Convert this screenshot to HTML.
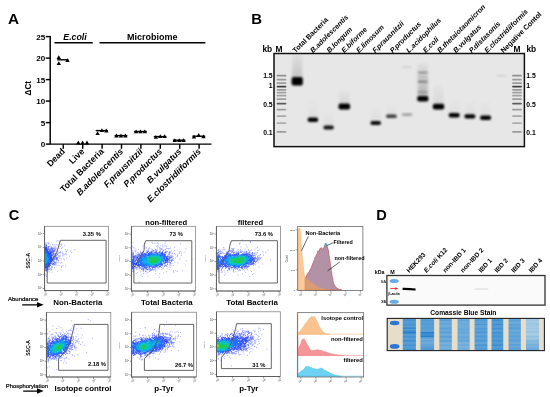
<!DOCTYPE html>
<html><head><meta charset="utf-8"><style>
html,body{margin:0;padding:0;background:#fff;overflow:hidden;width:550px;height:397px;}
svg{display:block;}
text{font-family:"Liberation Sans", Arial, sans-serif;}
</style></head><body>
<svg width="550" height="397" viewBox="0 0 550 397">
<rect width="550" height="397" fill="#fff"/>
<text x="8.00" y="23.60" font-size="15.3" font-weight="bold" text-anchor="start" fill="#000">A</text>
<g stroke="#000" stroke-width="1.45" fill="none">
<path d="M50.2 36.0V144.1H211.5"/>
<path d="M45.8 36.60H50.2"/>
<path d="M45.8 58.10H50.2"/>
<path d="M45.8 79.60H50.2"/>
<path d="M45.8 101.10H50.2"/>
<path d="M45.8 122.60H50.2"/>
<path d="M45.8 144.10H50.2"/>
<path d="M63.30 144.1V148.8"/>
<path d="M82.70 144.1V148.8"/>
<path d="M102.10 144.1V148.8"/>
<path d="M121.50 144.1V148.8"/>
<path d="M140.90 144.1V148.8"/>
<path d="M160.30 144.1V148.8"/>
<path d="M179.70 144.1V148.8"/>
<path d="M199.10 144.1V148.8"/>
<path d="M54.5 42.8H92.7M99.5 42.8H205.4"/>
</g>
<text x="45.30" y="39.50" font-size="8.1" font-weight="bold" text-anchor="end" fill="#000">25</text>
<text x="45.30" y="61.00" font-size="8.1" font-weight="bold" text-anchor="end" fill="#000">20</text>
<text x="45.30" y="82.50" font-size="8.1" font-weight="bold" text-anchor="end" fill="#000">15</text>
<text x="45.30" y="104.00" font-size="8.1" font-weight="bold" text-anchor="end" fill="#000">10</text>
<text x="45.30" y="125.50" font-size="8.1" font-weight="bold" text-anchor="end" fill="#000">5</text>
<text x="45.30" y="147.00" font-size="8.1" font-weight="bold" text-anchor="end" fill="#000">0</text>
<text x="30.70" y="88.20" font-size="8.2" font-weight="bold" text-anchor="middle" transform="rotate(-90 30.70 88.20)" fill="#000">&#916;Ct</text>
<text x="75.00" y="39.50" font-size="8.8" font-weight="bold" text-anchor="middle" font-style="italic" fill="#000">E.coli</text>
<text x="152.30" y="39.60" font-size="9.0" font-weight="bold" text-anchor="middle" fill="#000">Microbiome</text>
<text x="65.60" y="152.00" font-size="8.8" font-weight="bold" text-anchor="end" transform="rotate(-45 65.60 152.00)" fill="#000">Dead</text>
<text x="85.00" y="152.00" font-size="8.8" font-weight="bold" text-anchor="end" transform="rotate(-45 85.00 152.00)" fill="#000">Live</text>
<text x="104.40" y="152.00" font-size="8.8" font-weight="bold" text-anchor="end" transform="rotate(-45 104.40 152.00)" fill="#000">Total Bacteria</text>
<text x="123.80" y="152.00" font-size="8.8" font-weight="bold" text-anchor="end" font-style="italic" transform="rotate(-45 123.80 152.00)" fill="#000">B.adolescentis</text>
<text x="143.20" y="152.00" font-size="8.8" font-weight="bold" text-anchor="end" font-style="italic" transform="rotate(-45 143.20 152.00)" fill="#000">F.prausnitzii</text>
<text x="162.60" y="152.00" font-size="8.8" font-weight="bold" text-anchor="end" font-style="italic" transform="rotate(-45 162.60 152.00)" fill="#000">P.productus</text>
<text x="182.00" y="152.00" font-size="8.8" font-weight="bold" text-anchor="end" font-style="italic" transform="rotate(-45 182.00 152.00)" fill="#000">B.vulgatus</text>
<text x="201.40" y="152.00" font-size="8.8" font-weight="bold" text-anchor="end" font-style="italic" transform="rotate(-45 201.40 152.00)" fill="#000">E.clostridiiformis</text>
<path d="M56.60 59.10L58.80 55.30L61.00 59.10ZM56.60 65.00L58.80 61.20L61.00 65.00ZM65.30 62.00L67.50 58.20L69.70 62.00ZM76.10 144.40L78.30 140.60L80.50 144.40ZM80.40 144.40L82.60 140.60L84.80 144.40ZM84.80 144.40L87.00 140.60L89.20 144.40ZM95.40 135.10L97.60 131.30L99.80 135.10ZM99.70 132.00L101.90 128.20L104.10 132.00ZM104.10 132.40L106.30 128.60L108.50 132.40ZM114.20 137.40L116.40 133.60L118.60 137.40ZM118.80 137.40L121.00 133.60L123.20 137.40ZM123.20 137.40L125.40 133.60L127.60 137.40ZM133.90 133.30L136.10 129.50L138.30 133.30ZM138.30 133.30L140.50 129.50L142.70 133.30ZM142.60 133.30L144.80 129.50L147.00 133.30ZM153.70 138.80L155.90 135.00L158.10 138.80ZM158.10 138.10L160.30 134.30L162.50 138.10ZM162.40 138.10L164.60 134.30L166.80 138.10ZM172.60 142.00L174.80 138.20L177.00 142.00ZM177.00 142.00L179.20 138.20L181.40 142.00ZM181.30 142.00L183.50 138.20L185.70 142.00ZM191.80 138.60L194.00 134.80L196.20 138.60ZM196.50 136.90L198.70 133.10L200.90 136.90ZM201.30 138.30L203.50 134.50L205.70 138.30Z" fill="#000"/>
<g stroke="#000" stroke-width="1.4">
<path d="M57.2 59.8H68.4"/>
<path d="M95.7 130.6H108.0"/>
<path d="M114.6 135.6H127.4"/>
<path d="M134.2 131.5H146.8"/>
<path d="M153.8 136.6H166.4"/>
<path d="M173.0 140.2H185.4"/>
<path d="M192.4 136.2H205.2"/>
</g>
<text x="251.30" y="23.60" font-size="14.9" font-weight="bold" text-anchor="start" fill="#000">B</text>
<defs><filter id="bl" x="-50%" y="-50%" width="200%" height="200%"><feGaussianBlur stdDeviation="0.9"/></filter><filter id="bl2" x="-50%" y="-50%" width="200%" height="200%"><feGaussianBlur stdDeviation="1.4"/></filter><linearGradient id="smear" x1="0" y1="0" x2="0" y2="1"><stop offset="0" stop-color="#000" stop-opacity="0.04"/><stop offset="1" stop-color="#000" stop-opacity="0.22"/></linearGradient></defs>
<rect x="274.0" y="53.5" width="250.39999999999998" height="93.1" fill="#e7e7e7"/>
<defs><filter id="bl4" x="-50%" y="-80%" width="200%" height="260%"><feGaussianBlur stdDeviation="0.75"/></filter></defs>
<g><rect x="276.6" y="74.8" width="9.8" height="1.8" rx="0.9" fill="#000" fill-opacity="0.38" filter="url(#bl4)"/><rect x="276.6" y="78.8" width="9.8" height="1.8" rx="0.9" fill="#000" fill-opacity="0.33" filter="url(#bl4)"/><rect x="276.6" y="82.3" width="9.8" height="1.8" rx="0.9" fill="#000" fill-opacity="0.33" filter="url(#bl4)"/><rect x="276.6" y="85.7" width="9.8" height="1.8" rx="0.9" fill="#000" fill-opacity="0.72" filter="url(#bl4)"/><rect x="276.6" y="88.9" width="9.8" height="1.8" rx="0.9" fill="#000" fill-opacity="0.33" filter="url(#bl4)"/><rect x="276.6" y="91.7" width="9.8" height="1.8" rx="0.9" fill="#000" fill-opacity="0.3" filter="url(#bl4)"/><rect x="276.6" y="94.8" width="9.8" height="1.8" rx="0.9" fill="#000" fill-opacity="0.3" filter="url(#bl4)"/><rect x="276.6" y="98.2" width="9.8" height="1.8" rx="0.9" fill="#000" fill-opacity="0.32" filter="url(#bl4)"/><rect x="276.6" y="102.7" width="9.8" height="1.8" rx="0.9" fill="#000" fill-opacity="0.6" filter="url(#bl4)"/><rect x="276.6" y="108.7" width="9.8" height="1.8" rx="0.9" fill="#000" fill-opacity="0.32" filter="url(#bl4)"/><rect x="276.6" y="115.2" width="9.8" height="1.8" rx="0.9" fill="#000" fill-opacity="0.27" filter="url(#bl4)"/><rect x="276.6" y="122.3" width="9.8" height="1.8" rx="0.9" fill="#000" fill-opacity="0.25" filter="url(#bl4)"/><rect x="276.6" y="131.0" width="9.8" height="1.8" rx="0.9" fill="#000" fill-opacity="0.33" filter="url(#bl4)"/><rect x="512.1" y="74.8" width="9.8" height="1.8" rx="0.9" fill="#000" fill-opacity="0.38" filter="url(#bl4)"/><rect x="512.1" y="78.8" width="9.8" height="1.8" rx="0.9" fill="#000" fill-opacity="0.33" filter="url(#bl4)"/><rect x="512.1" y="82.3" width="9.8" height="1.8" rx="0.9" fill="#000" fill-opacity="0.33" filter="url(#bl4)"/><rect x="512.1" y="85.7" width="9.8" height="1.8" rx="0.9" fill="#000" fill-opacity="0.72" filter="url(#bl4)"/><rect x="512.1" y="88.9" width="9.8" height="1.8" rx="0.9" fill="#000" fill-opacity="0.33" filter="url(#bl4)"/><rect x="512.1" y="91.7" width="9.8" height="1.8" rx="0.9" fill="#000" fill-opacity="0.3" filter="url(#bl4)"/><rect x="512.1" y="94.8" width="9.8" height="1.8" rx="0.9" fill="#000" fill-opacity="0.3" filter="url(#bl4)"/><rect x="512.1" y="98.2" width="9.8" height="1.8" rx="0.9" fill="#000" fill-opacity="0.32" filter="url(#bl4)"/><rect x="512.1" y="102.7" width="9.8" height="1.8" rx="0.9" fill="#000" fill-opacity="0.6" filter="url(#bl4)"/><rect x="512.1" y="108.7" width="9.8" height="1.8" rx="0.9" fill="#000" fill-opacity="0.32" filter="url(#bl4)"/><rect x="512.1" y="115.2" width="9.8" height="1.8" rx="0.9" fill="#000" fill-opacity="0.27" filter="url(#bl4)"/><rect x="512.1" y="122.3" width="9.8" height="1.8" rx="0.9" fill="#000" fill-opacity="0.25" filter="url(#bl4)"/><rect x="512.1" y="131.0" width="9.8" height="1.8" rx="0.9" fill="#000" fill-opacity="0.33" filter="url(#bl4)"/><rect x="292.2" y="54.5" width="10" height="23.5" fill="url(#smear)" opacity="0.7" filter="url(#bl2)"/><rect x="339.3" y="90" width="10" height="14" fill="url(#smear)" opacity="0.35" filter="url(#bl2)"/><rect x="417.8" y="64" width="10" height="33" fill="url(#smear)" opacity="1.0" filter="url(#bl2)"/><rect x="433.5" y="84" width="10" height="21" fill="url(#smear)" opacity="0.3" filter="url(#bl2)"/><rect x="307.9" y="100" width="10" height="18" fill="url(#smear)" opacity="0.15" filter="url(#bl2)"/><rect x="449.2" y="100" width="10" height="14" fill="url(#smear)" opacity="0.15" filter="url(#bl2)"/><rect x="464.9" y="100" width="10" height="15" fill="url(#smear)" opacity="0.15" filter="url(#bl2)"/><rect x="480.6" y="100" width="10" height="16" fill="url(#smear)" opacity="0.15" filter="url(#bl2)"/><rect x="370.7" y="108" width="10" height="13" fill="url(#smear)" opacity="0.15" filter="url(#bl2)"/><rect x="386.4" y="105" width="10" height="10" fill="url(#smear)" opacity="0.15" filter="url(#bl2)"/><rect x="323.6" y="110" width="10" height="16" fill="url(#smear)" opacity="0.15" filter="url(#bl2)"/><rect x="291.6" y="77.0" width="11.2" height="8.4" rx="2" fill="#000" fill-opacity="1.0" filter="url(#bl)"/><rect x="307.6" y="117.5" width="10.6" height="4.6" rx="2" fill="#000" fill-opacity="1.0" filter="url(#bl)"/><rect x="323.4" y="125.5" width="10.4" height="4.0" rx="2.0" fill="#000" fill-opacity="0.92" filter="url(#bl)"/><rect x="338.5" y="103.6" width="11.6" height="6.0" rx="2" fill="#000" fill-opacity="1.0" filter="url(#bl)"/><rect x="370.4" y="120.9" width="10.6" height="4.0" rx="2.0" fill="#000" fill-opacity="0.97" filter="url(#bl)"/><rect x="386.0" y="114.6" width="10.8" height="3.4" rx="1.7" fill="#000" fill-opacity="0.75" filter="url(#bl)"/><rect x="401.9" y="113.3" width="10.4" height="2.6" rx="1.3" fill="#000" fill-opacity="0.3" filter="url(#bl)"/><rect x="402.1" y="66.2" width="10.0" height="1.6" rx="0.8" fill="#000" fill-opacity="0.12" filter="url(#bl)"/><rect x="417.2" y="96.0" width="11.2" height="5.6" rx="2" fill="#000" fill-opacity="1.0" filter="url(#bl)"/><rect x="417.6" y="71.5" width="10.4" height="2.2" rx="1.1" fill="#000" fill-opacity="0.3" filter="url(#bl)"/><rect x="417.6" y="80.5" width="10.4" height="2.2" rx="1.1" fill="#000" fill-opacity="0.35" filter="url(#bl)"/><rect x="417.6" y="76.2" width="10.4" height="1.6" rx="0.8" fill="#000" fill-opacity="0.15" filter="url(#bl)"/><rect x="417.6" y="91.1" width="10.4" height="1.8" rx="0.9" fill="#000" fill-opacity="0.2" filter="url(#bl)"/><rect x="432.8" y="103.7" width="11.4" height="5.8" rx="2" fill="#000" fill-opacity="1.0" filter="url(#bl)"/><rect x="448.7" y="113.1" width="11.0" height="4.4" rx="2" fill="#000" fill-opacity="1.0" filter="url(#bl)"/><rect x="464.4" y="114.2" width="11.0" height="4.4" rx="2" fill="#000" fill-opacity="1.0" filter="url(#bl)"/><rect x="480.1" y="115.6" width="11.0" height="4.4" rx="2" fill="#000" fill-opacity="1.0" filter="url(#bl)"/><rect x="496.5" y="74.9" width="9.6" height="1.6" rx="0.8" fill="#000" fill-opacity="0.12" filter="url(#bl)"/></g>
<rect x="274.0" y="144.7" width="250.39999999999998" height="1.2" fill="#f0f0f0"/>
<rect x="274.0" y="53.5" width="250.39999999999998" height="93.1" fill="none" stroke="#111" stroke-width="1.5"/>
<text x="272.60" y="77.50" font-size="6.8" font-weight="bold" text-anchor="end" fill="#000">1.5</text>
<text x="526.30" y="77.50" font-size="6.8" font-weight="bold" text-anchor="start" fill="#000">1.5</text>
<text x="272.60" y="88.10" font-size="6.8" font-weight="bold" text-anchor="end" fill="#000">1</text>
<text x="526.30" y="88.10" font-size="6.8" font-weight="bold" text-anchor="start" fill="#000">1</text>
<text x="272.60" y="106.70" font-size="6.8" font-weight="bold" text-anchor="end" fill="#000">0.5</text>
<text x="526.30" y="106.70" font-size="6.8" font-weight="bold" text-anchor="start" fill="#000">0.5</text>
<text x="272.60" y="134.60" font-size="6.8" font-weight="bold" text-anchor="end" fill="#000">0.1</text>
<text x="526.30" y="134.60" font-size="6.8" font-weight="bold" text-anchor="start" fill="#000">0.1</text>
<text x="262.40" y="52.00" font-size="8.4" font-weight="bold" text-anchor="start" fill="#000">kb</text>
<text x="275.40" y="52.00" font-size="8.4" font-weight="bold" text-anchor="start" fill="#000">M</text>
<text x="513.40" y="52.40" font-size="8.4" font-weight="bold" text-anchor="start" fill="#000">M</text>
<text x="526.40" y="52.40" font-size="8.4" font-weight="bold" text-anchor="start" fill="#000">kb</text>
<text x="295.60" y="53.30" font-size="7.15" font-weight="bold" text-anchor="start" transform="rotate(-45 295.60 53.30)" fill="#000">Total Bacteria</text>
<text x="313.10" y="53.30" font-size="7.15" font-weight="bold" text-anchor="start" font-style="italic" transform="rotate(-45 313.10 53.30)" fill="#000">B.adolescentis</text>
<text x="329.40" y="53.30" font-size="7.15" font-weight="bold" text-anchor="start" font-style="italic" transform="rotate(-45 329.40 53.30)" fill="#000">B.longum</text>
<text x="344.30" y="53.30" font-size="7.15" font-weight="bold" text-anchor="start" font-style="italic" transform="rotate(-45 344.30 53.30)" fill="#000">E.biforme</text>
<text x="358.90" y="53.30" font-size="7.15" font-weight="bold" text-anchor="start" font-style="italic" transform="rotate(-45 358.90 53.30)" fill="#000">E.limosum</text>
<text x="375.20" y="53.30" font-size="7.15" font-weight="bold" text-anchor="start" font-style="italic" transform="rotate(-45 375.20 53.30)" fill="#000">F.prausnitzii</text>
<text x="392.80" y="53.30" font-size="7.15" font-weight="bold" text-anchor="start" font-style="italic" transform="rotate(-45 392.80 53.30)" fill="#000">P.productus</text>
<text x="409.10" y="53.30" font-size="7.15" font-weight="bold" text-anchor="start" font-style="italic" transform="rotate(-45 409.10 53.30)" fill="#000">L.acidophilus</text>
<text x="425.80" y="53.30" font-size="7.15" font-weight="bold" text-anchor="start" font-style="italic" transform="rotate(-45 425.80 53.30)" fill="#000">E.coli</text>
<text x="439.90" y="53.30" font-size="7.15" font-weight="bold" text-anchor="start" font-style="italic" transform="rotate(-45 439.90 53.30)" fill="#000">B.thetaiotaomicron</text>
<text x="456.00" y="53.30" font-size="7.15" font-weight="bold" text-anchor="start" font-style="italic" transform="rotate(-45 456.00 53.30)" fill="#000">B.vulgatus</text>
<text x="471.80" y="53.30" font-size="7.15" font-weight="bold" text-anchor="start" font-style="italic" transform="rotate(-45 471.80 53.30)" fill="#000">P.distasonis</text>
<text x="487.20" y="53.30" font-size="7.15" font-weight="bold" text-anchor="start" font-style="italic" transform="rotate(-45 487.20 53.30)" fill="#000">E.clostridiiformis</text>
<text x="503.60" y="53.30" font-size="7.15" font-weight="bold" text-anchor="start" transform="rotate(-45 503.60 53.30)" fill="#000">Negative Contol</text>
<text x="8.80" y="219.70" font-size="14.6" font-weight="bold" text-anchor="start" fill="#000">C</text>
<rect x="44.6" y="226.3" width="63.99999999999999" height="64.30000000000001" fill="none" stroke="#777" stroke-width="0.7"/>
<path d="M44.6 226.3V290.6H108.6" fill="none" stroke="#444" stroke-width="0.7"/>
<path d="M42.6 288.5h2.0M42.6 274.8h2.0M42.6 261.1h2.0M42.6 247.4h2.0M42.6 233.7h2.0M45.2 290.6v2.0M60.7 290.6v2.0M76.2 290.6v2.0M91.7 290.6v2.0M107.2 290.6v2.0" stroke="#444" stroke-width="0.5"/>
<text x="42.00" y="289.40" font-size="2.6" font-weight="normal" text-anchor="end" fill="#333">10<tspan font-size="1.8" dy="-1">1</tspan></text>
<text x="42.00" y="275.70" font-size="2.6" font-weight="normal" text-anchor="end" fill="#333">10<tspan font-size="1.8" dy="-1">2</tspan></text>
<text x="42.00" y="262.00" font-size="2.6" font-weight="normal" text-anchor="end" fill="#333">10<tspan font-size="1.8" dy="-1">3</tspan></text>
<text x="42.00" y="248.30" font-size="2.6" font-weight="normal" text-anchor="end" fill="#333">10<tspan font-size="1.8" dy="-1">4</tspan></text>
<text x="42.00" y="234.60" font-size="2.6" font-weight="normal" text-anchor="end" fill="#333">10<tspan font-size="1.8" dy="-1">5</tspan></text>
<text x="46.20" y="295.20" font-size="2.6" font-weight="normal" text-anchor="middle" transform="rotate(-30 46.20 295.20)" fill="#333">10<tspan font-size="1.8" dy="-1">1</tspan></text>
<text x="61.70" y="295.20" font-size="2.6" font-weight="normal" text-anchor="middle" transform="rotate(-30 61.70 295.20)" fill="#333">10<tspan font-size="1.8" dy="-1">2</tspan></text>
<text x="77.20" y="295.20" font-size="2.6" font-weight="normal" text-anchor="middle" transform="rotate(-30 77.20 295.20)" fill="#333">10<tspan font-size="1.8" dy="-1">3</tspan></text>
<text x="92.70" y="295.20" font-size="2.6" font-weight="normal" text-anchor="middle" transform="rotate(-30 92.70 295.20)" fill="#333">10<tspan font-size="1.8" dy="-1">4</tspan></text>
<text x="108.20" y="295.20" font-size="2.6" font-weight="normal" text-anchor="middle" transform="rotate(-30 108.20 295.20)" fill="#333">10<tspan font-size="1.8" dy="-1">5</tspan></text>
<rect x="131.4" y="226.3" width="64.19999999999999" height="64.69999999999999" fill="none" stroke="#777" stroke-width="0.7"/>
<path d="M131.4 226.3V291.0H195.6" fill="none" stroke="#444" stroke-width="0.7"/>
<path d="M129.4 288.9h2.0M129.4 275.2h2.0M129.4 261.5h2.0M129.4 247.8h2.0M129.4 234.1h2.0M132.0 291.0v2.0M147.5 291.0v2.0M163.0 291.0v2.0M178.5 291.0v2.0M194.0 291.0v2.0" stroke="#444" stroke-width="0.5"/>
<text x="128.80" y="289.80" font-size="2.6" font-weight="normal" text-anchor="end" fill="#333">10<tspan font-size="1.8" dy="-1">1</tspan></text>
<text x="128.80" y="276.10" font-size="2.6" font-weight="normal" text-anchor="end" fill="#333">10<tspan font-size="1.8" dy="-1">2</tspan></text>
<text x="128.80" y="262.40" font-size="2.6" font-weight="normal" text-anchor="end" fill="#333">10<tspan font-size="1.8" dy="-1">3</tspan></text>
<text x="128.80" y="248.70" font-size="2.6" font-weight="normal" text-anchor="end" fill="#333">10<tspan font-size="1.8" dy="-1">4</tspan></text>
<text x="128.80" y="235.00" font-size="2.6" font-weight="normal" text-anchor="end" fill="#333">10<tspan font-size="1.8" dy="-1">5</tspan></text>
<text x="133.00" y="295.60" font-size="2.6" font-weight="normal" text-anchor="middle" transform="rotate(-30 133.00 295.60)" fill="#333">10<tspan font-size="1.8" dy="-1">1</tspan></text>
<text x="148.50" y="295.60" font-size="2.6" font-weight="normal" text-anchor="middle" transform="rotate(-30 148.50 295.60)" fill="#333">10<tspan font-size="1.8" dy="-1">2</tspan></text>
<text x="164.00" y="295.60" font-size="2.6" font-weight="normal" text-anchor="middle" transform="rotate(-30 164.00 295.60)" fill="#333">10<tspan font-size="1.8" dy="-1">3</tspan></text>
<text x="179.50" y="295.60" font-size="2.6" font-weight="normal" text-anchor="middle" transform="rotate(-30 179.50 295.60)" fill="#333">10<tspan font-size="1.8" dy="-1">4</tspan></text>
<text x="195.00" y="295.60" font-size="2.6" font-weight="normal" text-anchor="middle" transform="rotate(-30 195.00 295.60)" fill="#333">10<tspan font-size="1.8" dy="-1">5</tspan></text>
<rect x="216.4" y="226.3" width="64.20000000000002" height="64.69999999999999" fill="none" stroke="#777" stroke-width="0.7"/>
<path d="M216.4 226.3V291.0H280.6" fill="none" stroke="#444" stroke-width="0.7"/>
<path d="M214.4 288.9h2.0M214.4 275.2h2.0M214.4 261.5h2.0M214.4 247.8h2.0M214.4 234.1h2.0M217.0 291.0v2.0M232.5 291.0v2.0M248.0 291.0v2.0M263.5 291.0v2.0M279.0 291.0v2.0" stroke="#444" stroke-width="0.5"/>
<text x="213.80" y="289.80" font-size="2.6" font-weight="normal" text-anchor="end" fill="#333">10<tspan font-size="1.8" dy="-1">1</tspan></text>
<text x="213.80" y="276.10" font-size="2.6" font-weight="normal" text-anchor="end" fill="#333">10<tspan font-size="1.8" dy="-1">2</tspan></text>
<text x="213.80" y="262.40" font-size="2.6" font-weight="normal" text-anchor="end" fill="#333">10<tspan font-size="1.8" dy="-1">3</tspan></text>
<text x="213.80" y="248.70" font-size="2.6" font-weight="normal" text-anchor="end" fill="#333">10<tspan font-size="1.8" dy="-1">4</tspan></text>
<text x="213.80" y="235.00" font-size="2.6" font-weight="normal" text-anchor="end" fill="#333">10<tspan font-size="1.8" dy="-1">5</tspan></text>
<text x="218.00" y="295.60" font-size="2.6" font-weight="normal" text-anchor="middle" transform="rotate(-30 218.00 295.60)" fill="#333">10<tspan font-size="1.8" dy="-1">1</tspan></text>
<text x="233.50" y="295.60" font-size="2.6" font-weight="normal" text-anchor="middle" transform="rotate(-30 233.50 295.60)" fill="#333">10<tspan font-size="1.8" dy="-1">2</tspan></text>
<text x="249.00" y="295.60" font-size="2.6" font-weight="normal" text-anchor="middle" transform="rotate(-30 249.00 295.60)" fill="#333">10<tspan font-size="1.8" dy="-1">3</tspan></text>
<text x="264.50" y="295.60" font-size="2.6" font-weight="normal" text-anchor="middle" transform="rotate(-30 264.50 295.60)" fill="#333">10<tspan font-size="1.8" dy="-1">4</tspan></text>
<text x="280.00" y="295.60" font-size="2.6" font-weight="normal" text-anchor="middle" transform="rotate(-30 280.00 295.60)" fill="#333">10<tspan font-size="1.8" dy="-1">5</tspan></text>
<rect x="46.4" y="312.4" width="64.4" height="64.60000000000002" fill="none" stroke="#777" stroke-width="0.7"/>
<path d="M46.4 312.4V377.0H110.8" fill="none" stroke="#444" stroke-width="0.7"/>
<path d="M44.4 374.9h2.0M44.4 361.2h2.0M44.4 347.5h2.0M44.4 333.8h2.0M44.4 320.1h2.0M47.0 377.0v2.0M62.5 377.0v2.0M78.0 377.0v2.0M93.5 377.0v2.0M109.0 377.0v2.0" stroke="#444" stroke-width="0.5"/>
<text x="43.80" y="375.80" font-size="2.6" font-weight="normal" text-anchor="end" fill="#333">10<tspan font-size="1.8" dy="-1">1</tspan></text>
<text x="43.80" y="362.10" font-size="2.6" font-weight="normal" text-anchor="end" fill="#333">10<tspan font-size="1.8" dy="-1">2</tspan></text>
<text x="43.80" y="348.40" font-size="2.6" font-weight="normal" text-anchor="end" fill="#333">10<tspan font-size="1.8" dy="-1">3</tspan></text>
<text x="43.80" y="334.70" font-size="2.6" font-weight="normal" text-anchor="end" fill="#333">10<tspan font-size="1.8" dy="-1">4</tspan></text>
<text x="43.80" y="321.00" font-size="2.6" font-weight="normal" text-anchor="end" fill="#333">10<tspan font-size="1.8" dy="-1">5</tspan></text>
<text x="48.00" y="381.60" font-size="2.6" font-weight="normal" text-anchor="middle" transform="rotate(-30 48.00 381.60)" fill="#333">10<tspan font-size="1.8" dy="-1">1</tspan></text>
<text x="63.50" y="381.60" font-size="2.6" font-weight="normal" text-anchor="middle" transform="rotate(-30 63.50 381.60)" fill="#333">10<tspan font-size="1.8" dy="-1">2</tspan></text>
<text x="79.00" y="381.60" font-size="2.6" font-weight="normal" text-anchor="middle" transform="rotate(-30 79.00 381.60)" fill="#333">10<tspan font-size="1.8" dy="-1">3</tspan></text>
<text x="94.50" y="381.60" font-size="2.6" font-weight="normal" text-anchor="middle" transform="rotate(-30 94.50 381.60)" fill="#333">10<tspan font-size="1.8" dy="-1">4</tspan></text>
<text x="110.00" y="381.60" font-size="2.6" font-weight="normal" text-anchor="middle" transform="rotate(-30 110.00 381.60)" fill="#333">10<tspan font-size="1.8" dy="-1">5</tspan></text>
<rect x="131.6" y="312.2" width="64.80000000000001" height="64.80000000000001" fill="none" stroke="#777" stroke-width="0.7"/>
<path d="M131.6 312.2V377.0H196.4" fill="none" stroke="#444" stroke-width="0.7"/>
<path d="M129.6 374.9h2.0M129.6 361.2h2.0M129.6 347.5h2.0M129.6 333.8h2.0M129.6 320.1h2.0M132.2 377.0v2.0M147.7 377.0v2.0M163.2 377.0v2.0M178.7 377.0v2.0M194.2 377.0v2.0" stroke="#444" stroke-width="0.5"/>
<text x="129.00" y="375.80" font-size="2.6" font-weight="normal" text-anchor="end" fill="#333">10<tspan font-size="1.8" dy="-1">1</tspan></text>
<text x="129.00" y="362.10" font-size="2.6" font-weight="normal" text-anchor="end" fill="#333">10<tspan font-size="1.8" dy="-1">2</tspan></text>
<text x="129.00" y="348.40" font-size="2.6" font-weight="normal" text-anchor="end" fill="#333">10<tspan font-size="1.8" dy="-1">3</tspan></text>
<text x="129.00" y="334.70" font-size="2.6" font-weight="normal" text-anchor="end" fill="#333">10<tspan font-size="1.8" dy="-1">4</tspan></text>
<text x="129.00" y="321.00" font-size="2.6" font-weight="normal" text-anchor="end" fill="#333">10<tspan font-size="1.8" dy="-1">5</tspan></text>
<text x="133.20" y="381.60" font-size="2.6" font-weight="normal" text-anchor="middle" transform="rotate(-30 133.20 381.60)" fill="#333">10<tspan font-size="1.8" dy="-1">1</tspan></text>
<text x="148.70" y="381.60" font-size="2.6" font-weight="normal" text-anchor="middle" transform="rotate(-30 148.70 381.60)" fill="#333">10<tspan font-size="1.8" dy="-1">2</tspan></text>
<text x="164.20" y="381.60" font-size="2.6" font-weight="normal" text-anchor="middle" transform="rotate(-30 164.20 381.60)" fill="#333">10<tspan font-size="1.8" dy="-1">3</tspan></text>
<text x="179.70" y="381.60" font-size="2.6" font-weight="normal" text-anchor="middle" transform="rotate(-30 179.70 381.60)" fill="#333">10<tspan font-size="1.8" dy="-1">4</tspan></text>
<text x="195.20" y="381.60" font-size="2.6" font-weight="normal" text-anchor="middle" transform="rotate(-30 195.20 381.60)" fill="#333">10<tspan font-size="1.8" dy="-1">5</tspan></text>
<rect x="216.5" y="311.8" width="63.80000000000001" height="64.69999999999999" fill="none" stroke="#777" stroke-width="0.7"/>
<path d="M216.5 311.8V376.5H280.3" fill="none" stroke="#444" stroke-width="0.7"/>
<path d="M214.5 374.4h2.0M214.5 360.7h2.0M214.5 347.0h2.0M214.5 333.3h2.0M214.5 319.6h2.0M217.1 376.5v2.0M232.6 376.5v2.0M248.1 376.5v2.0M263.6 376.5v2.0M279.1 376.5v2.0" stroke="#444" stroke-width="0.5"/>
<text x="213.90" y="375.30" font-size="2.6" font-weight="normal" text-anchor="end" fill="#333">10<tspan font-size="1.8" dy="-1">1</tspan></text>
<text x="213.90" y="361.60" font-size="2.6" font-weight="normal" text-anchor="end" fill="#333">10<tspan font-size="1.8" dy="-1">2</tspan></text>
<text x="213.90" y="347.90" font-size="2.6" font-weight="normal" text-anchor="end" fill="#333">10<tspan font-size="1.8" dy="-1">3</tspan></text>
<text x="213.90" y="334.20" font-size="2.6" font-weight="normal" text-anchor="end" fill="#333">10<tspan font-size="1.8" dy="-1">4</tspan></text>
<text x="213.90" y="320.50" font-size="2.6" font-weight="normal" text-anchor="end" fill="#333">10<tspan font-size="1.8" dy="-1">5</tspan></text>
<text x="218.10" y="381.10" font-size="2.6" font-weight="normal" text-anchor="middle" transform="rotate(-30 218.10 381.10)" fill="#333">10<tspan font-size="1.8" dy="-1">1</tspan></text>
<text x="233.60" y="381.10" font-size="2.6" font-weight="normal" text-anchor="middle" transform="rotate(-30 233.60 381.10)" fill="#333">10<tspan font-size="1.8" dy="-1">2</tspan></text>
<text x="249.10" y="381.10" font-size="2.6" font-weight="normal" text-anchor="middle" transform="rotate(-30 249.10 381.10)" fill="#333">10<tspan font-size="1.8" dy="-1">3</tspan></text>
<text x="264.60" y="381.10" font-size="2.6" font-weight="normal" text-anchor="middle" transform="rotate(-30 264.60 381.10)" fill="#333">10<tspan font-size="1.8" dy="-1">4</tspan></text>
<text x="280.10" y="381.10" font-size="2.6" font-weight="normal" text-anchor="middle" transform="rotate(-30 280.10 381.10)" fill="#333">10<tspan font-size="1.8" dy="-1">5</tspan></text>
<path d="M74.3 249.6h0.85M57.3 271.6h0.85M65.2 266.0h0.85M69.2 256.2h0.85M71.3 252.5h0.85M60.8 270.0h0.85M66.4 258.0h0.85M69.8 251.2h0.85M64.3 245.3h0.85M56.4 241.3h0.85M64.0 259.9h0.85M63.2 259.0h0.85M58.8 241.3h0.85M57.4 240.5h0.85M62.5 265.4h0.85M61.4 266.2h0.85M61.8 247.1h0.85M58.9 241.8h0.85M67.1 250.0h0.85M61.3 262.6h0.85M61.0 266.8h0.85M60.9 267.1h0.85M60.6 243.9h0.85M61.3 244.5h0.85M54.2 267.7h0.85M46.1 276.4h0.85M65.1 249.4h0.85M61.1 248.4h0.85M61.1 245.3h0.85M58.6 265.5h0.85M52.4 244.3h0.85M52.3 244.6h0.85M66.3 251.5h0.85M51.6 272.0h0.85M59.6 246.6h0.85M57.7 245.0h0.85M65.8 254.8h0.85M65.4 254.1h0.85M59.6 263.1h0.85M58.6 248.3h0.85M48.4 243.0h0.85M60.9 259.0h0.85M65.7 251.0h0.85M65.8 252.1h0.85M62.5 255.9h0.85M65.4 253.8h0.85M56.4 244.7h0.85M61.9 252.2h0.85M63.8 254.7h0.85M45.7 275.1h0.85M45.4 274.3h0.85M63.4 253.8h0.85M62.6 255.2h0.85M60.3 252.3h0.85M60.1 251.6h0.85M47.4 242.8h0.85M62.1 253.7h0.85M54.3 244.8h0.85M50.9 270.3h0.85M50.9 269.5h0.85M55.5 265.7h0.85M45.5 242.7h0.85M60.4 255.1h0.85M55.4 246.6h0.85M48.2 243.6h0.85M48.5 243.8h0.85M46.9 272.4h0.85M50.3 244.9h0.85M57.7 262.7h0.85M57.5 251.1h0.85M51.3 268.8h0.85M59.6 253.0h0.85M59.3 252.6h0.85M58.4 252.8h0.85M59.7 252.5h0.85M55.6 248.3h0.85M55.6 248.3h0.85M59.3 258.4h0.85M59.5 257.1h0.85M54.8 247.6h0.85M49.6 269.5h0.85M48.3 270.9h0.85M49.0 272.0h0.85M46.4 244.6h0.85M56.1 263.9h0.85M58.9 255.9h0.85M59.6 256.4h0.85M58.5 256.0h0.85M57.9 261.1h0.85M57.7 260.5h0.85M58.1 260.2h0.85M55.7 249.7h0.85M57.2 252.3h0.85M57.6 253.6h0.85M53.7 246.7h0.85M48.2 246.2h0.85M45.6 243.7h0.85M45.6 244.6h0.85M50.8 247.7h0.85M56.5 251.4h0.85M55.7 261.6h0.85M55.8 262.5h0.85M56.8 259.5h0.85M57.1 254.4h0.85M57.4 255.0h0.85M56.9 254.6h0.85M51.2 266.8h0.85M51.0 267.6h0.85M51.7 266.2h0.85M52.1 267.3h0.85M53.7 265.4h0.85M52.4 264.8h0.85M53.8 247.9h0.85M54.5 249.2h0.85M53.8 249.0h0.85M54.5 248.7h0.85M46.3 271.2h0.85M46.2 271.5h0.85M50.2 268.7h0.85M54.8 263.3h0.85M54.6 264.4h0.85M54.0 264.1h0.85M55.2 264.3h0.85M54.3 264.2h0.85M50.6 246.4h0.85M56.6 253.1h0.85M57.7 256.2h0.85M57.4 258.2h0.85M57.7 257.3h0.85M56.8 257.6h0.85M56.6 260.1h0.85M56.5 260.7h0.85M46.1 271.3h0.85M56.4 253.9h0.85M55.5 254.6h0.85M56.5 254.8h0.85M56.7 254.1h0.85" stroke="#8c96ff" stroke-width="0.85" fill="none"/><path d="M46.3 245.7h0.85M54.4 250.7h0.85M54.2 250.3h0.85M53.8 250.8h0.85M55.0 249.8h0.85M52.8 248.8h0.85M52.6 248.2h0.85M53.2 248.4h0.85M54.9 262.9h0.85M54.4 262.2h0.85M54.0 262.3h0.85M54.7 263.0h0.85M56.0 258.5h0.85M56.0 259.5h0.85M56.8 259.1h0.85M56.3 258.8h0.85M56.6 258.5h0.85M56.1 259.1h0.85M54.3 251.8h0.85M55.5 256.7h0.85M55.7 255.5h0.85M55.5 255.5h0.85M53.6 263.4h0.85M53.3 263.8h0.85M52.5 263.9h0.85M53.6 264.5h0.85M52.3 264.5h0.85M52.8 263.9h0.85M53.0 263.3h0.85M56.3 257.9h0.85M56.7 257.9h0.85M55.6 257.9h0.85M56.2 258.0h0.85M55.5 257.1h0.85M51.9 249.1h0.85M52.2 248.1h0.85M50.8 248.0h0.85M51.4 247.7h0.85M51.2 248.6h0.85M51.0 248.2h0.85M48.8 246.4h0.85M48.6 246.8h0.85M48.1 247.2h0.85M55.3 253.2h0.85M54.7 253.7h0.85M45.9 245.4h0.85M45.2 245.1h0.85M45.7 245.3h0.85M54.7 254.7h0.85M54.8 254.8h0.85M54.8 255.1h0.85M53.4 250.6h0.85M52.5 250.6h0.85M52.8 250.0h0.85M50.0 248.7h0.85M46.9 269.5h0.85M47.4 269.5h0.85M46.7 270.3h0.85M46.2 270.1h0.85M46.3 269.3h0.85M46.2 270.6h0.85M46.7 269.4h0.85M47.6 269.5h0.85M55.0 256.8h0.85M54.6 256.1h0.85M53.8 256.4h0.85M55.2 256.4h0.85M53.9 256.4h0.85M48.8 269.1h0.85M48.5 268.7h0.85M54.1 259.6h0.85M54.3 258.8h0.85M55.2 259.2h0.85M53.9 258.7h0.85M53.4 262.0h0.85M53.9 257.6h0.85M55.2 257.3h0.85M53.8 258.1h0.85M53.1 252.0h0.85M52.9 251.0h0.85M52.4 251.2h0.85M53.1 251.9h0.85M53.1 251.3h0.85M53.1 252.0h0.85M52.3 251.9h0.85M53.4 251.4h0.85M53.4 251.5h0.85M51.4 249.5h0.85M52.1 249.7h0.85M51.7 249.6h0.85M50.8 250.3h0.85M51.5 250.7h0.85M51.2 249.4h0.85M51.6 264.0h0.85M52.9 253.4h0.85M52.7 253.5h0.85M53.4 253.6h0.85M52.6 253.8h0.85M53.4 253.1h0.85M47.4 247.0h0.85M47.6 247.4h0.85M46.0 269.2h0.85M45.3 270.4h0.85M45.6 270.3h0.85M45.9 269.5h0.85M45.9 269.4h0.85M45.5 270.7h0.85M53.2 254.7h0.85M52.2 255.0h0.85M53.0 254.0h0.85M52.6 261.4h0.85M53.7 261.3h0.85M52.3 260.1h0.85M53.3 260.3h0.85M52.9 260.2h0.85M52.5 260.2h0.85M47.8 248.8h0.85M48.9 248.9h0.85M48.3 249.2h0.85M47.9 248.1h0.85M53.4 256.7h0.85M52.7 256.5h0.85M52.7 255.4h0.85M50.1 265.0h0.85M49.4 264.6h0.85M49.2 265.2h0.85M49.4 265.2h0.85M49.5 265.4h0.85M49.5 265.6h0.85M50.1 250.5h0.85M50.1 249.7h0.85M50.0 249.5h0.85M49.6 250.6h0.85M51.9 251.4h0.85M51.7 251.3h0.85M51.9 251.0h0.85M51.0 251.6h0.85M51.4 251.2h0.85M52.2 251.6h0.85M52.1 252.1h0.85M53.6 259.2h0.85M52.9 258.5h0.85M52.2 259.8h0.85M52.9 258.8h0.85M53.5 259.8h0.85M53.2 258.8h0.85M53.3 257.8h0.85M53.1 257.7h0.85M52.9 258.4h0.85M52.9 257.5h0.85M52.6 257.8h0.85M52.0 262.9h0.85M51.6 262.9h0.85M48.9 266.7h0.85M48.5 266.3h0.85M48.7 267.0h0.85M48.1 267.4h0.85M46.4 268.3h0.85M46.3 268.5h0.85M47.2 268.0h0.85M47.3 268.7h0.85M45.2 247.1h0.85M45.5 247.0h0.85M45.6 247.7h0.85M45.9 246.9h0.85M45.8 246.6h0.85M45.9 247.4h0.85M45.8 246.8h0.85M51.4 252.5h0.85M51.7 252.8h0.85M50.8 253.8h0.85M51.7 252.6h0.85M50.7 254.0h0.85M50.8 255.2h0.85M51.2 255.1h0.85M52.2 254.7h0.85M51.2 255.1h0.85M50.8 255.1h0.85M51.2 255.1h0.85M49.7 251.4h0.85M50.5 251.8h0.85M49.6 251.7h0.85M49.7 251.5h0.85M50.6 252.1h0.85M51.0 261.1h0.85M52.0 260.0h0.85M51.2 260.9h0.85M51.1 261.2h0.85M51.3 260.5h0.85M51.3 260.2h0.85M50.8 260.6h0.85M51.7 260.1h0.85M51.1 260.3h0.85M51.7 261.1h0.85M49.3 263.7h0.85M49.2 263.4h0.85M50.4 263.3h0.85M50.7 263.4h0.85M50.4 263.1h0.85M50.6 263.4h0.85M49.3 263.2h0.85M48.7 250.8h0.85M48.8 250.2h0.85M47.9 249.3h0.85M48.8 250.3h0.85M49.0 250.5h0.85M48.9 249.6h0.85M51.8 255.6h0.85M51.2 256.5h0.85M50.8 255.6h0.85M50.9 255.6h0.85M52.1 255.7h0.85M47.4 249.2h0.85M46.2 248.4h0.85M47.1 248.8h0.85M46.3 248.5h0.85M45.5 267.9h0.85M45.9 268.3h0.85M45.2 268.8h0.85M46.0 269.0h0.85M45.5 268.4h0.85M45.7 268.1h0.85M45.3 269.0h0.85" stroke="#5a6cff" stroke-width="0.85" fill="none"/><path d="M50.8 257.3h0.85M51.4 257.6h0.85M51.0 258.0h0.85M50.8 257.9h0.85M50.7 258.4h0.85M51.0 257.8h0.85M51.3 257.5h0.85M50.7 257.9h0.85M51.1 258.2h0.85M51.9 259.7h0.85M51.4 259.9h0.85M51.0 258.8h0.85M52.2 260.0h0.85M50.7 259.1h0.85M51.8 258.7h0.85M50.9 259.7h0.85M50.7 259.4h0.85M50.9 259.6h0.85M50.7 253.0h0.85M49.5 252.3h0.85M50.4 253.5h0.85M50.5 252.4h0.85M50.2 253.8h0.85M50.1 253.3h0.85M50.0 252.5h0.85M50.5 252.5h0.85M49.4 253.8h0.85M50.4 253.0h0.85M49.9 252.6h0.85M50.1 253.3h0.85M48.6 266.1h0.85M48.3 265.2h0.85M47.7 265.4h0.85M47.7 264.6h0.85M48.3 266.0h0.85M47.6 266.4h0.85M47.1 267.2h0.85M46.9 266.1h0.85M46.1 267.5h0.85M47.5 266.3h0.85M46.3 266.5h0.85M46.2 267.1h0.85M46.1 267.0h0.85M46.5 267.0h0.85M46.3 267.5h0.85M46.9 266.8h0.85M45.3 248.5h0.85M45.4 248.1h0.85M46.0 248.5h0.85M45.8 248.2h0.85M45.5 249.1h0.85M45.6 248.3h0.85M46.1 248.9h0.85M45.9 247.9h0.85M45.3 249.0h0.85M45.4 247.9h0.85M46.0 249.2h0.85M45.4 248.9h0.85M45.5 248.2h0.85M46.1 249.0h0.85M45.9 248.0h0.85M45.6 249.0h0.85M45.5 247.8h0.85M50.3 263.0h0.85M50.0 261.7h0.85M50.3 262.5h0.85M50.1 262.9h0.85M50.1 262.9h0.85M48.9 251.8h0.85M47.7 252.1h0.85M47.9 252.3h0.85M47.8 252.2h0.85M48.6 251.7h0.85M49.2 254.7h0.85M50.1 254.4h0.85M50.0 254.0h0.85M49.4 254.2h0.85M50.6 254.7h0.85M50.0 253.9h0.85M47.3 250.0h0.85M46.4 249.3h0.85M46.3 249.7h0.85M47.4 250.7h0.85M46.5 250.4h0.85M46.2 250.2h0.85M46.8 250.1h0.85M46.2 249.9h0.85M46.8 250.6h0.85M46.2 249.9h0.85M46.4 250.0h0.85M46.2 250.2h0.85M46.3 249.8h0.85M49.7 256.9h0.85M50.6 255.4h0.85M49.5 256.0h0.85M49.8 256.4h0.85M50.5 255.7h0.85M49.4 256.6h0.85M49.9 255.7h0.85M50.5 256.7h0.85M50.2 256.8h0.85M50.6 256.5h0.85M49.4 256.6h0.85M49.9 256.3h0.85M49.6 255.6h0.85M49.9 256.2h0.85M49.8 261.1h0.85M49.9 260.7h0.85M50.7 260.0h0.85M50.6 260.3h0.85M50.2 260.0h0.85M50.6 260.3h0.85M50.2 260.5h0.85M50.2 260.7h0.85M50.1 261.1h0.85M50.4 261.0h0.85M49.2 261.1h0.85M45.7 267.3h0.85M45.7 267.2h0.85M45.3 266.8h0.85M45.7 267.2h0.85M46.0 266.8h0.85M46.1 266.3h0.85M45.7 266.2h0.85M45.9 267.3h0.85M45.9 267.5h0.85M45.8 267.1h0.85M45.9 266.7h0.85M45.4 266.5h0.85M45.7 266.6h0.85M45.7 267.6h0.85M45.9 266.6h0.85M45.4 266.2h0.85M50.4 258.0h0.85M49.6 257.9h0.85M50.0 256.9h0.85M49.2 257.8h0.85M50.5 257.7h0.85M49.9 257.2h0.85M49.4 258.2h0.85M50.0 258.3h0.85M49.2 257.3h0.85M49.7 257.5h0.85M48.3 263.3h0.85M47.8 264.2h0.85M47.7 263.4h0.85M48.4 264.2h0.85M48.2 264.3h0.85M48.9 264.4h0.85M48.2 263.3h0.85M48.0 263.9h0.85M48.1 263.2h0.85M48.5 264.2h0.85M47.7 263.3h0.85M49.2 264.6h0.85M48.8 263.8h0.85M47.7 263.9h0.85M48.7 264.2h0.85M49.8 259.0h0.85M50.7 259.8h0.85M50.0 259.2h0.85M49.3 259.5h0.85M49.6 258.6h0.85M50.0 259.2h0.85M49.4 259.4h0.85M49.2 259.6h0.85M49.4 258.9h0.85M49.0 253.6h0.85M48.3 253.0h0.85M48.1 253.1h0.85M48.3 252.6h0.85M47.9 253.0h0.85M49.1 253.4h0.85M47.8 253.0h0.85M48.2 252.4h0.85M45.8 250.5h0.85M45.6 249.9h0.85M45.3 249.5h0.85M45.2 250.6h0.85M45.9 249.9h0.85M45.7 250.7h0.85M45.2 250.7h0.85M45.8 249.6h0.85M45.6 249.7h0.85M45.9 250.6h0.85M45.4 250.1h0.85M45.3 250.5h0.85M45.5 250.1h0.85M45.9 250.5h0.85M46.1 250.0h0.85M45.8 250.6h0.85M46.1 250.0h0.85M47.2 266.0h0.85M46.2 264.6h0.85M46.2 265.8h0.85M46.3 264.9h0.85M47.3 265.9h0.85M46.3 266.0h0.85M47.2 264.7h0.85M46.1 266.0h0.85M46.2 264.6h0.85M47.1 264.8h0.85M46.3 250.8h0.85M46.7 252.2h0.85M46.6 252.0h0.85M46.3 252.0h0.85M47.6 251.6h0.85M46.2 251.1h0.85M47.4 252.2h0.85M47.6 251.9h0.85M46.3 251.8h0.85M46.2 251.6h0.85M46.3 251.9h0.85M46.2 252.1h0.85M47.1 251.5h0.85M46.8 251.5h0.85M46.2 252.3h0.85M48.5 253.9h0.85M49.0 255.2h0.85M48.3 253.9h0.85M48.8 255.0h0.85M48.4 254.1h0.85M48.3 254.1h0.85M48.0 254.5h0.85M47.9 255.0h0.85M47.7 254.2h0.85M48.9 254.7h0.85M49.1 254.0h0.85M48.2 255.0h0.85M47.9 255.0h0.85M48.5 262.2h0.85M47.8 262.7h0.85M48.4 262.2h0.85M48.3 262.8h0.85M47.8 261.9h0.85M48.6 262.7h0.85M48.5 262.2h0.85M48.2 262.1h0.85M48.0 261.8h0.85M48.5 261.7h0.85" stroke="#2c48ff" stroke-width="0.85" fill="none"/><path d="M45.5 265.4h0.85M45.3 264.8h0.85M45.6 266.1h0.85M46.0 265.9h0.85M45.9 266.1h0.85M45.6 265.3h0.85M45.9 265.2h0.85M45.6 265.2h0.85M46.0 265.2h0.85M45.9 264.8h0.85M45.7 265.6h0.85M45.8 264.8h0.85M46.0 264.6h0.85M45.9 265.7h0.85M45.9 265.7h0.85M45.5 264.7h0.85M46.0 264.6h0.85M45.3 264.9h0.85M45.4 265.9h0.85M46.1 251.5h0.85M46.1 252.3h0.85M45.4 252.2h0.85M45.8 251.3h0.85M45.9 252.3h0.85M45.3 251.9h0.85M45.5 251.0h0.85M46.0 251.3h0.85M45.6 251.5h0.85M45.3 251.4h0.85M45.4 251.1h0.85M45.4 251.0h0.85M46.0 251.5h0.85M45.9 252.0h0.85M45.9 251.4h0.85M45.7 252.3h0.85M45.9 251.9h0.85M45.8 251.1h0.85M45.3 250.8h0.85M45.8 251.0h0.85M47.9 256.3h0.85M48.0 256.1h0.85M47.9 255.8h0.85M48.5 255.9h0.85M48.2 256.5h0.85M48.8 256.7h0.85M47.8 256.2h0.85M48.6 256.1h0.85M48.6 255.6h0.85M47.9 256.9h0.85M48.1 255.7h0.85M48.1 256.3h0.85M47.7 256.4h0.85M47.7 255.6h0.85M47.7 255.8h0.85M47.7 256.4h0.85M46.6 252.8h0.85M47.1 252.9h0.85M46.3 253.7h0.85M47.4 253.7h0.85M46.3 253.2h0.85M46.2 253.3h0.85M46.2 253.8h0.85M46.2 253.5h0.85M46.3 253.6h0.85M46.7 253.4h0.85M46.5 253.7h0.85M47.3 253.4h0.85M46.2 252.7h0.85M46.2 253.4h0.85M46.6 252.5h0.85M47.3 253.0h0.85M46.7 253.1h0.85M47.3 253.2h0.85M47.2 252.9h0.85M48.9 260.6h0.85M47.8 261.5h0.85M48.2 260.8h0.85M47.9 260.4h0.85M47.8 261.5h0.85M48.0 260.4h0.85M48.3 261.5h0.85M48.1 260.4h0.85M49.0 261.1h0.85M48.9 260.5h0.85M47.7 261.4h0.85M48.0 260.1h0.85M48.6 261.2h0.85M48.0 260.6h0.85M49.2 260.8h0.85M48.2 261.0h0.85M48.5 260.0h0.85M48.4 261.1h0.85M48.0 260.1h0.85M48.3 260.5h0.85M48.2 261.3h0.85M48.3 260.9h0.85M48.3 260.4h0.85M47.8 257.8h0.85M48.5 257.7h0.85M48.7 257.5h0.85M48.3 257.7h0.85M47.8 257.8h0.85M48.4 257.4h0.85M48.2 257.1h0.85M48.2 257.2h0.85M47.7 257.1h0.85M48.5 257.4h0.85M48.9 257.0h0.85M47.8 257.3h0.85M47.9 258.4h0.85M48.7 257.7h0.85M48.3 257.4h0.85M46.5 264.0h0.85M47.1 264.5h0.85M46.2 263.4h0.85M47.5 264.0h0.85M46.2 263.8h0.85M46.2 263.4h0.85M46.7 264.3h0.85M46.4 263.7h0.85M46.3 263.1h0.85M46.3 263.7h0.85M47.6 264.2h0.85M47.1 263.1h0.85M46.5 263.3h0.85M47.1 263.2h0.85M47.2 263.9h0.85M46.3 263.2h0.85M46.2 264.0h0.85M46.3 263.8h0.85M46.2 264.0h0.85M49.1 259.7h0.85M47.7 259.8h0.85M47.7 259.7h0.85M49.1 259.0h0.85M49.1 258.6h0.85M48.2 258.7h0.85M49.0 259.6h0.85M48.2 258.8h0.85M49.0 259.1h0.85M47.7 259.2h0.85M48.7 259.9h0.85M47.9 259.5h0.85M48.4 258.9h0.85M48.7 259.0h0.85M48.9 259.9h0.85M48.3 259.7h0.85M48.0 258.8h0.85M46.2 254.2h0.85M46.6 254.3h0.85M46.7 254.7h0.85M46.2 254.0h0.85M47.2 255.4h0.85M46.4 255.2h0.85M47.5 255.1h0.85M46.2 254.0h0.85M46.4 254.4h0.85M47.4 254.2h0.85M47.4 254.8h0.85M46.3 254.1h0.85M46.5 254.8h0.85M46.3 255.3h0.85M46.3 255.0h0.85M46.3 254.5h0.85M46.6 255.2h0.85M47.5 255.3h0.85M47.0 254.0h0.85M46.2 254.3h0.85M46.7 254.4h0.85M46.6 254.8h0.85M46.3 254.8h0.85M46.2 254.3h0.85M46.5 254.3h0.85M47.4 253.9h0.85M45.5 252.4h0.85M45.4 253.0h0.85M46.0 253.2h0.85M45.3 253.5h0.85M45.4 252.4h0.85M45.3 252.7h0.85M45.7 252.4h0.85M45.4 253.3h0.85M45.6 253.2h0.85M45.9 253.3h0.85M46.1 253.1h0.85M45.8 252.9h0.85M45.4 253.0h0.85M45.5 252.8h0.85M45.4 252.6h0.85M45.8 252.7h0.85M45.3 253.3h0.85M45.6 253.7h0.85M45.3 252.8h0.85M46.0 253.0h0.85M45.7 252.5h0.85M45.7 253.5h0.85M45.8 253.2h0.85M45.6 253.6h0.85M45.8 252.8h0.85M45.3 252.6h0.85M45.5 252.8h0.85M45.9 253.3h0.85M46.9 262.6h0.85M46.2 262.9h0.85M46.4 262.4h0.85M46.2 261.8h0.85M47.2 261.6h0.85M46.3 262.7h0.85M46.6 262.0h0.85M46.3 261.8h0.85M46.3 261.7h0.85M46.2 262.6h0.85M46.2 262.4h0.85M46.5 262.5h0.85M46.2 263.0h0.85M46.1 261.7h0.85M47.0 261.6h0.85M47.6 262.7h0.85M46.4 262.7h0.85M47.3 262.1h0.85M46.5 262.6h0.85M46.9 262.3h0.85M46.4 261.7h0.85M45.4 263.1h0.85M45.3 263.8h0.85M45.7 263.8h0.85M45.7 263.4h0.85M45.9 264.3h0.85M45.9 264.5h0.85M46.1 263.2h0.85M45.7 263.2h0.85M46.1 264.0h0.85M45.7 263.9h0.85M45.3 263.3h0.85M45.5 263.1h0.85M45.7 263.8h0.85M45.4 263.5h0.85M45.5 263.2h0.85M46.1 264.2h0.85M46.0 263.3h0.85M45.6 264.0h0.85M45.3 264.1h0.85M45.4 263.3h0.85M45.6 263.6h0.85M45.8 263.2h0.85M46.0 264.0h0.85M46.0 263.2h0.85M46.0 263.2h0.85M45.3 263.8h0.85M45.6 263.6h0.85M45.2 263.9h0.85M45.4 263.6h0.85M45.4 263.3h0.85M46.0 264.1h0.85M46.0 263.4h0.85M45.4 264.1h0.85M45.6 264.0h0.85M45.4 264.3h0.85M45.8 264.5h0.85M46.2 256.5h0.85M46.7 256.3h0.85M46.3 256.2h0.85M47.4 255.4h0.85M47.3 255.9h0.85M46.3 256.2h0.85M47.3 256.4h0.85M46.3 256.3h0.85M46.3 255.7h0.85M47.4 256.3h0.85M46.7 255.7h0.85M46.3 256.6h0.85M47.2 256.1h0.85M47.4 255.5h0.85M47.2 256.6h0.85M46.4 256.4h0.85M46.3 255.8h0.85M46.8 255.7h0.85M47.6 256.3h0.85M47.4 255.8h0.85M46.8 256.2h0.85M46.3 255.6h0.85M46.3 256.3h0.85M47.3 256.0h0.85M46.6 255.8h0.85M46.3 256.9h0.85M46.1 256.8h0.85" stroke="#1f6cff" stroke-width="0.85" fill="none"/><path d="M46.3 260.6h0.85M46.2 261.5h0.85M46.8 260.7h0.85M47.5 260.7h0.85M46.6 261.4h0.85M46.4 260.3h0.85M46.2 260.0h0.85M46.3 260.6h0.85M47.4 260.5h0.85M46.8 260.2h0.85M46.4 260.2h0.85M47.6 260.8h0.85M46.2 260.8h0.85M46.2 260.6h0.85M46.4 260.1h0.85M47.6 260.5h0.85M47.0 260.5h0.85M46.6 260.6h0.85M47.2 261.2h0.85M46.2 261.3h0.85M46.2 261.4h0.85M46.3 260.3h0.85M46.3 260.8h0.85M46.3 260.9h0.85M46.6 260.8h0.85M46.8 261.3h0.85M46.4 260.4h0.85M46.2 260.5h0.85M46.3 260.1h0.85M46.3 261.3h0.85M47.6 261.3h0.85M46.3 260.4h0.85M46.8 260.6h0.85M47.0 260.7h0.85M46.2 261.1h0.85M47.5 261.1h0.85M47.5 260.2h0.85M47.2 258.4h0.85M46.2 257.4h0.85M46.1 258.1h0.85M46.4 258.1h0.85M46.2 257.3h0.85M46.5 257.3h0.85M47.3 258.1h0.85M46.3 257.8h0.85M46.4 257.8h0.85M46.2 258.4h0.85M47.0 257.1h0.85M47.0 257.1h0.85M47.4 257.6h0.85M46.2 257.7h0.85M47.0 257.7h0.85M47.0 258.4h0.85M46.3 258.3h0.85M46.3 258.1h0.85M46.4 258.2h0.85M46.3 257.8h0.85M46.2 257.1h0.85M46.4 258.0h0.85M46.3 257.4h0.85M46.7 257.0h0.85M46.8 257.7h0.85M46.4 259.2h0.85M46.1 259.0h0.85M47.1 259.4h0.85M46.3 259.6h0.85M46.3 259.9h0.85M47.0 259.7h0.85M46.4 259.6h0.85M46.2 258.6h0.85M47.0 258.7h0.85M46.2 259.3h0.85M47.2 259.9h0.85M46.3 258.5h0.85M47.5 259.3h0.85M46.3 259.5h0.85M46.3 258.6h0.85M46.4 259.6h0.85M47.2 259.9h0.85M47.6 258.8h0.85M46.5 259.2h0.85M47.1 259.5h0.85M46.2 259.5h0.85M46.6 258.8h0.85M46.2 259.1h0.85M47.6 258.6h0.85M46.4 259.2h0.85M46.4 259.9h0.85M47.4 259.3h0.85M45.2 255.4h0.85M46.0 254.6h0.85M45.4 254.7h0.85M45.9 254.3h0.85M46.1 254.9h0.85M45.6 254.8h0.85M45.5 255.1h0.85M45.8 254.2h0.85M45.4 254.6h0.85M45.2 254.6h0.85M45.3 254.1h0.85M45.3 254.3h0.85M45.4 254.3h0.85M46.1 255.2h0.85M45.7 254.2h0.85M45.4 254.4h0.85M45.9 254.5h0.85M45.9 254.6h0.85M45.8 254.2h0.85M45.9 254.5h0.85M45.3 255.2h0.85M46.1 255.2h0.85M45.8 254.1h0.85M45.9 254.0h0.85M45.6 255.2h0.85M45.9 254.3h0.85M45.3 254.4h0.85M45.5 254.9h0.85M45.3 254.3h0.85M45.9 262.1h0.85M45.3 262.0h0.85M45.7 262.4h0.85M45.4 262.7h0.85M45.3 262.5h0.85M46.1 261.6h0.85M45.7 262.5h0.85M45.5 262.3h0.85M45.5 262.6h0.85M46.1 262.0h0.85M45.7 262.2h0.85M45.8 262.0h0.85M45.8 262.9h0.85M45.2 262.4h0.85M45.4 262.2h0.85M45.2 262.4h0.85M45.5 262.8h0.85M45.9 262.2h0.85M45.3 262.7h0.85M45.5 262.4h0.85M45.9 262.0h0.85M45.7 262.3h0.85M45.3 262.6h0.85M46.0 262.9h0.85M45.7 261.9h0.85M45.9 262.6h0.85M45.4 262.7h0.85M45.9 262.5h0.85M45.4 262.7h0.85M46.0 261.9h0.85M45.4 262.3h0.85M45.4 261.5h0.85M45.7 262.3h0.85M45.3 262.7h0.85M45.7 262.3h0.85M45.7 262.3h0.85M45.7 261.7h0.85M45.3 261.9h0.85M45.5 262.2h0.85M45.3 262.0h0.85M45.8 262.5h0.85M45.5 262.5h0.85M45.6 256.3h0.85M46.0 256.7h0.85M45.5 255.9h0.85M45.3 255.5h0.85M45.6 255.4h0.85M45.5 256.2h0.85M45.9 256.3h0.85M45.3 256.9h0.85M45.3 256.6h0.85M46.0 255.6h0.85M45.2 256.5h0.85M45.5 256.3h0.85M46.0 256.9h0.85M45.3 256.9h0.85M45.5 256.2h0.85M45.3 256.5h0.85M46.0 256.1h0.85M45.8 256.4h0.85M45.2 255.9h0.85M45.3 255.8h0.85M45.3 256.6h0.85M46.0 256.2h0.85M45.5 256.5h0.85M45.9 256.8h0.85M45.5 255.6h0.85M46.0 256.2h0.85M45.5 256.7h0.85M46.1 256.4h0.85M45.2 256.7h0.85M46.0 256.1h0.85M45.7 255.8h0.85M46.1 255.8h0.85M45.8 255.8h0.85M46.0 256.7h0.85M45.9 256.3h0.85M45.5 256.1h0.85M45.9 256.8h0.85M46.1 256.5h0.85M45.4 256.0h0.85M45.9 255.9h0.85M45.9 256.2h0.85M45.3 255.5h0.85M45.2 255.8h0.85M45.8 260.7h0.85M46.0 261.5h0.85M45.4 260.7h0.85M45.3 260.9h0.85M45.4 260.4h0.85M45.8 260.5h0.85M45.6 260.6h0.85M45.8 261.0h0.85M45.6 260.3h0.85M45.3 261.0h0.85M45.8 260.7h0.85M45.5 260.9h0.85M46.1 260.5h0.85M45.6 261.5h0.85M45.3 260.9h0.85M46.0 261.1h0.85M45.8 261.5h0.85M45.8 260.7h0.85M46.1 260.5h0.85M46.0 260.5h0.85M45.7 260.3h0.85M45.4 260.5h0.85M45.6 261.1h0.85M46.0 260.1h0.85M45.6 260.6h0.85M46.0 260.2h0.85M45.2 260.3h0.85M45.7 261.4h0.85M45.4 258.9h0.85M45.5 259.5h0.85M45.7 258.7h0.85M45.9 259.3h0.85M45.4 259.2h0.85M45.4 259.8h0.85M45.2 259.0h0.85M45.2 259.8h0.85M45.6 259.7h0.85M45.9 259.3h0.85M45.4 259.3h0.85M45.9 259.1h0.85M45.9 258.9h0.85M45.3 259.3h0.85M45.4 258.7h0.85M45.8 259.5h0.85M45.8 259.4h0.85M45.4 259.7h0.85M45.9 259.4h0.85M45.7 260.0h0.85M45.9 258.8h0.85M45.4 259.9h0.85M45.6 258.9h0.85M45.3 258.7h0.85M46.1 259.4h0.85M45.5 259.9h0.85M45.3 258.8h0.85M45.6 259.4h0.85M45.9 259.2h0.85M45.6 259.9h0.85M45.8 258.5h0.85M46.1 259.5h0.85M45.6 259.6h0.85M45.9 258.7h0.85M45.6 258.8h0.85M46.1 259.5h0.85M46.0 259.4h0.85M45.2 258.6h0.85M45.5 258.8h0.85M45.7 257.3h0.85M45.4 257.0h0.85M45.6 257.2h0.85M46.0 257.3h0.85M45.7 257.7h0.85M45.9 257.4h0.85M45.9 257.6h0.85M45.5 257.6h0.85M45.8 257.2h0.85M45.7 257.1h0.85M45.5 257.6h0.85M46.1 257.2h0.85M45.9 258.0h0.85M45.7 257.8h0.85M45.3 257.0h0.85M45.9 257.1h0.85M45.6 258.4h0.85M45.8 258.0h0.85M45.9 257.7h0.85M46.0 258.1h0.85M45.9 257.9h0.85M46.0 257.5h0.85M45.7 257.9h0.85M46.1 257.0h0.85M45.8 257.5h0.85M45.8 257.6h0.85M45.9 257.5h0.85M45.4 257.9h0.85M45.3 257.2h0.85M45.6 258.3h0.85M45.8 258.2h0.85M45.2 258.3h0.85M45.5 257.3h0.85M46.1 258.2h0.85M46.1 258.0h0.85M45.8 257.1h0.85M45.2 257.6h0.85M45.8 257.4h0.85M45.4 258.0h0.85M45.9 257.6h0.85M45.7 257.4h0.85M46.0 257.2h0.85M45.9 257.1h0.85M45.8 258.4h0.85" stroke="#0aa6f0" stroke-width="0.85" fill="none"/>
<path d="M179.9 243.8h0.85M191.5 259.2h0.85M182.2 270.8h0.85M138.8 281.8h0.85M185.5 248.8h0.85M184.9 265.0h0.85M185.8 260.6h0.85M158.7 277.3h0.85M177.6 262.9h0.85M147.5 276.1h0.85M166.1 271.9h0.85M184.6 252.0h0.85M163.1 273.0h0.85M174.3 247.4h0.85M159.4 273.4h0.85M179.5 259.2h0.85M132.6 242.8h0.85M144.8 243.6h0.85M165.5 241.9h0.85M151.5 242.7h0.85M176.8 271.5h0.85M141.8 276.4h0.85M152.3 243.3h0.85M155.3 273.6h0.85M172.8 265.8h0.85M142.4 245.9h0.85M181.1 255.4h0.85M140.6 275.2h0.85M173.2 272.2h0.85M174.0 250.3h0.85M175.4 270.5h0.85M179.8 251.5h0.85M173.0 271.0h0.85M135.8 273.5h0.85M181.2 253.2h0.85M168.8 269.4h0.85M154.5 243.3h0.85M164.6 243.2h0.85M134.5 248.3h0.85M144.5 247.3h0.85M137.4 272.6h0.85M179.1 252.4h0.85M170.3 248.1h0.85M158.2 243.8h0.85M176.7 256.6h0.85M138.2 249.7h0.85M174.3 262.2h0.85M157.1 243.1h0.85M132.1 246.6h0.85M140.0 271.9h0.85M177.4 254.7h0.85M178.7 253.5h0.85M177.0 255.6h0.85M169.7 267.5h0.85M143.3 273.7h0.85M143.4 273.2h0.85M175.3 254.6h0.85M146.5 273.0h0.85M164.7 245.7h0.85M162.4 245.2h0.85M144.7 248.5h0.85M168.2 248.8h0.85M168.7 248.7h0.85M157.3 245.7h0.85M166.1 246.3h0.85M159.8 245.8h0.85M163.6 246.8h0.85M175.1 258.0h0.85M132.8 247.6h0.85M146.0 248.0h0.85M133.1 272.1h0.85M161.3 269.5h0.85M156.5 270.0h0.85M174.0 253.6h0.85M167.4 248.5h0.85M170.5 265.8h0.85M149.5 248.3h0.85M148.9 247.7h0.85M166.8 268.4h0.85M156.3 246.2h0.85M134.4 250.1h0.85M172.3 252.9h0.85M166.0 248.4h0.85M170.8 251.0h0.85M161.8 246.2h0.85M132.4 250.2h0.85M157.7 246.8h0.85M134.8 251.7h0.85M135.7 250.4h0.85M134.9 251.6h0.85M147.6 272.4h0.85M171.4 263.7h0.85M145.5 271.5h0.85M155.2 270.9h0.85M169.3 265.9h0.85M157.3 247.9h0.85M140.2 251.2h0.85M165.1 249.4h0.85M171.9 253.5h0.85M146.1 250.3h0.85M161.6 248.3h0.85M172.8 260.4h0.85M163.6 249.6h0.85M159.2 247.7h0.85M159.5 248.7h0.85M159.7 248.8h0.85M160.0 248.3h0.85M162.9 267.8h0.85M162.7 268.1h0.85M172.8 258.4h0.85M166.7 266.5h0.85M153.6 270.0h0.85" stroke="#8c96ff" stroke-width="0.85" fill="none"/><path d="M133.0 270.1h0.85M147.5 250.2h0.85M167.1 251.6h0.85M143.3 251.6h0.85M142.9 251.6h0.85M151.3 270.1h0.85M151.6 249.2h0.85M166.0 265.6h0.85M165.8 266.0h0.85M136.6 269.3h0.85M152.8 250.3h0.85M150.3 270.2h0.85M148.3 249.0h0.85M171.2 256.3h0.85M171.6 255.3h0.85M138.6 269.0h0.85M161.3 249.1h0.85M161.6 249.8h0.85M169.5 264.6h0.85M169.1 252.0h0.85M169.6 252.1h0.85M168.7 253.0h0.85M169.5 252.5h0.85M168.6 253.0h0.85M169.9 262.6h0.85M170.0 263.3h0.85M154.8 250.3h0.85M155.0 249.3h0.85M156.5 249.8h0.85M156.7 250.4h0.85M149.7 270.9h0.85M149.2 271.4h0.85M159.8 250.4h0.85M160.9 267.4h0.85M137.6 252.3h0.85M165.6 251.2h0.85M165.2 251.9h0.85M142.9 271.2h0.85M143.2 270.0h0.85M132.9 271.3h0.85M132.3 271.3h0.85M164.9 265.7h0.85M163.9 266.5h0.85M145.2 271.2h0.85M145.6 271.2h0.85M172.4 260.0h0.85M171.2 260.9h0.85M172.3 259.8h0.85M171.4 260.5h0.85M172.4 256.6h0.85M166.9 264.5h0.85M167.0 264.3h0.85M132.6 252.7h0.85M132.3 253.3h0.85M132.3 252.0h0.85M154.9 268.9h0.85M168.4 254.6h0.85M168.9 254.7h0.85M169.3 253.7h0.85M140.2 252.2h0.85M140.4 253.2h0.85M171.8 257.9h0.85M171.3 259.4h0.85M169.7 255.5h0.85M171.0 261.4h0.85M170.7 261.4h0.85M169.3 262.4h0.85M169.6 263.0h0.85M153.7 269.2h0.85M152.8 269.8h0.85M135.7 254.1h0.85M162.4 265.8h0.85M163.2 250.6h0.85M162.4 251.3h0.85M136.9 254.7h0.85M133.3 268.8h0.85M147.9 251.4h0.85M147.1 251.5h0.85M147.8 251.0h0.85M147.3 251.8h0.85M141.6 252.5h0.85M141.0 253.3h0.85M152.1 268.4h0.85M151.4 269.6h0.85M151.9 268.7h0.85M151.6 269.6h0.85M141.1 269.4h0.85M165.7 252.8h0.85M166.1 252.1h0.85M165.1 252.0h0.85M133.1 253.6h0.85M133.0 254.8h0.85M150.1 269.2h0.85M150.1 268.7h0.85M159.5 251.2h0.85M156.2 251.7h0.85M158.4 268.3h0.85M158.7 267.0h0.85M149.1 269.2h0.85M148.6 269.5h0.85M138.7 254.8h0.85M137.9 254.2h0.85M137.9 253.9h0.85M138.9 253.9h0.85M155.8 251.0h0.85M155.0 251.7h0.85M171.1 260.1h0.85M169.9 260.2h0.85M153.5 251.8h0.85M153.6 251.0h0.85M164.6 265.3h0.85M164.8 265.0h0.85M137.0 267.9h0.85M170.4 257.7h0.85M169.6 257.4h0.85M171.0 257.6h0.85M170.1 257.1h0.85M171.1 257.2h0.85M169.7 257.6h0.85M167.3 263.1h0.85M167.7 262.4h0.85M167.0 262.8h0.85M143.2 252.6h0.85M132.0 254.4h0.85M132.3 254.3h0.85M132.8 254.3h0.85M146.8 269.5h0.85M147.3 269.8h0.85M147.6 269.6h0.85M152.3 251.1h0.85M152.5 250.5h0.85M135.5 268.3h0.85M135.8 267.8h0.85M135.9 267.5h0.85M132.2 268.5h0.85M132.3 269.2h0.85M132.7 269.8h0.85M150.6 251.4h0.85M151.2 251.2h0.85M168.9 261.9h0.85M168.4 261.0h0.85M169.9 258.1h0.85M144.5 253.2h0.85M137.6 267.0h0.85M146.3 268.5h0.85M146.0 268.7h0.85M146.6 269.6h0.85M146.5 268.8h0.85M143.3 269.8h0.85M142.5 269.7h0.85M143.3 268.5h0.85M142.6 269.9h0.85M143.4 269.8h0.85M143.0 269.2h0.85M156.5 267.8h0.85M157.4 267.8h0.85M145.1 269.0h0.85M139.8 254.2h0.85M135.6 255.8h0.85M135.0 255.9h0.85M135.0 255.7h0.85M164.9 252.4h0.85M164.9 252.5h0.85M163.8 252.5h0.85M136.4 255.8h0.85M137.4 255.6h0.85M165.6 262.5h0.85M166.3 262.4h0.85M146.7 252.7h0.85M146.2 252.1h0.85M145.6 252.1h0.85M133.0 268.0h0.85M133.0 267.2h0.85M134.4 267.3h0.85M134.3 255.9h0.85M133.6 255.9h0.85M133.3 256.1h0.85M167.4 255.1h0.85M167.0 256.4h0.85M167.5 256.2h0.85M139.3 267.4h0.85M139.3 268.2h0.85M139.7 267.3h0.85M154.8 267.2h0.85M154.6 267.5h0.85M169.3 256.5h0.85M169.1 257.3h0.85M168.5 256.5h0.85M132.3 255.5h0.85M132.8 256.3h0.85M132.0 256.3h0.85M162.0 264.5h0.85" stroke="#5a6cff" stroke-width="0.85" fill="none"/><path d="M168.5 259.9h0.85M169.2 260.8h0.85M153.1 267.5h0.85M153.9 267.4h0.85M137.9 256.1h0.85M138.5 255.1h0.85M138.3 256.0h0.85M167.1 261.5h0.85M142.0 254.2h0.85M141.2 253.9h0.85M141.9 254.3h0.85M152.0 267.4h0.85M151.9 267.2h0.85M146.9 252.6h0.85M162.0 252.6h0.85M132.4 267.8h0.85M132.8 267.3h0.85M132.4 268.4h0.85M132.7 267.5h0.85M132.6 267.8h0.85M159.3 266.3h0.85M160.1 265.8h0.85M159.6 266.2h0.85M159.4 266.8h0.85M160.2 266.2h0.85M168.1 259.2h0.85M168.8 258.8h0.85M169.1 258.7h0.85M168.5 259.4h0.85M164.1 263.6h0.85M164.8 263.3h0.85M164.2 263.0h0.85M135.5 257.9h0.85M135.8 257.7h0.85M135.4 256.6h0.85M134.5 257.1h0.85M135.9 257.0h0.85M134.5 257.2h0.85M135.3 266.4h0.85M134.9 266.7h0.85M137.0 257.6h0.85M136.9 256.9h0.85M137.1 257.5h0.85M137.5 257.6h0.85M141.5 267.8h0.85M140.6 268.4h0.85M133.4 257.2h0.85M133.9 256.8h0.85M133.7 257.5h0.85M137.0 265.6h0.85M136.7 265.5h0.85M161.9 253.1h0.85M161.9 252.6h0.85M161.9 252.1h0.85M161.2 252.4h0.85M149.4 267.1h0.85M148.6 268.4h0.85M148.9 267.4h0.85M159.9 252.1h0.85M159.0 252.2h0.85M159.1 252.4h0.85M159.6 253.1h0.85M132.7 256.8h0.85M132.9 257.2h0.85M132.9 257.9h0.85M132.7 257.2h0.85M158.4 252.8h0.85M158.7 252.4h0.85M156.7 253.2h0.85M156.3 252.7h0.85M156.1 252.2h0.85M157.3 253.0h0.85M147.5 267.1h0.85M142.5 253.6h0.85M142.8 254.8h0.85M142.4 254.2h0.85M143.5 254.0h0.85M142.2 254.3h0.85M154.7 252.5h0.85M154.6 253.2h0.85M154.8 252.5h0.85M133.2 265.5h0.85M133.1 265.6h0.85M139.1 255.1h0.85M139.5 256.0h0.85M139.2 255.0h0.85M140.2 255.6h0.85M149.4 252.2h0.85M149.5 253.0h0.85M148.4 252.9h0.85M149.2 252.8h0.85M166.6 257.7h0.85M167.9 257.0h0.85M167.3 256.8h0.85M134.8 258.8h0.85M146.5 267.5h0.85M146.0 267.4h0.85M146.6 267.1h0.85M153.5 252.7h0.85M165.3 256.3h0.85M165.5 262.3h0.85M165.7 262.1h0.85M165.4 262.3h0.85M165.4 261.9h0.85M166.2 261.4h0.85M164.3 254.0h0.85M164.4 254.7h0.85M164.7 254.5h0.85M164.5 254.3h0.85M164.4 253.8h0.85M137.5 256.8h0.85M142.4 268.3h0.85M142.7 268.2h0.85M136.1 258.7h0.85M136.6 258.9h0.85M137.3 258.7h0.85M151.9 252.2h0.85M152.6 253.3h0.85M167.5 260.9h0.85M167.1 260.2h0.85M167.0 260.8h0.85M167.0 260.3h0.85M161.1 265.0h0.85M161.5 264.8h0.85M161.6 264.7h0.85M160.8 264.9h0.85M161.2 264.6h0.85M161.9 264.7h0.85M138.6 265.7h0.85M137.6 265.5h0.85M138.7 265.6h0.85M138.4 265.8h0.85M137.6 266.0h0.85M137.7 265.7h0.85M138.7 266.5h0.85M157.6 266.2h0.85M157.6 265.6h0.85M144.2 268.1h0.85M144.6 267.2h0.85M144.9 267.9h0.85M145.0 268.3h0.85M144.4 267.3h0.85M151.2 253.0h0.85M151.0 253.2h0.85M149.9 252.8h0.85M150.1 253.3h0.85M150.8 253.4h0.85M151.1 252.4h0.85M150.9 252.0h0.85M144.3 253.6h0.85M144.2 253.9h0.85M143.9 254.5h0.85M144.9 254.3h0.85M145.0 254.3h0.85M144.8 254.6h0.85M133.1 259.0h0.85M133.4 259.2h0.85M133.6 259.0h0.85M133.0 258.6h0.85M133.7 258.4h0.85M132.4 266.9h0.85M132.1 266.7h0.85M132.9 266.4h0.85M132.2 266.2h0.85M132.1 266.5h0.85M135.7 264.6h0.85M135.7 264.0h0.85M135.5 264.9h0.85M135.8 264.2h0.85M135.8 264.1h0.85M135.0 260.2h0.85M135.2 260.4h0.85M135.5 260.2h0.85M163.3 262.5h0.85M162.4 263.4h0.85M162.7 263.6h0.85M166.7 259.2h0.85M167.4 258.6h0.85M166.9 259.1h0.85M166.8 258.3h0.85M168.0 259.3h0.85M167.4 259.0h0.85M167.0 258.1h0.85M166.7 258.8h0.85M145.9 254.7h0.85M145.7 253.5h0.85M136.2 259.7h0.85M137.0 260.6h0.85M136.1 260.0h0.85M137.4 260.5h0.85M137.1 260.2h0.85M136.0 264.5h0.85M136.1 264.5h0.85M136.8 265.2h0.85M137.3 264.8h0.85M141.1 256.1h0.85M141.8 256.3h0.85M140.7 255.4h0.85M141.3 255.4h0.85M132.3 257.9h0.85M132.4 259.3h0.85M139.2 266.8h0.85M135.0 262.0h0.85M135.1 261.1h0.85M133.1 263.9h0.85M133.4 264.0h0.85M133.0 264.2h0.85M133.4 264.1h0.85M134.0 263.9h0.85M134.6 263.8h0.85M135.7 263.6h0.85M135.5 263.8h0.85M135.4 263.6h0.85M164.7 262.3h0.85M163.5 261.0h0.85M164.8 261.3h0.85M157.2 265.8h0.85M155.9 266.2h0.85M155.9 266.1h0.85M157.2 265.8h0.85M156.2 265.7h0.85M138.3 259.2h0.85M139.0 259.0h0.85M137.8 258.0h0.85M138.9 258.9h0.85M137.6 259.1h0.85M139.0 258.0h0.85M138.6 259.0h0.85M138.2 258.7h0.85M162.0 254.6h0.85M162.0 254.3h0.85M162.7 254.0h0.85M163.0 254.1h0.85M162.2 254.0h0.85M162.4 253.4h0.85M162.2 253.6h0.85M162.5 254.8h0.85M137.5 262.3h0.85M136.3 262.3h0.85M147.5 254.2h0.85M148.1 254.0h0.85M166.1 256.9h0.85M166.1 257.6h0.85M166.3 256.9h0.85M165.1 257.1h0.85M133.1 260.4h0.85M133.1 260.3h0.85M132.9 259.5h0.85M133.1 260.1h0.85M134.0 260.2h0.85M139.5 256.4h0.85M140.2 257.8h0.85M140.0 257.3h0.85M139.9 257.4h0.85M140.2 256.8h0.85M137.4 263.6h0.85M136.0 263.3h0.85M136.1 263.1h0.85M137.1 262.5h0.85M136.9 263.7h0.85M165.1 259.9h0.85M166.0 259.7h0.85M165.2 260.6h0.85M166.0 260.3h0.85M165.8 260.6h0.85M165.2 259.5h0.85M165.6 260.8h0.85M165.6 260.5h0.85M155.4 265.6h0.85M154.5 266.9h0.85M154.6 265.5h0.85M155.4 266.7h0.85M154.6 266.6h0.85M155.8 265.9h0.85M164.2 256.2h0.85M164.6 256.1h0.85M164.3 256.2h0.85M163.6 255.6h0.85M164.6 256.3h0.85M164.6 256.1h0.85M163.8 255.8h0.85M164.3 255.5h0.85M164.6 255.0h0.85M164.4 255.2h0.85M164.4 256.0h0.85M153.4 265.6h0.85M153.6 266.6h0.85M152.8 266.3h0.85M132.8 264.1h0.85M132.7 264.4h0.85M132.4 264.3h0.85M132.2 265.2h0.85M132.5 264.2h0.85M141.1 265.6h0.85M141.2 266.4h0.85M141.5 265.4h0.85M141.6 265.6h0.85M159.0 264.7h0.85M159.8 264.0h0.85M159.0 264.1h0.85M160.1 264.3h0.85M142.8 255.6h0.85M143.3 255.6h0.85M142.3 255.4h0.85M142.5 254.9h0.85M138.1 264.0h0.85M137.9 265.0h0.85M138.7 264.9h0.85M138.6 264.7h0.85M138.0 265.0h0.85M138.0 264.4h0.85M138.9 265.0h0.85M138.6 264.7h0.85M138.0 264.6h0.85M152.6 266.7h0.85M152.6 265.5h0.85M133.8 262.7h0.85M134.0 263.9h0.85M133.3 263.5h0.85M134.2 263.8h0.85M133.0 263.0h0.85M133.8 263.6h0.85M133.0 262.7h0.85M160.9 254.7h0.85M161.8 254.3h0.85M161.5 254.6h0.85M160.8 253.6h0.85M161.1 254.6h0.85M160.9 253.4h0.85M133.1 262.2h0.85M134.0 261.2h0.85M134.0 262.1h0.85M133.8 261.6h0.85M137.7 260.0h0.85M137.6 260.7h0.85M138.5 260.1h0.85M166.4 258.7h0.85M166.4 258.3h0.85M166.3 258.7h0.85M166.0 259.0h0.85M166.1 258.0h0.85M166.1 258.5h0.85M166.2 258.4h0.85M149.1 253.6h0.85M149.1 254.6h0.85M149.2 254.4h0.85M148.4 254.1h0.85M149.6 254.7h0.85M148.4 254.5h0.85M148.4 253.6h0.85M148.5 253.5h0.85M149.9 266.3h0.85M149.8 266.7h0.85M150.8 265.8h0.85M150.8 266.7h0.85M151.1 266.7h0.85" stroke="#2c48ff" stroke-width="0.85" fill="none"/><path d="M159.2 254.2h0.85M160.1 254.1h0.85M160.1 253.8h0.85M159.6 253.9h0.85M132.7 260.6h0.85M132.8 259.8h0.85M132.7 260.3h0.85M132.3 260.8h0.85M132.4 260.0h0.85M132.7 260.2h0.85M132.5 259.9h0.85M132.5 259.9h0.85M132.7 260.6h0.85M132.6 260.2h0.85M160.6 263.2h0.85M161.3 262.7h0.85M160.7 262.8h0.85M161.0 263.4h0.85M160.5 262.6h0.85M160.8 263.8h0.85M160.7 263.4h0.85M161.1 263.5h0.85M142.5 266.2h0.85M143.3 266.9h0.85M142.2 266.2h0.85M143.3 265.6h0.85M142.6 266.8h0.85M142.8 265.7h0.85M142.4 266.7h0.85M143.3 266.1h0.85M142.2 266.3h0.85M143.2 266.2h0.85M143.5 266.5h0.85M146.2 265.8h0.85M145.7 266.1h0.85M157.6 254.3h0.85M157.6 253.8h0.85M157.5 254.3h0.85M157.7 254.9h0.85M157.5 254.8h0.85M157.5 254.2h0.85M158.6 254.4h0.85M147.4 266.9h0.85M147.1 265.7h0.85M147.7 265.8h0.85M138.5 262.2h0.85M138.4 261.8h0.85M138.8 260.9h0.85M137.9 261.3h0.85M137.8 262.3h0.85M137.8 261.8h0.85M138.8 262.2h0.85M138.3 262.0h0.85M137.8 261.7h0.85M138.3 262.0h0.85M138.0 261.9h0.85M145.0 255.5h0.85M144.7 255.7h0.85M144.9 255.0h0.85M144.5 256.4h0.85M143.7 255.0h0.85M144.6 255.5h0.85M143.9 256.3h0.85M144.2 256.2h0.85M155.9 254.2h0.85M156.9 254.7h0.85M156.1 254.1h0.85M157.1 253.6h0.85M156.3 253.6h0.85M148.3 265.8h0.85M148.3 265.6h0.85M148.6 266.5h0.85M149.2 266.7h0.85M149.1 266.6h0.85M149.7 265.5h0.85M138.1 262.7h0.85M138.0 263.4h0.85M137.9 262.9h0.85M137.6 263.4h0.85M138.4 262.4h0.85M138.5 262.6h0.85M163.3 261.1h0.85M163.3 261.2h0.85M163.3 261.7h0.85M162.9 261.1h0.85M143.7 266.5h0.85M144.9 266.9h0.85M144.2 266.7h0.85M144.7 266.9h0.85M155.6 253.4h0.85M155.4 254.3h0.85M154.8 254.2h0.85M155.4 254.5h0.85M165.0 259.5h0.85M164.3 259.6h0.85M164.8 260.4h0.85M165.0 259.6h0.85M164.9 260.3h0.85M164.6 260.2h0.85M140.2 258.5h0.85M139.8 258.8h0.85M139.9 258.3h0.85M140.9 257.5h0.85M141.5 256.9h0.85M141.4 257.8h0.85M140.8 257.3h0.85M141.6 257.8h0.85M141.4 256.6h0.85M141.0 256.9h0.85M141.6 256.9h0.85M164.4 257.3h0.85M163.6 256.8h0.85M163.7 257.1h0.85M164.4 257.1h0.85M164.0 257.7h0.85M140.6 264.1h0.85M140.4 264.6h0.85M140.2 264.9h0.85M140.1 264.7h0.85M139.2 264.0h0.85M140.0 265.3h0.85M140.2 264.6h0.85M139.2 264.8h0.85M140.5 265.3h0.85M140.0 265.2h0.85M139.5 264.7h0.85M139.8 265.2h0.85M132.3 262.5h0.85M132.5 263.1h0.85M132.7 262.8h0.85M132.1 263.8h0.85M132.4 262.6h0.85M132.2 263.0h0.85M132.1 262.8h0.85M132.4 263.9h0.85M132.2 262.7h0.85M153.7 253.9h0.85M153.5 254.7h0.85M154.3 254.4h0.85M152.9 254.5h0.85M152.8 254.4h0.85M153.8 254.7h0.85M154.2 254.3h0.85M151.0 254.6h0.85M150.5 254.3h0.85M149.8 254.8h0.85M149.9 254.3h0.85M150.9 253.9h0.85M162.4 255.4h0.85M163.0 256.2h0.85M163.0 256.1h0.85M162.7 255.6h0.85M162.3 256.1h0.85M162.1 255.4h0.85M145.5 255.0h0.85M145.8 256.0h0.85M146.5 255.8h0.85M146.0 254.9h0.85M146.5 256.2h0.85M145.5 255.3h0.85M146.1 254.9h0.85M151.4 254.2h0.85M151.8 254.9h0.85M152.4 254.0h0.85M152.5 254.4h0.85M152.3 253.8h0.85M152.4 254.8h0.85M132.6 262.1h0.85M132.6 261.4h0.85M132.4 261.8h0.85M132.2 261.6h0.85M132.2 262.1h0.85M132.1 261.7h0.85M132.4 261.9h0.85M132.3 262.1h0.85M132.5 262.1h0.85M132.8 261.1h0.85M132.2 261.4h0.85M132.9 262.3h0.85M164.8 259.0h0.85M163.8 258.7h0.85M164.2 258.0h0.85M164.3 259.0h0.85M164.1 258.0h0.85M163.5 258.6h0.85M163.9 259.0h0.85M164.0 258.4h0.85M163.6 258.4h0.85M164.4 258.1h0.85M163.8 258.5h0.85M164.7 259.2h0.85M164.3 258.4h0.85M164.0 258.7h0.85M164.0 259.3h0.85M158.5 264.1h0.85M158.4 264.5h0.85M157.8 264.3h0.85M158.0 264.2h0.85M158.7 265.1h0.85M157.9 264.9h0.85M140.3 260.8h0.85M139.9 260.8h0.85M139.4 259.7h0.85M139.3 260.0h0.85M140.3 260.7h0.85M139.2 260.2h0.85M139.8 260.3h0.85M139.3 260.0h0.85M141.1 265.1h0.85M141.5 264.3h0.85M141.1 264.3h0.85M142.0 265.0h0.85M140.7 264.3h0.85M141.9 264.1h0.85M140.9 264.3h0.85M139.7 262.7h0.85M139.8 263.6h0.85M140.4 262.5h0.85M140.0 263.8h0.85M139.9 263.8h0.85M148.0 254.9h0.85M147.1 255.5h0.85M147.8 255.1h0.85M148.1 255.0h0.85M148.1 256.0h0.85M147.9 255.4h0.85M147.2 256.0h0.85M147.2 254.9h0.85M143.5 257.3h0.85M143.2 256.6h0.85M142.5 256.4h0.85M142.6 257.3h0.85M142.9 256.5h0.85M139.5 261.2h0.85M140.5 262.4h0.85M139.2 261.9h0.85M139.2 261.2h0.85M139.3 261.2h0.85M139.9 261.8h0.85M140.0 262.4h0.85M139.7 261.7h0.85M140.4 261.2h0.85M160.9 256.4h0.85M161.5 256.3h0.85M160.6 255.9h0.85M161.8 255.9h0.85M161.7 255.1h0.85M160.5 254.9h0.85M160.5 255.4h0.85M160.8 255.7h0.85M160.5 255.6h0.85M162.8 256.8h0.85M163.1 256.9h0.85M162.9 257.9h0.85M162.6 256.6h0.85M163.1 256.9h0.85M163.0 260.6h0.85M163.0 259.7h0.85M163.3 260.6h0.85M162.0 260.9h0.85M162.7 260.4h0.85M162.8 260.3h0.85M162.3 260.5h0.85M140.9 258.9h0.85M141.6 259.0h0.85M140.6 259.1h0.85M142.0 259.0h0.85M141.4 258.8h0.85M141.0 258.5h0.85M141.4 259.2h0.85M141.9 258.8h0.85M141.9 258.6h0.85M142.1 258.1h0.85M142.0 258.8h0.85M140.6 259.1h0.85M140.8 259.1h0.85M142.8 264.1h0.85M143.4 264.6h0.85M142.9 264.2h0.85M142.9 265.3h0.85M142.7 264.3h0.85M142.7 265.2h0.85M142.7 264.1h0.85M142.7 264.0h0.85M143.2 264.6h0.85M143.2 265.0h0.85M143.0 265.3h0.85M160.3 263.6h0.85M159.5 263.7h0.85M159.7 263.2h0.85M159.9 262.7h0.85M159.2 263.2h0.85M156.2 265.0h0.85M157.0 265.0h0.85M156.2 264.9h0.85M156.4 264.9h0.85M156.3 265.2h0.85M155.9 264.3h0.85M144.6 257.0h0.85M143.7 256.4h0.85M144.3 257.2h0.85M143.7 257.6h0.85M145.0 257.7h0.85M143.7 257.1h0.85M143.7 257.1h0.85M144.0 256.8h0.85M145.1 257.0h0.85M144.6 257.8h0.85M140.7 263.4h0.85M141.7 263.4h0.85M141.6 263.2h0.85M141.9 262.5h0.85M141.4 263.8h0.85M141.6 263.6h0.85M140.6 263.8h0.85M141.4 263.7h0.85M141.5 263.1h0.85M141.0 263.3h0.85M160.7 261.8h0.85M161.5 261.6h0.85M161.0 261.0h0.85M160.6 262.3h0.85M161.6 261.7h0.85M162.8 258.1h0.85M163.5 258.1h0.85M162.1 258.0h0.85M162.2 258.3h0.85M162.2 258.0h0.85M149.1 255.7h0.85M148.4 255.5h0.85M149.5 255.8h0.85M149.6 256.3h0.85M149.3 256.3h0.85M149.3 255.2h0.85M148.8 255.4h0.85M148.6 255.4h0.85M149.6 255.2h0.85M149.3 255.4h0.85M149.5 255.9h0.85M144.3 265.2h0.85M143.7 264.9h0.85M145.0 264.5h0.85M144.5 264.9h0.85M143.8 265.4h0.85M144.8 265.2h0.85M145.1 265.3h0.85M144.9 264.4h0.85M143.9 264.8h0.85M144.6 264.3h0.85M143.8 265.4h0.85M144.5 265.3h0.85M145.0 264.3h0.85M144.8 264.3h0.85M159.7 256.4h0.85M159.8 256.0h0.85M160.0 255.4h0.85M159.3 255.8h0.85M159.1 255.6h0.85M160.2 255.7h0.85M160.3 256.0h0.85M159.3 255.0h0.85M159.4 255.8h0.85M160.1 256.0h0.85M160.0 256.3h0.85M141.6 260.7h0.85M142.0 260.2h0.85M141.1 260.3h0.85M140.7 260.8h0.85M141.6 259.5h0.85M141.6 260.7h0.85M142.1 260.0h0.85M140.7 260.1h0.85M141.0 260.7h0.85M141.1 259.7h0.85M140.7 261.4h0.85M141.1 261.3h0.85M140.8 261.5h0.85M140.8 262.3h0.85M140.6 262.1h0.85M142.0 262.2h0.85M155.5 264.4h0.85M155.4 263.9h0.85M155.7 264.8h0.85M154.6 264.7h0.85M154.4 264.1h0.85M155.5 265.0h0.85M155.6 264.4h0.85M146.0 265.2h0.85M146.4 265.3h0.85M145.7 264.4h0.85M145.7 264.6h0.85M146.7 265.2h0.85M146.1 265.0h0.85M145.5 264.1h0.85M145.8 264.6h0.85M146.0 257.7h0.85M145.2 256.8h0.85M145.7 257.0h0.85M145.4 257.7h0.85M146.6 257.4h0.85M145.7 257.7h0.85M145.8 257.4h0.85" stroke="#1f6cff" stroke-width="0.85" fill="none"/><path d="M152.9 264.7h0.85M153.7 265.1h0.85M153.2 264.6h0.85M153.9 265.2h0.85M154.1 265.2h0.85M152.9 264.4h0.85M153.9 264.6h0.85M154.1 265.0h0.85M152.9 264.1h0.85M142.4 259.0h0.85M142.4 258.5h0.85M142.9 258.5h0.85M143.5 259.3h0.85M142.9 258.3h0.85M143.0 259.3h0.85M142.9 258.7h0.85M143.3 258.5h0.85M142.5 258.4h0.85M142.2 258.1h0.85M157.6 255.3h0.85M158.2 255.2h0.85M158.2 256.3h0.85M157.6 256.4h0.85M158.5 256.3h0.85M157.8 256.1h0.85M158.0 255.8h0.85M157.9 256.2h0.85M143.5 263.4h0.85M143.0 263.8h0.85M143.1 262.6h0.85M142.7 262.6h0.85M142.4 262.8h0.85M143.4 262.6h0.85M143.2 263.5h0.85M146.7 264.2h0.85M148.0 265.3h0.85M147.3 264.1h0.85M148.2 264.6h0.85M146.8 264.6h0.85M148.2 264.0h0.85M147.8 264.3h0.85M147.9 265.2h0.85M147.0 264.8h0.85M147.7 264.5h0.85M148.2 264.2h0.85M147.1 264.1h0.85M147.0 264.0h0.85M152.3 264.4h0.85M151.4 265.4h0.85M151.5 264.4h0.85M152.4 264.0h0.85M152.6 264.2h0.85M152.0 265.1h0.85M152.7 264.8h0.85M156.0 256.2h0.85M157.0 256.4h0.85M156.0 256.1h0.85M156.0 255.6h0.85M156.9 255.6h0.85M157.2 255.3h0.85M156.7 256.0h0.85M157.3 256.0h0.85M157.0 256.3h0.85M157.0 255.7h0.85M150.8 256.2h0.85M151.0 256.0h0.85M150.2 256.4h0.85M150.2 255.5h0.85M151.1 256.4h0.85M150.6 255.2h0.85M150.0 256.1h0.85M151.0 255.6h0.85M160.8 257.5h0.85M161.4 256.5h0.85M160.5 256.8h0.85M161.1 257.7h0.85M160.6 257.0h0.85M161.2 257.7h0.85M161.9 256.6h0.85M150.0 264.8h0.85M150.1 264.7h0.85M151.0 265.0h0.85M150.9 265.3h0.85M149.9 264.4h0.85M149.8 264.6h0.85M151.0 264.8h0.85M150.7 264.2h0.85M150.7 264.0h0.85M148.5 265.3h0.85M148.6 265.2h0.85M149.6 264.7h0.85M148.6 265.0h0.85M149.5 264.4h0.85M148.7 264.9h0.85M148.7 264.2h0.85M148.5 264.9h0.85M148.7 264.0h0.85M148.3 264.0h0.85M149.5 265.0h0.85M149.0 264.8h0.85M148.2 264.9h0.85M149.0 265.0h0.85M149.1 265.3h0.85M155.1 256.0h0.85M155.2 255.2h0.85M155.7 255.8h0.85M155.8 255.0h0.85M155.0 255.7h0.85M154.6 255.1h0.85M154.8 255.0h0.85M154.5 256.4h0.85M155.8 255.7h0.85M143.3 261.1h0.85M143.2 261.3h0.85M143.0 261.6h0.85M142.9 262.1h0.85M143.0 261.4h0.85M143.4 262.3h0.85M142.9 261.8h0.85M142.3 261.1h0.85M142.4 262.2h0.85M143.3 261.2h0.85M142.6 261.1h0.85M147.9 257.5h0.85M147.1 256.9h0.85M148.2 257.2h0.85M146.8 257.3h0.85M147.6 257.6h0.85M148.1 257.1h0.85M143.2 260.8h0.85M142.6 259.6h0.85M142.4 259.9h0.85M142.2 259.7h0.85M143.4 260.8h0.85M143.0 259.9h0.85M142.7 260.2h0.85M143.2 260.8h0.85M143.6 260.3h0.85M142.9 260.6h0.85M143.1 260.3h0.85M143.5 260.5h0.85M142.4 260.2h0.85M142.8 259.8h0.85M142.7 260.1h0.85M143.8 258.4h0.85M144.0 258.4h0.85M144.2 258.7h0.85M145.0 258.0h0.85M144.5 258.8h0.85M145.0 257.9h0.85M144.0 258.3h0.85M144.0 259.3h0.85M144.2 258.0h0.85M144.5 259.2h0.85M144.2 259.0h0.85M144.6 259.2h0.85M153.6 255.6h0.85M153.8 255.0h0.85M153.8 255.4h0.85M153.9 255.3h0.85M153.2 256.1h0.85M153.0 255.3h0.85M153.9 256.0h0.85M154.0 256.1h0.85M153.7 256.3h0.85M143.9 263.9h0.85M144.3 263.1h0.85M143.9 263.0h0.85M144.8 262.9h0.85M143.7 263.8h0.85M145.1 263.0h0.85M143.9 263.2h0.85M144.6 263.2h0.85M143.9 263.7h0.85M151.6 255.7h0.85M151.3 255.4h0.85M151.7 255.6h0.85M152.4 254.9h0.85M152.0 255.7h0.85M152.3 255.6h0.85M151.4 256.0h0.85M151.7 256.4h0.85M151.6 256.0h0.85M152.4 256.0h0.85M152.1 255.8h0.85M151.4 256.4h0.85M151.6 255.8h0.85M161.4 259.9h0.85M160.8 259.9h0.85M161.5 259.9h0.85M160.5 260.5h0.85M161.0 260.0h0.85M161.3 259.5h0.85M161.8 259.5h0.85M161.3 259.7h0.85M161.8 260.3h0.85M161.3 259.5h0.85M161.1 260.5h0.85M161.0 259.5h0.85M161.4 259.6h0.85M161.8 259.9h0.85M161.3 260.0h0.85M157.9 263.5h0.85M157.7 262.5h0.85M157.5 263.0h0.85M158.4 262.5h0.85M158.3 263.6h0.85M158.2 262.5h0.85M157.5 263.0h0.85M158.0 263.6h0.85M157.6 263.6h0.85M158.0 262.6h0.85M157.9 263.8h0.85M160.4 258.8h0.85M161.5 258.2h0.85M161.1 258.4h0.85M161.0 258.0h0.85M161.3 258.5h0.85M160.6 258.7h0.85M160.9 258.3h0.85M160.6 258.8h0.85M161.6 258.5h0.85M160.7 259.4h0.85M160.5 258.4h0.85M161.6 258.7h0.85M144.0 261.6h0.85M145.0 262.3h0.85M144.2 262.4h0.85M144.6 261.9h0.85M144.0 261.7h0.85M144.6 262.1h0.85M145.1 262.3h0.85M144.3 261.2h0.85M143.6 262.0h0.85M145.0 262.2h0.85M144.6 260.3h0.85M145.1 260.5h0.85M145.0 260.2h0.85M144.7 260.0h0.85M144.7 259.5h0.85M143.9 260.3h0.85M144.2 259.9h0.85M144.4 260.0h0.85M145.2 257.9h0.85M145.7 259.3h0.85M145.8 259.1h0.85M145.7 257.9h0.85M145.5 259.2h0.85M146.7 258.7h0.85M145.6 259.0h0.85M145.2 258.4h0.85M146.0 258.6h0.85M145.2 259.0h0.85M146.5 258.3h0.85M146.3 258.4h0.85M145.9 258.4h0.85M146.3 258.9h0.85M145.5 263.4h0.85M145.4 263.7h0.85M145.3 263.9h0.85M146.2 263.3h0.85M146.2 262.4h0.85M146.6 263.3h0.85M145.6 263.7h0.85M145.3 262.5h0.85M146.5 263.4h0.85M146.5 262.5h0.85M146.1 263.3h0.85M145.6 263.6h0.85M146.5 263.2h0.85M145.9 262.6h0.85M160.4 261.9h0.85M160.4 261.8h0.85M159.7 261.8h0.85M160.1 262.4h0.85M160.2 261.6h0.85M159.6 261.2h0.85M160.4 261.0h0.85M159.1 261.3h0.85M159.1 261.0h0.85M160.1 261.1h0.85M160.0 260.9h0.85M159.0 261.5h0.85M148.8 256.6h0.85M149.5 256.6h0.85M148.7 257.8h0.85M149.3 257.9h0.85M148.7 256.7h0.85M149.2 257.8h0.85M149.0 257.5h0.85M148.9 257.1h0.85M148.4 257.8h0.85M148.8 257.3h0.85M160.4 257.7h0.85M160.1 257.0h0.85M159.6 257.6h0.85M159.2 256.4h0.85M160.2 256.7h0.85M160.2 257.0h0.85M160.3 257.1h0.85M159.1 257.6h0.85M159.3 257.0h0.85M159.4 257.8h0.85M159.2 257.3h0.85M159.9 257.2h0.85M159.9 257.7h0.85M146.0 259.7h0.85M146.4 259.8h0.85M146.2 260.4h0.85M145.3 260.7h0.85M145.2 260.1h0.85M146.6 260.4h0.85M145.2 260.0h0.85M145.7 260.3h0.85M146.0 260.8h0.85M146.5 261.7h0.85M146.6 261.3h0.85M146.4 261.2h0.85M145.6 262.4h0.85M146.1 262.0h0.85M146.4 261.5h0.85M146.5 260.9h0.85M145.4 260.9h0.85M146.5 261.6h0.85M145.6 262.1h0.85M146.3 261.2h0.85M146.5 261.0h0.85M147.9 263.6h0.85M147.1 263.9h0.85M147.6 263.9h0.85M147.0 263.6h0.85M146.7 263.7h0.85M147.4 263.0h0.85M147.4 262.7h0.85M147.1 263.5h0.85M148.2 262.6h0.85M146.7 263.0h0.85M147.7 263.5h0.85M147.4 263.7h0.85M146.8 262.9h0.85M147.9 262.7h0.85" stroke="#0aa6f0" stroke-width="0.85" fill="none"/><path d="M156.9 262.8h0.85M156.8 262.5h0.85M156.9 262.6h0.85M156.2 262.6h0.85M156.5 263.6h0.85M156.9 262.7h0.85M155.9 262.4h0.85M156.6 262.7h0.85M156.8 262.9h0.85M156.8 263.4h0.85M156.3 262.9h0.85M155.9 262.6h0.85M157.3 262.5h0.85M157.1 262.7h0.85M156.5 263.6h0.85M156.9 262.5h0.85M156.2 262.4h0.85M156.7 263.7h0.85M156.1 262.6h0.85M157.4 263.1h0.85M156.1 263.2h0.85M156.7 263.8h0.85M147.9 258.1h0.85M147.9 259.0h0.85M146.8 258.8h0.85M147.5 258.4h0.85M146.8 258.4h0.85M146.9 258.1h0.85M147.9 259.3h0.85M147.3 258.2h0.85M147.6 258.9h0.85M147.7 259.1h0.85M147.8 258.2h0.85M148.2 259.3h0.85M147.1 259.3h0.85M157.9 256.8h0.85M157.5 257.6h0.85M158.5 257.6h0.85M158.3 256.7h0.85M158.4 257.8h0.85M158.8 257.4h0.85M158.2 256.6h0.85M158.3 256.7h0.85M158.5 257.6h0.85M157.6 256.7h0.85M157.5 256.9h0.85M158.3 256.4h0.85M157.9 257.3h0.85M150.5 257.8h0.85M149.9 256.7h0.85M151.2 257.1h0.85M150.7 257.6h0.85M150.2 257.3h0.85M151.1 256.9h0.85M150.4 257.4h0.85M149.9 257.8h0.85M151.1 256.6h0.85M149.4 263.9h0.85M149.6 263.4h0.85M149.5 263.4h0.85M148.9 263.1h0.85M148.8 263.5h0.85M149.7 263.3h0.85M149.1 262.8h0.85M148.5 263.1h0.85M159.2 259.5h0.85M159.4 260.6h0.85M160.0 260.8h0.85M159.6 260.2h0.85M159.3 260.4h0.85M159.1 260.5h0.85M159.1 260.6h0.85M159.4 260.6h0.85M159.5 260.3h0.85M159.2 259.4h0.85M159.7 259.9h0.85M160.4 259.8h0.85M160.3 259.8h0.85M159.8 259.9h0.85M159.0 260.7h0.85M159.9 260.9h0.85M159.0 260.2h0.85M160.1 260.0h0.85M156.7 256.7h0.85M156.4 256.6h0.85M155.9 257.3h0.85M156.8 257.9h0.85M157.2 256.7h0.85M156.8 256.8h0.85M156.0 257.7h0.85M156.3 256.8h0.85M156.5 257.6h0.85M157.0 257.8h0.85M156.5 256.7h0.85M156.3 257.6h0.85M154.4 262.4h0.85M155.8 263.7h0.85M155.2 262.7h0.85M154.6 263.2h0.85M155.1 262.9h0.85M154.8 263.2h0.85M155.2 263.2h0.85M155.0 262.4h0.85M154.6 262.6h0.85M154.4 263.8h0.85M154.4 262.7h0.85M160.0 258.5h0.85M159.8 259.0h0.85M160.1 258.0h0.85M160.4 258.3h0.85M159.0 259.4h0.85M159.3 258.1h0.85M160.2 258.6h0.85M159.9 258.1h0.85M159.1 257.9h0.85M159.5 258.8h0.85M160.4 259.4h0.85M159.3 258.8h0.85M159.0 259.4h0.85M159.0 258.2h0.85M159.1 259.0h0.85M159.9 258.9h0.85M159.8 258.0h0.85M160.1 259.2h0.85M160.1 258.9h0.85M159.7 258.7h0.85M146.7 261.9h0.85M147.2 261.0h0.85M148.1 262.0h0.85M147.6 261.6h0.85M147.5 261.0h0.85M147.3 261.2h0.85M147.0 261.6h0.85M147.5 261.0h0.85M146.7 261.0h0.85M147.2 261.5h0.85M147.7 262.1h0.85M147.5 260.8h0.85M147.0 260.6h0.85M147.8 259.8h0.85M146.7 259.7h0.85M146.9 259.8h0.85M147.2 260.3h0.85M147.0 260.3h0.85M147.7 259.5h0.85M147.6 260.3h0.85M147.1 260.9h0.85M147.7 259.9h0.85M147.1 260.3h0.85M147.4 259.9h0.85M158.0 261.3h0.85M158.2 261.0h0.85M158.2 262.3h0.85M157.8 261.0h0.85M158.9 261.5h0.85M158.5 261.6h0.85M158.2 261.4h0.85M157.4 262.3h0.85M157.9 262.1h0.85M157.7 261.8h0.85M157.6 262.3h0.85M158.9 262.2h0.85M158.7 262.2h0.85M157.9 262.0h0.85M157.6 261.0h0.85M158.6 261.5h0.85M158.0 262.0h0.85M155.3 257.6h0.85M155.8 257.1h0.85M154.5 257.8h0.85M155.1 256.6h0.85M154.7 257.3h0.85M154.6 257.0h0.85M154.5 257.1h0.85M154.9 257.5h0.85M155.5 257.4h0.85M154.7 257.7h0.85M155.2 257.4h0.85M155.7 257.4h0.85M155.5 257.0h0.85M154.9 257.6h0.85M155.7 257.2h0.85M155.4 257.8h0.85M149.8 263.8h0.85M150.8 262.8h0.85M150.3 263.6h0.85M150.8 263.2h0.85M150.1 263.6h0.85M150.7 263.0h0.85M151.0 263.6h0.85M150.4 262.6h0.85M149.8 263.7h0.85M151.0 263.4h0.85M150.0 263.9h0.85M150.4 262.6h0.85M149.9 262.6h0.85M149.8 263.3h0.85M150.7 263.4h0.85M150.7 263.2h0.85M150.6 263.0h0.85M151.2 263.7h0.85M150.1 262.5h0.85M151.3 263.8h0.85M152.9 262.9h0.85M153.0 263.1h0.85M154.1 263.0h0.85M154.0 263.7h0.85M154.3 263.2h0.85M153.3 263.7h0.85M153.6 262.7h0.85M152.9 262.8h0.85M154.2 262.9h0.85M154.0 263.8h0.85M153.5 263.5h0.85M153.1 262.7h0.85M154.0 263.4h0.85M153.8 263.4h0.85M153.4 263.9h0.85M154.1 262.5h0.85M153.6 263.4h0.85M152.4 262.5h0.85M151.3 262.6h0.85M152.0 263.8h0.85M151.5 263.9h0.85M152.0 262.4h0.85M151.5 262.7h0.85M152.1 262.5h0.85M152.2 263.8h0.85M151.5 262.6h0.85M151.9 262.6h0.85M151.4 263.0h0.85M151.7 263.0h0.85M152.7 263.6h0.85M151.8 257.0h0.85M151.7 257.7h0.85M151.4 256.4h0.85M152.5 256.7h0.85M151.4 257.0h0.85M152.4 257.3h0.85M152.5 256.7h0.85M152.0 257.1h0.85M152.7 256.7h0.85M151.9 256.7h0.85M151.9 257.5h0.85M151.4 257.0h0.85M151.8 257.9h0.85M152.2 257.6h0.85M152.7 256.5h0.85M151.7 257.3h0.85M152.2 257.8h0.85M151.9 257.2h0.85M152.6 257.8h0.85M153.7 257.5h0.85M153.7 257.2h0.85M153.9 257.8h0.85M153.5 257.8h0.85M152.9 257.8h0.85M154.2 256.5h0.85M153.4 257.4h0.85M152.9 257.0h0.85M153.3 257.9h0.85M153.6 257.8h0.85M153.6 257.6h0.85M152.9 256.4h0.85M149.5 259.3h0.85M149.5 258.8h0.85M149.4 259.0h0.85M148.3 259.1h0.85M148.8 259.0h0.85M149.6 258.4h0.85M148.9 259.2h0.85M149.6 258.5h0.85M149.3 259.0h0.85M149.7 258.1h0.85M148.7 258.3h0.85M149.4 259.3h0.85M149.2 259.2h0.85M149.0 258.3h0.85M148.5 259.3h0.85M149.4 258.0h0.85M149.6 258.0h0.85M148.8 259.3h0.85M158.3 258.4h0.85M158.3 259.4h0.85M158.3 259.2h0.85M157.8 258.2h0.85M157.4 258.2h0.85M158.7 258.5h0.85M158.0 259.3h0.85M157.6 258.1h0.85M158.7 258.8h0.85M158.2 258.8h0.85M158.1 258.1h0.85M157.8 259.4h0.85M158.3 259.3h0.85M158.5 258.5h0.85M158.9 258.0h0.85M157.5 259.3h0.85M157.9 258.9h0.85M149.5 261.2h0.85M149.5 261.9h0.85M149.7 262.3h0.85M149.1 262.3h0.85M148.5 261.3h0.85M149.1 261.5h0.85M148.4 261.6h0.85M148.4 261.0h0.85M148.7 261.7h0.85M148.7 261.6h0.85M149.6 260.9h0.85M148.7 261.3h0.85M149.1 261.9h0.85M149.2 261.2h0.85M148.3 261.8h0.85M148.6 261.8h0.85M157.6 260.9h0.85M157.4 260.0h0.85M157.9 260.5h0.85M158.8 260.2h0.85M158.2 260.9h0.85M158.7 260.4h0.85M158.7 260.9h0.85M148.9 259.6h0.85M148.4 260.9h0.85M148.8 259.4h0.85M149.3 259.8h0.85M148.5 260.2h0.85M148.3 259.5h0.85M149.1 260.6h0.85M149.7 260.0h0.85M149.3 260.1h0.85M149.3 260.4h0.85M148.4 260.7h0.85M149.4 260.0h0.85M149.4 260.6h0.85M148.6 259.7h0.85M149.0 260.5h0.85M149.6 259.5h0.85" stroke="#10c8b8" stroke-width="0.85" fill="none"/><path d="M156.0 261.2h0.85M155.9 261.8h0.85M156.4 261.0h0.85M156.1 261.6h0.85M156.6 261.7h0.85M156.1 261.3h0.85M157.1 261.2h0.85M156.8 262.4h0.85M156.1 262.1h0.85M157.3 262.2h0.85M156.4 261.5h0.85M157.1 261.0h0.85M156.6 261.5h0.85M150.1 258.3h0.85M150.7 258.8h0.85M149.8 259.2h0.85M150.7 259.2h0.85M150.1 257.9h0.85M151.1 259.1h0.85M151.2 259.1h0.85M150.9 258.5h0.85M150.0 259.2h0.85M150.1 259.0h0.85M150.9 259.1h0.85M150.1 258.2h0.85M151.2 258.5h0.85M150.2 258.1h0.85M151.0 258.7h0.85M156.9 259.4h0.85M156.1 258.6h0.85M157.0 259.0h0.85M156.9 258.4h0.85M156.1 258.5h0.85M156.1 259.4h0.85M156.0 259.3h0.85M157.3 258.2h0.85M157.3 259.1h0.85M157.1 258.3h0.85M157.1 258.6h0.85M157.2 258.2h0.85M156.4 258.4h0.85M156.4 259.1h0.85M149.9 261.5h0.85M149.9 261.6h0.85M151.0 261.9h0.85M150.8 261.0h0.85M150.6 261.2h0.85M150.1 261.1h0.85M150.7 262.1h0.85M150.1 261.7h0.85M151.2 262.2h0.85M150.9 261.3h0.85M150.8 261.9h0.85M151.1 262.1h0.85M149.9 262.1h0.85M149.8 262.2h0.85M154.9 261.1h0.85M155.7 261.0h0.85M155.4 261.4h0.85M155.3 261.1h0.85M155.4 260.9h0.85M155.0 262.1h0.85M154.8 261.1h0.85M155.0 261.5h0.85M155.6 261.2h0.85M154.5 261.5h0.85M154.9 261.0h0.85M154.6 262.4h0.85M155.0 262.2h0.85M151.4 258.5h0.85M151.8 258.6h0.85M152.7 259.1h0.85M152.7 258.0h0.85M152.6 258.0h0.85M152.5 258.7h0.85M151.4 258.2h0.85M152.0 258.3h0.85M152.7 258.9h0.85M152.0 258.8h0.85M152.0 259.1h0.85M151.7 258.8h0.85M152.6 258.9h0.85M151.4 257.9h0.85M152.6 258.6h0.85M152.2 258.6h0.85M151.4 258.3h0.85M151.8 258.8h0.85M152.1 258.6h0.85M151.6 259.1h0.85M151.5 257.9h0.85M155.0 258.9h0.85M155.4 258.2h0.85M155.3 259.1h0.85M154.4 258.8h0.85M155.0 259.3h0.85M155.2 258.0h0.85M155.2 259.2h0.85M154.6 259.0h0.85M155.4 258.3h0.85M155.7 259.0h0.85M155.5 258.0h0.85M154.5 258.7h0.85M154.8 258.1h0.85M154.8 259.4h0.85M156.1 259.6h0.85M155.9 260.1h0.85M156.3 260.8h0.85M157.2 260.4h0.85M156.0 260.1h0.85M156.2 260.2h0.85M157.4 260.1h0.85M156.4 259.7h0.85M156.7 260.7h0.85M157.3 259.9h0.85M157.3 260.6h0.85M156.2 260.2h0.85M156.6 259.8h0.85M156.8 260.4h0.85M155.9 259.7h0.85M156.3 260.0h0.85M156.8 260.4h0.85M156.1 260.4h0.85M156.3 259.5h0.85M155.9 260.3h0.85M156.4 259.7h0.85M150.5 260.9h0.85M151.0 259.8h0.85M150.2 260.1h0.85M150.1 260.5h0.85M149.9 260.1h0.85M151.0 260.4h0.85M150.2 259.8h0.85M150.7 259.7h0.85M150.4 260.3h0.85M150.4 260.8h0.85M150.2 260.0h0.85M151.2 260.9h0.85M150.1 259.8h0.85M150.8 260.6h0.85M150.3 259.9h0.85M149.9 260.4h0.85M150.2 259.4h0.85M150.9 260.6h0.85M150.7 260.5h0.85M149.8 259.7h0.85M150.8 259.9h0.85M151.5 262.1h0.85M152.2 261.4h0.85M152.3 261.3h0.85M152.2 261.6h0.85M151.7 261.8h0.85M152.1 261.4h0.85M152.6 262.1h0.85M152.7 261.9h0.85M151.6 262.3h0.85M152.3 261.0h0.85M151.7 262.2h0.85M152.3 261.6h0.85M151.9 262.3h0.85M151.9 261.9h0.85M151.6 261.7h0.85M152.2 261.5h0.85M152.4 261.6h0.85M151.6 261.7h0.85M152.7 261.2h0.85M151.9 261.6h0.85M152.7 262.2h0.85M153.8 258.6h0.85M154.2 257.9h0.85M153.6 258.6h0.85M153.2 259.0h0.85M154.0 258.6h0.85M153.4 258.7h0.85M152.9 258.8h0.85M153.0 258.6h0.85M153.6 259.4h0.85M153.2 258.6h0.85M153.9 258.0h0.85M154.3 258.0h0.85M153.4 258.7h0.85M154.0 259.1h0.85M153.1 258.9h0.85M152.8 261.5h0.85M153.0 261.3h0.85M154.3 261.3h0.85M154.0 261.0h0.85M154.2 262.3h0.85M153.8 261.1h0.85M153.6 260.9h0.85M154.2 262.4h0.85M153.3 261.3h0.85M153.0 261.4h0.85M153.0 261.0h0.85M153.8 261.4h0.85M153.7 262.2h0.85M153.7 261.4h0.85M153.2 262.2h0.85M154.0 261.3h0.85M153.5 261.8h0.85M153.1 261.0h0.85M152.3 260.3h0.85M152.4 260.8h0.85M152.1 260.5h0.85M151.3 259.6h0.85M152.6 259.5h0.85M151.4 260.9h0.85M151.3 260.8h0.85M152.6 260.1h0.85M152.8 260.9h0.85M151.4 260.6h0.85M152.0 259.9h0.85M155.6 260.8h0.85M154.7 259.5h0.85M155.0 260.3h0.85M155.4 260.0h0.85M154.5 260.8h0.85M155.4 260.6h0.85M155.8 259.6h0.85M155.7 260.8h0.85M155.3 259.6h0.85M155.6 260.1h0.85M155.5 260.5h0.85M155.3 260.2h0.85M155.0 260.5h0.85M154.4 260.6h0.85M155.1 259.5h0.85M155.7 259.8h0.85M155.0 260.0h0.85M155.1 259.8h0.85M155.1 260.1h0.85M155.7 260.1h0.85M155.2 260.8h0.85M155.7 259.5h0.85M155.0 260.6h0.85M155.5 260.6h0.85M155.7 260.1h0.85M154.6 260.5h0.85M155.7 260.8h0.85M155.7 260.4h0.85M154.1 259.6h0.85M153.3 260.0h0.85M154.3 259.7h0.85M153.6 260.8h0.85M153.7 259.8h0.85M154.0 260.4h0.85M153.6 259.8h0.85M153.6 259.5h0.85M153.6 260.5h0.85M153.1 260.1h0.85M154.1 260.1h0.85M154.2 260.7h0.85M154.3 259.9h0.85M153.4 260.7h0.85M153.4 259.9h0.85M153.0 259.6h0.85M153.4 260.6h0.85M153.7 260.6h0.85M153.3 259.6h0.85M153.4 260.4h0.85" stroke="#22cc5a" stroke-width="0.85" fill="none"/>
<path d="M268.8 238.6h0.85M270.2 260.0h0.85M262.5 264.0h0.85M217.9 277.6h0.85M267.6 250.0h0.85M258.7 267.0h0.85M249.4 276.5h0.85M241.9 240.0h0.85M237.6 275.1h0.85M251.1 271.4h0.85M252.0 274.5h0.85M253.0 273.8h0.85M245.9 245.0h0.85M242.1 273.8h0.85M224.0 275.1h0.85M250.3 242.5h0.85M240.4 246.9h0.85M262.4 251.6h0.85M265.3 252.6h0.85M223.3 247.4h0.85M246.6 247.0h0.85M239.2 243.9h0.85M249.7 241.8h0.85M249.9 241.6h0.85M257.1 247.6h0.85M255.6 248.1h0.85M245.3 272.8h0.85M258.5 250.0h0.85M263.0 255.1h0.85M239.7 243.1h0.85M239.3 243.6h0.85M262.5 253.1h0.85M225.2 274.0h0.85M254.5 250.1h0.85M223.4 248.0h0.85M251.2 250.1h0.85M224.5 249.8h0.85M224.4 272.1h0.85M257.3 250.5h0.85M227.4 272.0h0.85M233.4 248.4h0.85M233.5 248.7h0.85M221.3 272.3h0.85M221.7 272.0h0.85M259.8 254.8h0.85M260.3 254.6h0.85M235.6 271.8h0.85M233.2 271.6h0.85M233.4 272.0h0.85M223.5 249.6h0.85M244.1 270.9h0.85M257.2 252.7h0.85M256.3 253.0h0.85M230.9 248.4h0.85M240.1 249.4h0.85M244.8 249.0h0.85M237.6 249.8h0.85M222.3 250.0h0.85M223.7 270.0h0.85M259.2 255.8h0.85M247.3 269.7h0.85M248.3 249.9h0.85M248.1 250.1h0.85M257.6 262.8h0.85M254.6 252.9h0.85M226.8 270.4h0.85M220.2 250.2h0.85M255.2 264.7h0.85M239.6 270.4h0.85M240.3 270.1h0.85M221.3 251.8h0.85M260.1 258.7h0.85M259.7 258.1h0.85M260.7 257.6h0.85M259.6 257.8h0.85M257.8 255.7h0.85M229.3 270.4h0.85M233.0 270.0h0.85M227.1 270.5h0.85M237.9 270.7h0.85M218.0 249.4h0.85M218.5 250.0h0.85M218.3 249.7h0.85M229.4 250.2h0.85M254.4 253.2h0.85M217.2 250.2h0.85M223.0 252.8h0.85M217.9 272.1h0.85M217.3 271.5h0.85M255.6 254.4h0.85M253.0 265.6h0.85" stroke="#8c96ff" stroke-width="0.85" fill="none"/><path d="M233.2 270.2h0.85M221.7 252.7h0.85M221.3 253.4h0.85M231.9 248.9h0.85M232.7 249.4h0.85M220.2 251.6h0.85M249.5 250.8h0.85M249.0 251.8h0.85M220.9 270.0h0.85M231.6 250.2h0.85M231.6 250.2h0.85M258.6 259.9h0.85M252.2 252.4h0.85M252.0 252.8h0.85M242.3 251.4h0.85M258.5 257.5h0.85M240.4 251.0h0.85M240.6 251.6h0.85M218.9 251.6h0.85M219.7 252.9h0.85M255.3 262.7h0.85M255.1 256.1h0.85M253.8 264.1h0.85M258.5 259.0h0.85M257.8 259.1h0.85M253.9 253.9h0.85M221.3 268.9h0.85M221.2 269.9h0.85M244.4 251.3h0.85M236.6 250.9h0.85M238.1 251.4h0.85M242.7 269.4h0.85M247.1 267.0h0.85M246.4 251.7h0.85M246.3 251.1h0.85M233.2 250.4h0.85M217.9 250.8h0.85M218.1 270.1h0.85M257.4 257.3h0.85M257.0 256.7h0.85M230.0 250.8h0.85M229.4 251.8h0.85M229.1 250.6h0.85M228.8 251.1h0.85M228.4 269.3h0.85M228.6 268.7h0.85M223.7 253.4h0.85M229.2 269.5h0.85M228.7 268.5h0.85M229.1 268.8h0.85M231.8 251.6h0.85M231.8 251.2h0.85M242.1 268.7h0.85M231.5 269.3h0.85M230.8 251.3h0.85M257.0 260.8h0.85M257.2 260.0h0.85M256.3 260.6h0.85M226.3 252.0h0.85M226.1 252.9h0.85M218.0 252.8h0.85M252.1 254.8h0.85M252.3 253.5h0.85M252.5 253.8h0.85M220.1 253.5h0.85M249.5 252.6h0.85M249.2 253.1h0.85M256.6 258.9h0.85M257.6 258.4h0.85M257.4 259.1h0.85M256.3 258.8h0.85M248.5 266.2h0.85M248.6 266.6h0.85M253.2 255.9h0.85M254.0 255.5h0.85M255.2 262.3h0.85M256.0 261.5h0.85M255.1 261.8h0.85M246.7 267.8h0.85M246.4 268.3h0.85M245.6 267.4h0.85M217.8 270.2h0.85M239.1 269.7h0.85M251.8 264.3h0.85M253.0 263.9h0.85M217.9 252.3h0.85M217.5 252.3h0.85M217.8 252.6h0.85M217.3 252.9h0.85M234.2 268.7h0.85M237.2 268.8h0.85M237.1 269.2h0.85M253.5 263.2h0.85M234.8 269.0h0.85M235.9 268.6h0.85M222.0 267.8h0.85M222.3 267.0h0.85M222.5 267.1h0.85M221.9 268.3h0.85M250.8 253.7h0.85M227.7 252.9h0.85M228.5 252.3h0.85M227.4 251.9h0.85M245.3 267.9h0.85M244.2 268.1h0.85M255.6 258.1h0.85M254.8 258.0h0.85M255.2 258.0h0.85M254.6 257.9h0.85M254.7 258.3h0.85M254.9 259.8h0.85M248.5 253.0h0.85M247.8 252.8h0.85M218.0 269.7h0.85M218.3 268.9h0.85M218.6 268.6h0.85M218.0 268.8h0.85M241.1 252.3h0.85M242.9 252.9h0.85M225.4 267.9h0.85M225.1 268.4h0.85M247.8 266.4h0.85M248.4 265.6h0.85M248.2 266.8h0.85M219.2 254.6h0.85M219.3 253.9h0.85M218.0 254.5h0.85M254.3 257.6h0.85M254.3 257.8h0.85M219.8 267.4h0.85M250.9 264.4h0.85M250.5 265.0h0.85M250.2 264.7h0.85M252.9 255.6h0.85M251.7 255.8h0.85M251.7 255.3h0.85M231.1 252.6h0.85M233.2 252.9h0.85M232.5 252.1h0.85M232.7 252.4h0.85M233.2 252.8h0.85M239.7 252.3h0.85M240.0 252.2h0.85M234.2 252.3h0.85M233.6 252.1h0.85M235.5 252.1h0.85M243.9 253.2h0.85M244.1 252.8h0.85M245.0 253.0h0.85M225.9 267.4h0.85M226.6 267.0h0.85M246.2 253.0h0.85M246.3 253.3h0.85M246.2 253.1h0.85M236.6 252.9h0.85M236.3 253.3h0.85M237.0 252.9h0.85M236.6 252.8h0.85M238.5 253.0h0.85M238.3 253.0h0.85M228.3 268.2h0.85M228.3 268.2h0.85M243.6 267.0h0.85M243.7 267.6h0.85" stroke="#5a6cff" stroke-width="0.85" fill="none"/><path d="M224.0 255.8h0.85M254.2 261.3h0.85M253.3 261.2h0.85M254.0 261.1h0.85M229.5 267.0h0.85M217.2 254.0h0.85M217.0 253.8h0.85M249.4 254.5h0.85M248.8 254.4h0.85M253.3 258.7h0.85M253.6 258.5h0.85M252.6 262.6h0.85M252.7 263.9h0.85M252.9 262.8h0.85M252.0 263.8h0.85M253.0 263.1h0.85M252.3 263.2h0.85M217.5 269.6h0.85M217.4 268.9h0.85M217.3 269.1h0.85M217.7 268.4h0.85M217.1 269.4h0.85M249.5 264.1h0.85M248.5 264.7h0.85M248.7 264.0h0.85M230.6 268.0h0.85M230.9 267.7h0.85M231.3 267.4h0.85M225.7 254.3h0.85M225.8 253.4h0.85M225.7 254.3h0.85M245.7 265.7h0.85M245.4 266.5h0.85M247.0 266.5h0.85M246.7 266.2h0.85M253.3 260.5h0.85M253.7 259.5h0.85M254.1 260.2h0.85M253.4 259.4h0.85M241.1 267.1h0.85M241.2 267.8h0.85M241.6 268.2h0.85M241.5 267.5h0.85M241.0 267.8h0.85M241.8 267.5h0.85M221.1 266.3h0.85M221.3 265.9h0.85M218.2 267.6h0.85M251.3 255.2h0.85M250.5 255.6h0.85M251.5 255.8h0.85M252.0 257.5h0.85M252.8 257.0h0.85M223.1 266.5h0.85M223.2 266.7h0.85M223.8 265.7h0.85M239.9 267.6h0.85M218.1 255.2h0.85M218.5 255.6h0.85M219.0 256.0h0.85M219.2 256.3h0.85M219.4 256.0h0.85M218.1 256.2h0.85M232.7 267.7h0.85M231.9 267.7h0.85M220.7 266.8h0.85M219.8 266.1h0.85M219.7 265.8h0.85M219.9 266.1h0.85M222.1 257.8h0.85M221.5 256.9h0.85M222.1 256.6h0.85M222.5 257.2h0.85M224.1 256.1h0.85M224.5 256.1h0.85M225.5 256.0h0.85M224.9 255.5h0.85M248.3 264.0h0.85M247.2 264.0h0.85M247.5 253.7h0.85M247.5 253.5h0.85M247.3 254.6h0.85M248.0 254.6h0.85M220.7 257.4h0.85M221.0 257.0h0.85M219.6 256.5h0.85M219.5 257.0h0.85M238.5 266.9h0.85M238.1 267.3h0.85M239.3 267.7h0.85M245.4 266.4h0.85M245.4 265.7h0.85M244.7 266.1h0.85M244.3 265.6h0.85M244.2 266.5h0.85M250.8 262.6h0.85M250.1 263.0h0.85M251.4 263.8h0.85M250.8 263.9h0.85M250.5 263.9h0.85M227.1 254.6h0.85M227.7 254.4h0.85M227.3 254.0h0.85M227.3 253.7h0.85M227.7 253.5h0.85M225.3 265.6h0.85M224.3 266.0h0.85M225.0 265.6h0.85M224.2 265.5h0.85M224.9 266.8h0.85M224.6 266.0h0.85M224.9 266.0h0.85M225.5 266.9h0.85M253.1 262.0h0.85M252.6 261.3h0.85M252.9 261.6h0.85M233.9 267.7h0.85M234.3 266.9h0.85M233.4 267.0h0.85M237.8 267.7h0.85M237.7 267.7h0.85M217.3 268.2h0.85M217.3 267.2h0.85M217.3 267.1h0.85M217.4 268.1h0.85M217.7 267.0h0.85M217.6 268.1h0.85M217.1 267.7h0.85M217.9 267.0h0.85M235.0 267.0h0.85M235.3 267.6h0.85M235.5 267.7h0.85M235.6 267.1h0.85M226.0 265.8h0.85M226.9 266.4h0.85M225.8 265.5h0.85M227.0 266.4h0.85M225.7 266.2h0.85M226.5 266.8h0.85M253.0 258.4h0.85M252.0 257.9h0.85M251.6 258.1h0.85M252.1 259.1h0.85M251.7 258.1h0.85M252.0 259.0h0.85M230.7 254.8h0.85M229.1 254.2h0.85M229.7 254.3h0.85M229.7 254.2h0.85M229.8 253.7h0.85M229.6 254.7h0.85M217.0 256.1h0.85M217.3 256.1h0.85M217.1 256.2h0.85M232.5 254.7h0.85M232.5 254.8h0.85M232.5 254.5h0.85M223.5 257.5h0.85M222.9 257.6h0.85M223.7 257.0h0.85M222.5 257.1h0.85M252.3 260.7h0.85M252.1 259.8h0.85M252.9 259.5h0.85M252.2 260.0h0.85M249.8 254.9h0.85M249.4 255.1h0.85M249.5 255.7h0.85M249.7 255.7h0.85M219.1 265.9h0.85M218.0 266.0h0.85M245.5 254.5h0.85M246.7 254.5h0.85M246.1 254.4h0.85M246.7 254.6h0.85M245.5 253.4h0.85M227.8 266.7h0.85M228.3 265.5h0.85M228.5 265.4h0.85M227.4 266.8h0.85M227.5 266.4h0.85M221.8 264.9h0.85M221.0 264.1h0.85M222.1 265.0h0.85M221.9 265.2h0.85M233.8 254.1h0.85M234.0 254.5h0.85M233.8 254.6h0.85M248.7 263.1h0.85M249.6 262.7h0.85M249.3 262.6h0.85M250.8 256.4h0.85M251.0 256.8h0.85M250.6 257.0h0.85M250.6 257.1h0.85M251.3 256.5h0.85M235.7 253.8h0.85M235.9 254.5h0.85M235.8 254.4h0.85M235.1 254.3h0.85M244.7 254.5h0.85M245.0 254.8h0.85M244.6 254.6h0.85M244.2 254.5h0.85M243.2 254.9h0.85M243.0 254.6h0.85M242.9 254.0h0.85M245.6 264.8h0.85M245.8 264.8h0.85M245.6 264.9h0.85M219.5 264.1h0.85M219.5 264.1h0.85M219.5 264.3h0.85M219.8 265.2h0.85M220.9 264.5h0.85M219.5 264.4h0.85M237.6 253.4h0.85M237.4 253.9h0.85M236.5 254.5h0.85M241.2 254.6h0.85M242.1 254.1h0.85M241.6 254.4h0.85M242.2 254.0h0.85M242.9 265.5h0.85M243.0 266.2h0.85M222.6 264.4h0.85M222.7 264.8h0.85M222.9 263.9h0.85M223.8 264.6h0.85M223.0 264.3h0.85M223.3 264.0h0.85M223.6 264.0h0.85M219.3 256.5h0.85M218.0 257.8h0.85M219.0 256.9h0.85M219.0 257.3h0.85M218.0 257.2h0.85M219.5 257.6h0.85M230.1 266.2h0.85M228.7 266.1h0.85M229.8 265.8h0.85M229.2 266.9h0.85M237.9 253.4h0.85M238.0 254.4h0.85M238.2 253.5h0.85M237.9 254.3h0.85M238.4 254.3h0.85M226.8 256.1h0.85M226.1 255.7h0.85M226.1 255.3h0.85M240.6 254.8h0.85M219.7 259.0h0.85M220.1 258.7h0.85M220.0 258.8h0.85M222.3 258.9h0.85M222.5 259.1h0.85M222.0 258.3h0.85M222.3 258.8h0.85M221.7 259.0h0.85M251.0 261.2h0.85M250.4 261.5h0.85M250.8 261.2h0.85M250.9 261.9h0.85M250.7 262.2h0.85M251.2 261.1h0.85M224.8 265.2h0.85M225.6 265.0h0.85M224.1 264.9h0.85M225.4 265.3h0.85M225.1 264.4h0.85M217.7 265.5h0.85M217.6 265.5h0.85M217.5 266.4h0.85M217.1 266.2h0.85M217.7 266.5h0.85M217.0 265.9h0.85M221.3 263.4h0.85M221.9 263.3h0.85M221.9 263.7h0.85M247.5 263.4h0.85M247.3 263.6h0.85M247.3 263.6h0.85M247.8 262.7h0.85M247.4 263.4h0.85M247.1 262.4h0.85M250.2 258.6h0.85M250.1 258.1h0.85M250.4 259.2h0.85M251.2 259.1h0.85M251.4 258.0h0.85M250.2 259.1h0.85M251.2 259.3h0.85M250.9 259.2h0.85M231.2 265.8h0.85M224.8 257.6h0.85M224.9 257.2h0.85M225.2 256.6h0.85M225.5 257.0h0.85M224.8 256.5h0.85M225.5 256.6h0.85M225.3 256.9h0.85M225.0 257.8h0.85M225.4 257.8h0.85" stroke="#2c48ff" stroke-width="0.85" fill="none"/><path d="M220.3 263.1h0.85M220.0 263.4h0.85M220.3 262.7h0.85M220.5 262.6h0.85M247.0 256.0h0.85M248.0 255.9h0.85M247.0 255.6h0.85M247.6 255.4h0.85M248.5 256.1h0.85M247.1 255.3h0.85M218.2 264.8h0.85M218.8 264.4h0.85M218.5 265.3h0.85M218.8 264.5h0.85M223.4 263.3h0.85M223.8 263.4h0.85M223.2 262.8h0.85M222.6 262.5h0.85M222.7 262.9h0.85M222.6 263.6h0.85M222.7 262.9h0.85M222.7 262.5h0.85M241.4 266.8h0.85M241.8 266.2h0.85M241.8 266.6h0.85M241.5 266.5h0.85M250.4 260.9h0.85M250.6 259.5h0.85M250.5 259.5h0.85M250.5 260.7h0.85M250.9 260.1h0.85M250.6 260.1h0.85M251.4 260.4h0.85M251.0 260.8h0.85M250.6 260.6h0.85M250.7 260.1h0.85M220.5 260.3h0.85M220.7 259.5h0.85M220.3 260.5h0.85M221.0 260.4h0.85M223.1 259.1h0.85M223.5 258.6h0.85M222.7 259.1h0.85M223.9 258.6h0.85M221.2 260.7h0.85M222.5 260.4h0.85M222.2 260.2h0.85M221.7 260.5h0.85M221.6 260.5h0.85M221.5 259.9h0.85M221.1 260.0h0.85M222.5 260.7h0.85M221.0 260.3h0.85M221.6 260.8h0.85M244.7 265.2h0.85M243.9 264.4h0.85M244.2 264.4h0.85M227.0 264.6h0.85M226.5 264.3h0.85M226.5 264.1h0.85M226.4 265.3h0.85M221.9 261.6h0.85M222.3 261.9h0.85M221.5 261.3h0.85M221.1 261.8h0.85M217.7 257.8h0.85M217.4 256.9h0.85M217.3 256.9h0.85M217.3 256.4h0.85M217.1 257.5h0.85M217.9 256.4h0.85M217.3 257.2h0.85M217.6 256.7h0.85M217.1 257.8h0.85M217.3 257.8h0.85M249.2 257.4h0.85M249.8 257.1h0.85M249.0 256.4h0.85M249.2 257.1h0.85M250.0 257.0h0.85M248.5 256.4h0.85M248.7 257.0h0.85M250.0 257.6h0.85M228.5 255.8h0.85M227.3 255.9h0.85M228.2 256.0h0.85M228.2 255.0h0.85M228.2 256.1h0.85M228.2 256.4h0.85M227.5 255.3h0.85M227.9 255.0h0.85M250.0 261.8h0.85M249.5 261.1h0.85M250.0 261.0h0.85M248.9 261.6h0.85M249.8 262.3h0.85M249.8 261.4h0.85M249.2 261.1h0.85M220.7 261.5h0.85M220.5 261.5h0.85M219.8 261.8h0.85M220.9 261.6h0.85M220.3 262.4h0.85M220.1 261.9h0.85M220.0 261.4h0.85M220.4 262.0h0.85M232.3 265.5h0.85M232.5 266.3h0.85M232.6 265.7h0.85M232.0 265.4h0.85M233.1 266.5h0.85M222.9 261.1h0.85M222.9 261.3h0.85M223.5 262.0h0.85M222.7 260.9h0.85M223.7 261.1h0.85M223.0 261.3h0.85M222.7 261.6h0.85M239.3 266.1h0.85M240.1 265.4h0.85M239.9 265.5h0.85M239.4 265.5h0.85M224.0 263.7h0.85M225.1 263.5h0.85M225.2 263.9h0.85M225.2 263.8h0.85M224.5 263.0h0.85M223.2 260.1h0.85M223.6 259.5h0.85M223.4 260.6h0.85M223.2 260.9h0.85M223.0 259.8h0.85M223.1 259.5h0.85M223.7 260.3h0.85M223.3 260.1h0.85M223.4 260.0h0.85M228.1 264.5h0.85M227.8 264.5h0.85M227.8 264.4h0.85M228.1 264.0h0.85M228.6 264.8h0.85M238.6 266.0h0.85M238.6 265.9h0.85M238.2 265.8h0.85M238.1 266.0h0.85M238.8 266.7h0.85M238.0 266.3h0.85M238.6 266.6h0.85M238.1 265.9h0.85M238.3 266.3h0.85M238.2 265.8h0.85M245.7 263.3h0.85M245.6 263.4h0.85M246.2 262.9h0.85M246.4 262.5h0.85M246.3 263.0h0.85M246.4 262.9h0.85M246.0 263.0h0.85M245.5 262.7h0.85M246.2 263.5h0.85M218.0 260.0h0.85M218.2 260.5h0.85M218.2 259.8h0.85M218.3 260.6h0.85M219.0 260.2h0.85M218.4 259.6h0.85M218.6 260.0h0.85M230.1 256.3h0.85M229.7 256.0h0.85M229.3 255.5h0.85M229.9 255.5h0.85M230.1 255.0h0.85M228.6 255.2h0.85M229.9 256.4h0.85M228.8 256.1h0.85M230.0 256.0h0.85M228.8 255.2h0.85M228.7 255.1h0.85M217.4 265.2h0.85M217.8 265.3h0.85M217.5 265.3h0.85M217.0 264.1h0.85M217.8 264.1h0.85M217.4 264.3h0.85M217.5 264.0h0.85M217.7 264.8h0.85M217.4 265.2h0.85M226.9 257.8h0.85M226.7 257.4h0.85M227.0 257.3h0.85M225.9 256.4h0.85M225.7 257.8h0.85M226.4 257.4h0.85M226.3 256.9h0.85M226.8 256.7h0.85M225.6 257.7h0.85M226.0 257.6h0.85M237.5 265.5h0.85M236.8 265.7h0.85M236.7 266.7h0.85M237.8 265.8h0.85M237.1 266.3h0.85M237.0 265.5h0.85M236.6 266.3h0.85M236.6 265.9h0.85M234.4 265.6h0.85M233.4 266.7h0.85M234.2 266.7h0.85M233.2 266.0h0.85M233.5 266.7h0.85M233.5 265.4h0.85M233.3 265.7h0.85M233.7 265.5h0.85M234.5 266.4h0.85M234.2 265.6h0.85M233.3 265.4h0.85M234.6 265.7h0.85M234.2 266.4h0.85M218.2 263.4h0.85M219.2 262.6h0.85M219.3 263.2h0.85M218.8 262.7h0.85M218.0 262.8h0.85M218.2 262.6h0.85M218.2 263.5h0.85M218.7 262.8h0.85M218.1 263.5h0.85M246.9 256.1h0.85M246.0 255.0h0.85M246.5 256.0h0.85M246.1 256.2h0.85M246.1 256.1h0.85M245.6 256.3h0.85M246.3 255.1h0.85M235.3 265.6h0.85M235.3 266.7h0.85M234.8 266.1h0.85M236.2 265.7h0.85M235.8 266.2h0.85M235.4 266.0h0.85M235.7 265.8h0.85M235.1 265.7h0.85M249.3 259.4h0.85M249.4 258.7h0.85M249.4 259.0h0.85M249.1 259.3h0.85M248.8 258.4h0.85M225.2 259.3h0.85M225.1 258.1h0.85M224.8 259.0h0.85M224.3 259.1h0.85M225.2 258.9h0.85M225.4 258.3h0.85M224.1 258.6h0.85M225.4 258.0h0.85M224.9 258.9h0.85M224.2 257.9h0.85M250.0 260.0h0.85M249.7 260.6h0.85M249.6 260.6h0.85M248.6 259.5h0.85M249.2 259.5h0.85M249.8 260.5h0.85M249.5 259.4h0.85M249.7 259.5h0.85M249.7 260.6h0.85M230.4 256.0h0.85M230.5 256.1h0.85M230.8 255.8h0.85M230.7 256.2h0.85M230.8 255.3h0.85M230.6 256.2h0.85M217.6 258.3h0.85M217.8 257.9h0.85M217.5 258.4h0.85M217.3 258.6h0.85M217.8 259.0h0.85M217.5 258.7h0.85M217.1 258.8h0.85M217.7 259.4h0.85M217.6 258.5h0.85M217.6 258.1h0.85M217.7 258.4h0.85M217.8 259.1h0.85M217.4 259.2h0.85M218.0 261.0h0.85M218.0 261.7h0.85M218.6 261.5h0.85M218.8 262.3h0.85M218.7 261.3h0.85M218.0 261.1h0.85M217.9 261.8h0.85M232.1 255.8h0.85M232.8 256.1h0.85M231.8 255.3h0.85M232.6 255.7h0.85M247.8 262.4h0.85M247.8 261.2h0.85M247.4 261.5h0.85M248.3 260.9h0.85M247.2 261.6h0.85M247.1 261.9h0.85M224.3 262.2h0.85M224.5 261.8h0.85M225.4 261.0h0.85M225.3 261.8h0.85M224.8 261.3h0.85M225.1 262.0h0.85M234.4 256.0h0.85M233.9 255.3h0.85M234.7 255.1h0.85M234.6 255.2h0.85M233.3 255.4h0.85M234.3 255.4h0.85M233.2 255.7h0.85M234.6 256.1h0.85M234.0 256.3h0.85M234.7 256.4h0.85M225.9 263.4h0.85M225.7 263.3h0.85M226.8 263.3h0.85M226.6 263.7h0.85M225.9 263.5h0.85M226.5 263.2h0.85M226.1 262.5h0.85M227.0 262.5h0.85M226.1 262.6h0.85M226.9 263.7h0.85M242.5 264.0h0.85M242.9 265.3h0.85M243.4 264.4h0.85M242.6 264.6h0.85M242.5 264.1h0.85M242.6 264.5h0.85M242.6 264.6h0.85M242.4 264.3h0.85M243.0 264.6h0.85M224.3 260.1h0.85M225.4 259.8h0.85M225.2 260.7h0.85M224.9 260.5h0.85M225.4 259.9h0.85M224.4 259.4h0.85M225.5 260.4h0.85M235.8 256.1h0.85M235.5 255.0h0.85M235.5 255.2h0.85M236.3 254.9h0.85M235.6 256.3h0.85M235.7 255.3h0.85M235.5 255.1h0.85M244.0 255.3h0.85M245.2 255.7h0.85M244.5 256.2h0.85M244.4 255.7h0.85M244.2 255.1h0.85M245.3 256.0h0.85M244.9 254.9h0.85M247.3 256.9h0.85M248.0 257.0h0.85M248.0 257.3h0.85M248.2 256.7h0.85M247.8 256.5h0.85M247.3 257.1h0.85M247.6 257.4h0.85M229.5 264.1h0.85M229.7 264.5h0.85M229.1 264.5h0.85M229.8 264.9h0.85M229.9 265.0h0.85M236.6 255.0h0.85M236.8 256.3h0.85M236.4 255.2h0.85M237.5 256.2h0.85M237.0 256.1h0.85M237.0 256.1h0.85M237.7 256.4h0.85M237.0 256.0h0.85M236.7 255.0h0.85M237.2 256.2h0.85M217.9 260.7h0.85M217.5 260.1h0.85M217.6 259.8h0.85M217.1 259.6h0.85M217.4 259.4h0.85M217.1 260.8h0.85M217.4 260.3h0.85M217.6 260.5h0.85M217.8 260.1h0.85M217.2 262.8h0.85M217.4 263.4h0.85M217.5 263.3h0.85M217.5 262.7h0.85M217.3 262.7h0.85M217.0 262.5h0.85M217.0 263.1h0.85M217.2 263.3h0.85M217.1 262.6h0.85M217.5 263.1h0.85M217.5 263.8h0.85M217.5 263.6h0.85M228.5 257.4h0.85M228.0 257.9h0.85M227.5 257.0h0.85M228.6 256.5h0.85M227.4 256.7h0.85M243.1 256.1h0.85M243.2 255.0h0.85M243.0 255.3h0.85M243.5 256.0h0.85M242.7 256.2h0.85M226.1 259.3h0.85M226.6 259.1h0.85M226.5 258.1h0.85M225.9 259.3h0.85M226.6 259.2h0.85M226.3 258.2h0.85M226.1 258.6h0.85M226.9 259.0h0.85M217.9 261.0h0.85M217.2 261.7h0.85M217.6 261.2h0.85M217.4 262.2h0.85M217.7 262.4h0.85M217.6 261.8h0.85M217.2 261.1h0.85M217.3 261.1h0.85M217.7 261.6h0.85M217.7 261.4h0.85M237.9 256.1h0.85M239.0 255.5h0.85M238.0 255.3h0.85M238.6 256.3h0.85M245.4 263.3h0.85M244.5 263.5h0.85M245.4 262.8h0.85M245.2 263.8h0.85M244.9 263.6h0.85M244.8 263.2h0.85M244.9 263.1h0.85M244.4 263.0h0.85M245.0 263.4h0.85M226.0 261.0h0.85M226.0 261.9h0.85M227.1 261.6h0.85M226.8 262.2h0.85M225.6 262.1h0.85M226.3 261.9h0.85M226.5 260.9h0.85M226.5 261.9h0.85M226.7 261.6h0.85M247.5 260.0h0.85M248.5 259.9h0.85M247.6 260.8h0.85M247.4 260.4h0.85M248.2 260.3h0.85M248.3 260.6h0.85M247.5 260.0h0.85M248.3 260.3h0.85M247.3 259.9h0.85M242.1 255.5h0.85M242.1 255.7h0.85M241.3 256.4h0.85M240.9 255.6h0.85M241.2 255.3h0.85M241.1 254.9h0.85" stroke="#1f6cff" stroke-width="0.85" fill="none"/><path d="M228.2 263.8h0.85M227.4 262.9h0.85M228.1 262.5h0.85M227.1 263.8h0.85M227.4 262.7h0.85M227.3 263.7h0.85M228.4 262.6h0.85M228.6 263.1h0.85M228.4 262.5h0.85M227.2 262.4h0.85M226.7 259.7h0.85M225.8 260.9h0.85M225.6 259.8h0.85M226.6 259.8h0.85M225.8 259.5h0.85M227.1 259.9h0.85M226.0 260.5h0.85M226.7 259.6h0.85M225.8 260.4h0.85M225.9 260.5h0.85M226.2 260.4h0.85M248.0 258.3h0.85M248.1 258.4h0.85M248.2 258.2h0.85M247.8 258.1h0.85M247.2 259.4h0.85M247.8 258.5h0.85M239.7 256.1h0.85M240.5 256.4h0.85M240.6 256.2h0.85M239.7 256.2h0.85M240.6 256.3h0.85M239.4 255.4h0.85M239.6 255.3h0.85M239.9 255.0h0.85M240.0 256.4h0.85M239.7 255.6h0.85M240.5 255.4h0.85M239.4 256.3h0.85M239.6 256.3h0.85M246.0 262.1h0.85M246.2 261.4h0.85M246.7 262.4h0.85M246.6 261.8h0.85M245.9 261.9h0.85M246.7 262.0h0.85M245.6 261.1h0.85M246.9 261.4h0.85M246.5 262.0h0.85M230.9 264.0h0.85M230.3 265.1h0.85M230.4 264.8h0.85M230.7 264.7h0.85M230.7 264.3h0.85M230.2 264.4h0.85M230.5 264.0h0.85M231.6 264.0h0.85M231.1 264.5h0.85M230.4 264.7h0.85M230.3 264.6h0.85M230.9 264.7h0.85M230.4 264.5h0.85M241.2 265.0h0.85M241.6 264.7h0.85M241.4 264.4h0.85M242.0 264.4h0.85M240.9 264.5h0.85M241.5 264.9h0.85M242.3 264.2h0.85M241.3 263.9h0.85M241.9 264.0h0.85M241.0 264.4h0.85M241.6 264.7h0.85M242.2 265.4h0.85M229.8 257.0h0.85M229.0 256.8h0.85M228.7 256.6h0.85M228.9 257.2h0.85M229.6 257.1h0.85M230.1 256.9h0.85M229.1 257.6h0.85M229.1 256.9h0.85M229.5 256.7h0.85M245.5 257.3h0.85M246.4 256.8h0.85M246.2 257.5h0.85M246.7 257.0h0.85M245.8 256.6h0.85M246.7 256.7h0.85M245.6 257.2h0.85M245.6 257.1h0.85M246.4 256.6h0.85M245.7 257.7h0.85M245.6 257.5h0.85M246.8 257.7h0.85M245.9 257.3h0.85M246.1 257.2h0.85M228.2 259.2h0.85M227.4 259.0h0.85M227.6 259.2h0.85M228.6 259.0h0.85M227.5 259.3h0.85M227.5 259.0h0.85M227.5 257.9h0.85M228.0 258.4h0.85M227.6 258.6h0.85M232.1 264.4h0.85M231.8 264.9h0.85M233.1 265.0h0.85M232.8 264.2h0.85M232.6 264.3h0.85M233.2 264.2h0.85M232.1 264.3h0.85M231.8 265.2h0.85M233.0 264.3h0.85M232.2 264.9h0.85M232.3 265.3h0.85M228.1 261.2h0.85M228.3 261.1h0.85M228.5 262.3h0.85M228.5 261.7h0.85M228.5 261.8h0.85M228.6 261.5h0.85M228.2 261.0h0.85M228.4 260.9h0.85M227.8 261.9h0.85M227.8 262.0h0.85M236.0 264.6h0.85M235.1 264.3h0.85M235.1 265.1h0.85M236.0 264.8h0.85M234.8 265.3h0.85M236.2 264.3h0.85M235.2 264.5h0.85M235.7 264.7h0.85M233.3 265.2h0.85M234.2 264.5h0.85M234.1 264.2h0.85M233.6 264.2h0.85M234.2 264.1h0.85M233.9 264.4h0.85M233.2 264.2h0.85M227.3 260.4h0.85M228.5 260.7h0.85M227.2 260.4h0.85M227.9 260.8h0.85M228.4 260.1h0.85M227.1 260.1h0.85M228.5 259.9h0.85M227.3 260.4h0.85M227.5 260.9h0.85M240.4 264.0h0.85M239.8 264.2h0.85M240.4 265.2h0.85M239.5 264.1h0.85M240.6 265.2h0.85M240.0 264.6h0.85M239.4 264.2h0.85M239.7 265.2h0.85M240.8 264.1h0.85M240.3 265.0h0.85M240.1 265.4h0.85M240.7 264.9h0.85M240.2 264.0h0.85M240.8 264.6h0.85M236.8 265.2h0.85M237.6 264.4h0.85M237.2 265.2h0.85M237.1 265.3h0.85M237.5 264.0h0.85M236.6 264.6h0.85M237.6 265.3h0.85M237.3 264.0h0.85M231.1 257.1h0.85M230.8 257.8h0.85M230.3 257.7h0.85M230.6 256.9h0.85M231.2 257.6h0.85M231.2 257.6h0.85M230.4 257.6h0.85M230.9 257.1h0.85M230.4 257.3h0.85M231.3 257.4h0.85M230.6 257.6h0.85M231.5 257.8h0.85M242.8 263.3h0.85M243.6 263.2h0.85M243.0 262.8h0.85M242.8 262.8h0.85M242.4 263.3h0.85M243.6 263.9h0.85M242.6 263.4h0.85M229.8 263.4h0.85M230.1 262.5h0.85M229.1 263.6h0.85M230.0 263.8h0.85M229.8 263.7h0.85M228.7 263.2h0.85M228.8 263.0h0.85M229.8 263.4h0.85M229.0 263.2h0.85M230.0 263.9h0.85M229.8 263.3h0.85M229.7 263.1h0.85M228.7 263.4h0.85M229.0 263.8h0.85M239.1 264.8h0.85M239.2 264.0h0.85M238.2 264.4h0.85M238.7 265.2h0.85M238.3 264.3h0.85M246.3 259.7h0.85M245.8 259.6h0.85M245.7 260.8h0.85M246.2 259.7h0.85M246.9 259.8h0.85M246.5 260.3h0.85M246.0 260.0h0.85M246.9 259.6h0.85M245.6 259.9h0.85M246.8 260.9h0.85M245.7 260.3h0.85M246.6 258.9h0.85M245.7 258.3h0.85M245.7 258.7h0.85M246.7 258.4h0.85M246.6 258.5h0.85M245.9 258.5h0.85M245.7 258.3h0.85M245.5 258.3h0.85M245.6 258.0h0.85M246.2 259.4h0.85M246.5 258.1h0.85M246.7 259.3h0.85M245.6 259.0h0.85M246.4 259.2h0.85M245.5 259.3h0.85M245.8 258.6h0.85M245.5 258.8h0.85M246.0 259.2h0.85M246.0 259.3h0.85M245.1 257.7h0.85M245.4 257.2h0.85M244.8 257.6h0.85M245.4 257.0h0.85M245.1 257.4h0.85M245.2 256.5h0.85M245.0 256.8h0.85M244.7 257.1h0.85M244.3 256.7h0.85M244.5 257.4h0.85M245.2 257.8h0.85M245.4 256.5h0.85M245.3 257.6h0.85M233.0 257.0h0.85M232.6 257.7h0.85M231.9 257.7h0.85M232.2 257.1h0.85M233.2 257.3h0.85M232.1 257.3h0.85M231.8 257.8h0.85M231.8 257.4h0.85M232.8 257.6h0.85M233.0 257.1h0.85M232.3 257.2h0.85M245.3 261.5h0.85M244.9 262.2h0.85M244.1 261.6h0.85M245.4 261.4h0.85M244.7 261.3h0.85M245.2 260.9h0.85M245.4 261.8h0.85M244.1 262.1h0.85M233.6 257.8h0.85M234.5 257.7h0.85M233.7 257.3h0.85M233.7 257.0h0.85M234.7 257.6h0.85M233.8 256.9h0.85M233.7 257.9h0.85M233.8 257.5h0.85M234.2 257.0h0.85M233.7 257.3h0.85M234.0 257.3h0.85M234.4 257.3h0.85M235.3 257.0h0.85M234.9 257.3h0.85M235.9 257.3h0.85M236.3 257.5h0.85M234.8 257.2h0.85M235.6 257.1h0.85M235.1 257.2h0.85M235.1 257.5h0.85M235.8 257.6h0.85M235.3 256.9h0.85M229.9 258.9h0.85M228.9 258.7h0.85M229.9 258.0h0.85M230.0 259.4h0.85M229.6 258.1h0.85M229.7 259.2h0.85M229.9 259.1h0.85M228.7 258.7h0.85M230.1 259.2h0.85M228.9 259.1h0.85M229.7 258.1h0.85M229.1 258.5h0.85M229.4 259.1h0.85M229.2 259.1h0.85M237.2 257.9h0.85M237.3 257.9h0.85M237.3 257.8h0.85M237.6 257.1h0.85M237.3 257.0h0.85M237.8 256.7h0.85M237.7 257.4h0.85M237.1 257.5h0.85" stroke="#0aa6f0" stroke-width="0.85" fill="none"/><path d="M230.0 261.2h0.85M229.0 261.6h0.85M230.0 261.8h0.85M229.2 261.9h0.85M229.1 262.1h0.85M229.8 261.9h0.85M228.7 262.1h0.85M229.9 262.2h0.85M230.1 262.3h0.85M228.9 262.0h0.85M228.8 261.6h0.85M229.0 259.7h0.85M228.8 259.5h0.85M229.1 260.4h0.85M228.7 259.6h0.85M229.3 260.4h0.85M229.3 260.1h0.85M229.2 260.5h0.85M230.0 260.2h0.85M230.0 260.7h0.85M243.5 256.7h0.85M242.6 257.7h0.85M242.7 257.4h0.85M243.4 257.3h0.85M243.4 256.5h0.85M243.5 257.0h0.85M243.7 256.7h0.85M243.1 257.1h0.85M243.2 256.7h0.85M243.0 257.5h0.85M243.3 257.7h0.85M243.4 257.1h0.85M243.2 257.4h0.85M242.9 257.3h0.85M242.4 256.6h0.85M230.9 263.1h0.85M230.9 262.8h0.85M231.2 262.5h0.85M230.7 263.7h0.85M230.3 262.6h0.85M230.8 262.9h0.85M230.9 262.8h0.85M230.6 263.3h0.85M231.1 263.8h0.85M230.7 263.7h0.85M230.5 263.2h0.85M230.7 262.6h0.85M231.6 263.2h0.85M231.6 263.3h0.85M230.5 262.9h0.85M230.4 263.9h0.85M231.6 263.5h0.85M230.3 263.0h0.85M238.3 256.7h0.85M239.0 257.2h0.85M238.8 256.5h0.85M238.9 257.0h0.85M238.0 256.9h0.85M238.2 257.7h0.85M238.4 257.4h0.85M238.1 257.2h0.85M238.1 257.3h0.85M238.4 256.8h0.85M238.5 256.5h0.85M239.0 257.3h0.85M238.0 256.6h0.85M238.3 256.5h0.85M241.2 262.5h0.85M242.0 263.3h0.85M241.0 262.6h0.85M241.9 263.0h0.85M240.9 263.7h0.85M242.2 262.5h0.85M241.3 262.5h0.85M241.6 262.6h0.85M242.2 262.9h0.85M241.9 262.9h0.85M242.3 263.3h0.85M241.3 263.4h0.85M241.4 262.6h0.85M241.8 263.0h0.85M241.0 263.1h0.85M245.1 260.4h0.85M245.2 260.2h0.85M245.0 260.0h0.85M245.2 259.5h0.85M245.3 260.0h0.85M245.0 260.2h0.85M245.2 260.4h0.85M244.8 260.5h0.85M244.9 260.5h0.85M244.5 259.8h0.85M244.2 260.0h0.85M244.0 259.8h0.85M244.1 260.3h0.85M245.3 260.8h0.85M244.7 260.5h0.85M245.0 258.8h0.85M245.2 257.9h0.85M244.8 258.2h0.85M244.0 258.5h0.85M245.4 257.9h0.85M245.4 258.9h0.85M244.9 258.8h0.85M230.6 259.2h0.85M231.3 258.1h0.85M231.4 259.3h0.85M230.9 258.6h0.85M230.7 258.6h0.85M231.4 258.6h0.85M230.5 258.7h0.85M230.9 259.4h0.85M231.1 259.3h0.85M231.6 258.5h0.85M230.4 258.0h0.85M231.7 258.5h0.85M231.3 259.0h0.85M231.7 258.9h0.85M230.8 258.3h0.85M230.6 259.1h0.85M230.4 258.2h0.85M230.4 259.0h0.85M232.3 262.7h0.85M232.2 263.9h0.85M232.9 262.4h0.85M232.5 262.9h0.85M232.3 263.7h0.85M232.9 262.9h0.85M231.8 262.6h0.85M232.8 262.7h0.85M232.6 263.8h0.85M232.1 263.1h0.85M232.3 262.7h0.85M232.1 263.1h0.85M233.1 263.0h0.85M231.8 263.5h0.85M232.0 263.4h0.85M232.5 263.5h0.85M233.1 263.0h0.85M232.2 263.9h0.85M242.0 257.4h0.85M242.0 257.6h0.85M242.3 257.9h0.85M240.9 256.8h0.85M241.5 257.3h0.85M241.7 257.1h0.85M241.8 257.7h0.85M242.0 257.7h0.85M242.0 256.9h0.85M242.0 256.7h0.85M242.1 256.4h0.85M241.4 257.8h0.85M241.5 256.7h0.85M241.8 257.2h0.85M241.4 257.0h0.85M241.4 256.6h0.85M241.1 256.9h0.85M243.4 261.0h0.85M242.9 262.3h0.85M243.8 261.4h0.85M242.5 261.2h0.85M242.7 261.0h0.85M242.8 261.2h0.85M242.7 262.3h0.85M243.3 261.5h0.85M242.9 261.5h0.85M243.8 262.3h0.85M243.0 261.3h0.85M243.4 262.2h0.85M243.6 262.3h0.85M242.6 262.3h0.85M243.2 261.2h0.85M243.4 261.5h0.85M243.8 261.7h0.85M233.4 262.7h0.85M234.4 262.4h0.85M234.2 262.8h0.85M233.6 262.6h0.85M234.3 263.3h0.85M233.6 263.9h0.85M234.3 262.5h0.85M234.3 263.2h0.85M233.8 263.6h0.85M234.2 262.7h0.85M234.1 263.6h0.85M233.8 263.9h0.85M234.3 262.9h0.85M240.5 256.6h0.85M239.9 257.8h0.85M240.0 257.0h0.85M240.0 256.9h0.85M240.7 257.2h0.85M240.1 256.5h0.85M240.7 257.1h0.85M240.3 257.8h0.85M240.3 256.4h0.85M240.5 257.4h0.85M240.2 256.7h0.85M240.4 257.7h0.85M240.0 257.9h0.85M240.2 256.5h0.85M240.8 257.5h0.85M240.5 257.7h0.85M240.1 256.6h0.85M235.2 262.8h0.85M235.8 263.0h0.85M235.8 263.8h0.85M236.2 263.5h0.85M234.9 262.6h0.85M236.1 263.4h0.85M235.1 262.7h0.85M236.0 263.6h0.85M235.5 263.7h0.85M235.4 262.5h0.85M235.7 262.7h0.85M235.0 263.5h0.85M230.6 261.6h0.85M231.6 261.5h0.85M231.3 261.1h0.85M230.5 261.8h0.85M230.7 261.2h0.85M231.5 261.2h0.85M230.7 262.0h0.85M230.4 261.9h0.85M231.1 261.8h0.85M231.2 262.2h0.85M231.5 261.3h0.85M232.3 257.9h0.85M231.9 258.4h0.85M232.1 259.4h0.85M231.7 258.3h0.85M233.1 259.4h0.85M232.7 258.1h0.85M231.9 259.4h0.85M231.8 258.5h0.85M232.7 259.2h0.85M233.1 258.3h0.85M232.4 258.4h0.85M232.1 258.8h0.85M232.4 258.2h0.85M231.7 258.4h0.85M233.1 258.5h0.85M232.2 258.4h0.85M231.1 259.4h0.85M230.9 259.8h0.85M231.1 260.1h0.85M230.2 259.8h0.85M230.5 260.1h0.85M231.4 260.9h0.85M230.5 259.9h0.85M231.4 260.4h0.85M230.2 260.4h0.85M231.3 259.4h0.85M231.4 260.1h0.85M230.2 260.8h0.85M230.6 260.2h0.85M231.3 260.3h0.85M230.5 260.3h0.85M230.3 260.4h0.85M237.1 263.9h0.85M236.8 263.3h0.85M237.1 263.1h0.85M236.6 262.7h0.85M237.5 263.0h0.85M237.4 262.9h0.85M237.3 263.1h0.85M236.4 263.1h0.85M236.9 262.8h0.85M236.6 262.9h0.85M237.5 262.9h0.85M237.4 263.7h0.85M237.6 262.6h0.85M236.9 262.9h0.85M237.3 263.2h0.85M236.6 262.9h0.85M240.6 262.7h0.85M239.8 263.6h0.85M240.4 263.9h0.85M239.5 262.9h0.85M240.5 263.5h0.85M240.8 263.1h0.85M240.6 262.5h0.85M240.2 263.7h0.85M240.0 262.9h0.85M240.7 263.0h0.85M240.4 263.2h0.85M239.4 262.9h0.85M240.7 263.0h0.85M240.2 262.4h0.85M240.3 263.7h0.85M240.2 262.9h0.85M234.4 259.2h0.85M233.9 258.3h0.85M233.5 259.1h0.85M234.6 258.1h0.85M234.1 259.3h0.85M234.2 259.4h0.85M234.4 259.3h0.85M234.0 258.9h0.85M233.4 258.5h0.85M233.4 259.2h0.85M234.3 258.9h0.85M233.8 258.3h0.85M234.0 259.2h0.85M242.8 259.1h0.85M242.5 259.1h0.85M243.1 258.9h0.85M243.2 258.3h0.85M243.0 258.1h0.85M242.6 258.4h0.85M243.3 258.9h0.85M243.9 258.5h0.85M242.6 258.2h0.85M243.2 258.2h0.85M243.5 258.3h0.85M243.7 258.0h0.85M243.1 258.6h0.85M243.5 258.7h0.85M243.4 258.1h0.85M242.6 259.1h0.85M239.2 263.7h0.85M239.0 262.5h0.85M238.2 263.3h0.85M238.1 263.0h0.85M239.3 263.9h0.85M238.0 263.0h0.85M239.0 262.9h0.85M238.6 263.7h0.85M239.1 263.7h0.85M239.3 263.9h0.85M238.5 263.6h0.85M238.8 262.7h0.85M239.1 263.1h0.85M237.9 263.1h0.85M238.1 262.9h0.85M238.9 262.9h0.85M238.9 262.8h0.85M238.2 263.7h0.85M235.2 258.2h0.85M235.1 258.5h0.85M235.0 259.1h0.85M235.5 258.1h0.85M235.9 258.4h0.85M235.2 258.8h0.85M234.8 258.5h0.85M235.6 259.2h0.85M235.2 258.4h0.85M234.9 258.7h0.85M235.2 259.0h0.85M235.4 258.3h0.85M235.3 258.9h0.85M235.3 259.2h0.85M236.1 259.1h0.85M235.9 258.9h0.85M232.4 262.2h0.85M232.3 262.2h0.85M232.8 261.8h0.85M232.7 261.4h0.85M233.0 261.7h0.85M232.8 262.3h0.85M232.8 261.4h0.85M232.1 262.1h0.85M231.9 261.2h0.85M232.6 261.5h0.85M232.4 261.2h0.85M232.0 261.9h0.85M242.7 260.0h0.85M242.7 259.7h0.85M242.7 259.7h0.85M242.4 259.9h0.85M242.9 260.2h0.85M243.6 260.3h0.85M243.1 259.7h0.85M242.7 259.7h0.85M243.7 260.4h0.85M243.7 259.5h0.85M243.7 260.4h0.85M243.8 260.6h0.85M242.9 259.6h0.85M243.4 260.4h0.85M243.2 260.1h0.85M243.8 259.7h0.85M242.5 260.5h0.85" stroke="#10c8b8" stroke-width="0.85" fill="none"/><path d="M233.1 260.0h0.85M232.3 260.4h0.85M232.2 260.9h0.85M232.7 260.0h0.85M232.5 259.5h0.85M231.9 260.4h0.85M233.1 259.9h0.85M232.4 259.9h0.85M232.0 259.8h0.85M231.8 260.1h0.85M232.6 259.4h0.85M231.7 259.7h0.85M232.8 259.6h0.85M231.8 259.7h0.85M231.8 259.8h0.85M234.5 262.0h0.85M234.2 262.0h0.85M233.8 261.5h0.85M234.0 261.9h0.85M234.0 262.1h0.85M234.1 261.0h0.85M233.6 261.8h0.85M233.9 261.3h0.85M233.3 261.6h0.85M234.6 261.0h0.85M234.1 262.2h0.85M233.8 261.0h0.85M234.7 261.4h0.85M233.8 261.5h0.85M233.3 261.5h0.85M240.9 261.4h0.85M241.2 262.3h0.85M242.3 262.3h0.85M241.3 261.8h0.85M241.5 262.2h0.85M242.2 261.7h0.85M241.8 261.9h0.85M241.1 261.8h0.85M241.5 261.9h0.85M241.0 261.8h0.85M241.0 261.9h0.85M241.4 262.3h0.85M237.3 258.1h0.85M236.4 259.1h0.85M236.5 258.8h0.85M236.5 258.8h0.85M237.3 258.1h0.85M236.6 258.4h0.85M237.0 258.4h0.85M236.5 259.3h0.85M237.0 258.0h0.85M236.5 258.4h0.85M237.7 258.9h0.85M237.0 258.8h0.85M236.6 258.3h0.85M234.6 260.3h0.85M233.2 259.8h0.85M234.2 259.5h0.85M233.3 259.6h0.85M234.1 260.5h0.85M234.5 259.6h0.85M233.5 259.9h0.85M233.4 260.6h0.85M234.1 259.8h0.85M234.7 259.9h0.85M234.2 260.8h0.85M233.7 260.6h0.85M233.5 259.6h0.85M233.6 260.0h0.85M233.6 260.3h0.85M234.3 259.5h0.85M235.8 261.6h0.85M236.1 261.7h0.85M235.4 261.0h0.85M235.2 261.1h0.85M234.8 261.2h0.85M235.7 262.0h0.85M235.9 261.6h0.85M235.6 261.6h0.85M236.1 262.1h0.85M235.4 261.2h0.85M235.9 261.8h0.85M235.3 261.7h0.85M235.2 262.1h0.85M242.4 258.0h0.85M241.9 258.6h0.85M241.7 258.2h0.85M241.1 258.4h0.85M242.0 258.5h0.85M241.3 259.1h0.85M242.3 258.9h0.85M241.3 258.6h0.85M242.3 258.8h0.85M242.0 258.8h0.85M241.4 258.1h0.85M241.2 259.2h0.85M241.6 258.0h0.85M241.3 259.1h0.85M241.2 257.9h0.85M241.8 258.7h0.85M240.9 258.5h0.85M242.3 258.2h0.85M238.2 259.4h0.85M238.6 259.0h0.85M239.3 258.4h0.85M238.8 258.7h0.85M238.2 258.6h0.85M238.6 258.1h0.85M238.3 259.4h0.85M239.2 258.9h0.85M238.7 259.4h0.85M238.6 258.7h0.85M239.1 258.3h0.85M238.5 258.7h0.85M238.7 259.1h0.85M237.9 258.5h0.85M235.6 260.3h0.85M234.8 260.6h0.85M234.9 259.6h0.85M235.7 260.7h0.85M234.8 260.0h0.85M235.2 260.0h0.85M235.1 259.7h0.85M236.1 260.5h0.85M234.8 259.5h0.85M234.8 259.6h0.85M236.1 260.8h0.85M235.1 259.8h0.85M235.2 260.0h0.85M235.8 260.8h0.85M235.7 259.9h0.85M235.1 259.5h0.85M234.9 260.6h0.85M235.7 260.6h0.85M236.1 259.5h0.85M241.8 260.3h0.85M241.1 260.5h0.85M242.3 260.9h0.85M241.4 259.7h0.85M242.2 259.7h0.85M241.1 260.5h0.85M241.7 259.9h0.85M242.3 259.7h0.85M242.3 260.0h0.85M241.4 260.1h0.85M241.8 260.6h0.85M242.2 259.6h0.85M241.4 260.4h0.85M242.2 260.6h0.85M241.7 260.4h0.85M240.6 258.2h0.85M240.7 259.0h0.85M240.5 259.3h0.85M240.3 259.3h0.85M239.5 259.0h0.85M240.1 258.6h0.85M239.6 259.0h0.85M240.4 258.0h0.85M239.9 258.5h0.85M240.7 259.0h0.85M239.7 259.4h0.85M240.8 258.5h0.85M240.2 258.2h0.85M240.5 258.5h0.85M239.9 258.9h0.85M240.3 259.1h0.85M240.1 258.0h0.85M236.7 261.3h0.85M237.0 261.5h0.85M237.5 261.8h0.85M236.5 261.9h0.85M236.4 261.2h0.85M237.0 262.0h0.85M236.6 262.4h0.85M237.0 261.8h0.85M236.3 262.1h0.85M237.7 262.2h0.85M237.4 261.2h0.85M237.4 260.9h0.85M236.6 261.5h0.85M236.9 261.6h0.85M239.9 261.9h0.85M240.5 262.3h0.85M239.6 262.2h0.85M239.4 262.0h0.85M240.0 262.4h0.85M239.9 261.1h0.85M239.8 261.8h0.85M240.5 261.9h0.85M240.3 262.3h0.85M239.6 262.3h0.85M239.8 262.0h0.85M240.5 262.1h0.85M240.6 261.6h0.85M240.4 262.3h0.85M239.3 261.9h0.85M236.7 260.2h0.85M237.6 260.9h0.85M237.7 259.9h0.85M236.4 259.6h0.85M236.4 260.2h0.85M237.1 260.3h0.85M236.6 260.7h0.85M237.3 260.3h0.85M236.7 259.5h0.85M237.7 259.6h0.85M237.6 260.6h0.85M236.8 260.1h0.85M237.3 260.2h0.85M237.6 259.7h0.85M236.3 260.5h0.85M237.3 260.2h0.85M237.4 259.4h0.85M236.9 260.5h0.85M238.3 262.3h0.85M238.0 262.3h0.85M238.5 262.3h0.85M239.1 261.2h0.85M238.3 261.4h0.85M238.0 261.5h0.85M239.0 261.9h0.85M239.0 262.0h0.85M237.9 261.7h0.85M238.2 261.7h0.85M238.8 261.1h0.85M238.5 262.0h0.85M238.4 261.0h0.85M238.8 261.7h0.85M238.3 261.7h0.85M238.4 261.8h0.85M238.0 262.1h0.85M238.4 261.0h0.85M238.3 262.1h0.85M238.9 262.1h0.85M238.7 262.0h0.85M240.3 260.1h0.85M240.3 260.1h0.85M240.1 259.8h0.85M240.6 260.3h0.85M240.7 260.1h0.85M239.4 260.4h0.85M240.3 259.7h0.85M239.9 260.6h0.85M239.7 260.9h0.85M240.3 259.7h0.85M240.1 260.3h0.85M239.7 260.6h0.85M240.6 260.6h0.85M240.3 260.7h0.85M239.8 260.6h0.85M238.4 259.9h0.85M238.5 259.9h0.85M238.0 260.1h0.85M238.8 259.8h0.85M239.2 260.1h0.85M238.9 260.9h0.85M238.4 260.4h0.85M238.7 259.8h0.85M239.1 259.7h0.85M238.1 259.9h0.85M238.0 260.0h0.85M238.7 259.8h0.85M238.4 260.7h0.85M238.1 260.3h0.85M238.4 259.4h0.85M238.8 259.8h0.85M238.4 259.9h0.85M238.5 259.6h0.85M238.7 260.0h0.85M238.4 259.7h0.85M238.4 259.8h0.85M237.9 259.8h0.85M238.3 260.3h0.85M238.4 259.9h0.85M238.2 259.9h0.85M238.3 260.2h0.85" stroke="#22cc5a" stroke-width="0.85" fill="none"/>
<path d="M92.2 338.3h0.85M56.0 369.8h0.85M86.2 352.6h0.85M70.9 320.9h0.85M80.6 328.2h0.85M49.1 375.5h0.85M83.8 345.4h0.85M81.8 335.0h0.85M77.4 354.7h0.85M52.4 326.2h0.85M87.8 319.6h0.85M90.2 320.9h0.85M56.2 328.5h0.85M72.3 325.6h0.85M82.1 342.3h0.85M68.7 359.3h0.85M58.7 326.7h0.85M77.5 334.0h0.85M74.1 356.0h0.85M52.5 329.8h0.85M48.8 366.9h0.85M66.0 362.9h0.85M76.5 328.8h0.85M80.7 338.0h0.85M60.8 327.9h0.85M74.2 327.1h0.85M80.0 344.5h0.85M62.2 330.0h0.85M47.3 367.9h0.85M74.4 329.2h0.85M63.2 363.0h0.85M72.3 355.5h0.85M71.6 354.5h0.85M47.3 329.3h0.85M76.5 336.2h0.85M71.0 328.2h0.85M49.4 331.5h0.85M73.8 332.9h0.85M64.4 361.2h0.85M60.7 360.6h0.85M60.6 360.5h0.85M75.4 350.0h0.85M66.1 331.7h0.85M54.9 332.4h0.85M68.9 330.3h0.85M48.1 362.1h0.85M77.9 338.8h0.85M56.3 333.4h0.85M56.1 332.8h0.85M70.2 330.3h0.85M70.0 330.3h0.85M47.3 333.3h0.85M71.3 330.8h0.85M72.3 331.9h0.85M68.4 330.6h0.85M65.4 358.0h0.85M66.3 358.2h0.85M78.4 343.4h0.85M71.4 334.1h0.85M47.4 334.3h0.85M76.3 347.7h0.85M50.5 334.6h0.85M50.8 334.7h0.85M59.5 332.5h0.85M51.7 334.1h0.85M52.5 334.6h0.85M77.5 339.9h0.85M75.5 336.7h0.85M64.2 359.0h0.85M63.7 358.3h0.85M77.3 341.8h0.85M78.6 341.6h0.85M60.4 333.2h0.85M49.1 336.3h0.85M66.1 357.3h0.85M67.2 333.1h0.85M69.7 352.4h0.85M63.0 332.3h0.85M70.1 334.6h0.85M68.9 353.5h0.85M71.2 350.0h0.85M76.4 340.5h0.85M74.8 339.0h0.85M76.0 341.8h0.85M76.8 341.1h0.85M51.5 336.2h0.85M48.1 360.8h0.85M56.4 360.4h0.85M72.9 336.6h0.85M75.4 342.8h0.85M47.8 337.7h0.85M74.5 345.1h0.85M75.4 340.6h0.85M68.1 334.0h0.85M69.3 333.9h0.85M75.2 342.3h0.85M74.3 348.0h0.85M74.7 348.1h0.85M75.3 347.9h0.85M75.0 347.0h0.85M61.5 357.6h0.85M50.8 337.7h0.85M74.1 345.5h0.85M54.6 359.5h0.85M51.2 359.4h0.85M54.8 335.8h0.85M60.0 334.0h0.85M60.0 334.4h0.85M47.9 360.6h0.85M47.3 361.3h0.85" stroke="#8c96ff" stroke-width="0.85" fill="none"/><path d="M65.2 354.6h0.85M69.3 351.6h0.85M68.9 351.6h0.85M73.1 338.0h0.85M73.0 339.2h0.85M51.9 337.7h0.85M57.1 335.1h0.85M59.6 358.5h0.85M67.5 333.7h0.85M66.8 353.8h0.85M66.7 353.5h0.85M72.4 337.0h0.85M72.9 342.0h0.85M47.9 338.3h0.85M47.5 339.1h0.85M72.2 349.5h0.85M71.3 349.1h0.85M48.6 338.7h0.85M49.4 339.4h0.85M62.0 334.9h0.85M62.5 334.7h0.85M73.9 347.0h0.85M73.3 344.0h0.85M66.0 334.9h0.85M48.5 360.0h0.85M58.3 336.3h0.85M57.9 336.4h0.85M58.1 335.1h0.85M64.5 333.6h0.85M53.0 337.3h0.85M73.7 346.4h0.85M69.8 337.3h0.85M69.5 337.2h0.85M70.0 337.3h0.85M70.2 337.9h0.85M69.8 349.4h0.85M69.4 348.6h0.85M71.2 337.9h0.85M71.5 338.9h0.85M47.4 359.1h0.85M47.9 359.3h0.85M54.5 336.7h0.85M55.3 337.0h0.85M60.2 356.4h0.85M61.5 357.3h0.85M60.5 356.2h0.85M52.0 339.4h0.85M51.9 338.7h0.85M47.4 340.9h0.85M56.2 358.8h0.85M56.4 358.7h0.85M71.5 347.0h0.85M71.2 348.0h0.85M71.7 347.3h0.85M66.3 353.2h0.85M49.1 340.5h0.85M71.9 340.2h0.85M67.7 335.9h0.85M55.8 337.7h0.85M51.6 358.7h0.85M51.8 358.5h0.85M49.8 358.1h0.85M50.5 358.9h0.85M61.3 335.5h0.85M54.6 358.1h0.85M71.6 341.0h0.85M52.9 357.7h0.85M53.5 358.7h0.85M53.9 358.9h0.85M52.7 358.9h0.85M71.2 345.7h0.85M72.3 345.8h0.85M71.6 345.7h0.85M67.9 337.9h0.85M63.2 355.5h0.85M71.1 343.1h0.85M72.1 343.5h0.85M72.0 344.9h0.85M72.4 344.8h0.85M49.9 340.4h0.85M49.7 340.3h0.85M59.9 356.7h0.85M59.4 356.5h0.85M69.9 339.1h0.85M70.4 338.6h0.85M70.4 338.5h0.85M49.2 357.7h0.85M49.1 358.0h0.85M68.8 349.9h0.85M53.5 338.5h0.85M53.2 338.0h0.85M53.9 339.1h0.85M69.7 348.1h0.85M69.5 348.1h0.85M63.3 336.1h0.85M65.0 335.6h0.85M65.2 335.5h0.85M65.5 336.4h0.85M47.0 357.6h0.85M47.9 358.1h0.85M63.8 335.4h0.85M64.0 335.0h0.85M63.7 335.3h0.85M47.4 342.2h0.85M67.9 350.9h0.85M66.9 350.0h0.85M66.5 350.4h0.85M63.4 353.1h0.85M63.5 353.4h0.85M63.8 353.4h0.85M58.2 357.1h0.85M57.7 356.1h0.85M58.5 356.7h0.85M65.8 351.8h0.85M65.4 351.6h0.85M65.5 352.7h0.85M58.9 336.8h0.85M59.1 337.2h0.85M60.1 336.5h0.85M59.1 336.9h0.85M59.1 337.9h0.85M52.3 340.1h0.85M55.5 338.2h0.85M54.8 339.3h0.85M55.5 338.4h0.85M55.4 338.7h0.85M49.2 341.8h0.85M48.7 341.0h0.85M48.2 341.2h0.85M48.4 341.6h0.85M69.9 339.6h0.85M70.7 340.3h0.85M70.2 340.1h0.85M70.0 346.2h0.85M69.6 345.5h0.85M70.8 345.9h0.85M67.8 337.2h0.85M67.1 337.4h0.85M67.8 337.9h0.85M61.2 355.7h0.85M61.2 355.2h0.85M56.9 356.4h0.85M56.5 356.0h0.85M68.6 348.3h0.85M67.9 347.4h0.85" stroke="#5a6cff" stroke-width="0.85" fill="none"/><path d="M61.6 337.0h0.85M60.5 336.9h0.85M61.6 336.8h0.85M60.9 337.9h0.85M57.0 338.7h0.85M57.1 338.8h0.85M50.3 356.5h0.85M49.8 357.2h0.85M70.0 344.0h0.85M69.8 341.8h0.85M69.7 341.7h0.85M70.5 341.1h0.85M70.3 341.9h0.85M49.7 342.2h0.85M55.1 356.9h0.85M55.6 357.1h0.85M55.6 357.0h0.85M54.1 356.8h0.85M55.0 356.5h0.85M54.8 356.9h0.85M55.1 356.8h0.85M67.4 348.5h0.85M67.1 349.0h0.85M62.8 353.6h0.85M63.1 353.2h0.85M62.1 353.9h0.85M62.7 353.8h0.85M61.9 353.9h0.85M52.7 357.4h0.85M48.1 356.3h0.85M48.5 356.0h0.85M49.2 357.0h0.85M49.4 357.4h0.85M70.2 342.6h0.85M70.1 342.6h0.85M70.0 343.5h0.85M52.7 340.5h0.85M63.1 337.8h0.85M62.9 336.7h0.85M62.3 337.6h0.85M65.3 336.6h0.85M66.3 337.0h0.85M65.4 336.6h0.85M66.2 337.9h0.85M66.2 336.7h0.85M66.2 337.5h0.85M66.1 336.7h0.85M47.4 343.2h0.85M47.5 342.9h0.85M47.1 343.5h0.85M58.0 338.9h0.85M57.3 338.6h0.85M59.0 355.1h0.85M59.2 355.6h0.85M63.3 352.6h0.85M64.4 351.6h0.85M64.1 351.5h0.85M64.3 351.6h0.85M64.8 352.3h0.85M65.9 350.2h0.85M65.5 351.3h0.85M47.6 356.2h0.85M47.2 356.4h0.85M47.2 356.6h0.85M63.4 337.2h0.85M64.4 337.0h0.85M63.7 336.5h0.85M66.4 339.1h0.85M66.9 339.3h0.85M68.4 340.3h0.85M69.3 340.5h0.85M68.2 339.9h0.85M69.4 340.0h0.85M68.0 339.8h0.85M67.9 345.5h0.85M69.3 346.2h0.85M48.6 342.9h0.85M47.9 343.9h0.85M48.7 343.5h0.85M49.2 342.7h0.85M59.4 338.9h0.85M58.8 338.3h0.85M57.8 355.7h0.85M57.2 354.7h0.85M57.2 354.8h0.85M58.3 354.8h0.85M51.3 342.4h0.85M51.9 341.7h0.85M51.7 341.3h0.85M51.8 341.3h0.85M51.9 341.5h0.85M66.6 347.6h0.85M67.1 348.1h0.85M66.7 347.2h0.85M54.6 339.5h0.85M60.8 353.1h0.85M61.4 353.4h0.85M61.6 353.6h0.85M61.2 338.7h0.85M61.3 338.9h0.85M61.6 339.0h0.85M56.1 355.2h0.85M56.2 354.6h0.85M50.2 343.4h0.85M50.4 343.3h0.85M51.0 342.9h0.85M50.4 342.8h0.85M50.8 343.6h0.85M68.4 344.7h0.85M68.0 345.3h0.85M68.7 344.2h0.85M68.3 344.7h0.85M69.1 344.3h0.85M69.2 344.3h0.85M68.7 341.8h0.85M68.7 341.6h0.85M68.9 342.2h0.85M69.1 341.0h0.85M65.0 338.7h0.85M65.7 338.7h0.85M65.1 339.1h0.85M65.0 338.1h0.85M66.1 338.1h0.85M65.0 338.0h0.85M47.0 344.3h0.85M47.5 344.8h0.85M47.4 344.6h0.85M47.4 345.4h0.85M47.9 345.1h0.85M50.3 354.9h0.85M50.5 354.5h0.85M50.5 355.3h0.85M50.0 355.1h0.85M65.2 348.7h0.85M66.2 349.7h0.85M66.1 348.5h0.85M64.9 349.7h0.85M64.9 349.1h0.85M66.0 349.5h0.85M64.8 348.5h0.85M63.2 352.9h0.85M62.2 352.2h0.85M52.0 355.9h0.85M51.8 355.2h0.85M51.6 355.0h0.85M51.3 355.2h0.85M51.9 355.8h0.85M52.5 355.4h0.85M67.3 340.4h0.85M67.7 340.1h0.85M68.0 343.1h0.85M69.0 342.6h0.85M68.9 342.9h0.85M68.6 343.6h0.85M68.0 342.6h0.85M68.6 343.7h0.85M69.2 342.8h0.85M68.9 342.6h0.85M69.3 343.6h0.85M63.9 350.5h0.85M64.5 351.2h0.85M63.5 350.3h0.85M63.7 350.0h0.85M62.5 338.7h0.85M62.7 338.4h0.85M62.6 338.4h0.85M62.9 338.3h0.85M62.4 339.3h0.85M61.8 339.3h0.85M55.6 355.3h0.85M54.8 354.6h0.85M48.0 355.5h0.85M48.2 355.2h0.85M48.2 355.0h0.85M64.6 338.2h0.85M63.3 338.7h0.85M64.0 338.4h0.85M63.4 339.3h0.85M55.9 339.5h0.85M55.7 339.6h0.85M56.6 340.9h0.85M56.4 339.8h0.85M55.6 339.8h0.85M56.2 340.5h0.85M53.1 354.6h0.85M53.0 355.6h0.85M52.7 355.9h0.85M53.8 355.0h0.85M53.8 355.0h0.85M53.3 355.6h0.85M53.8 354.5h0.85M48.6 345.1h0.85M49.2 345.0h0.85M53.5 341.9h0.85M53.1 342.3h0.85M53.5 341.1h0.85M53.1 341.4h0.85M67.6 345.7h0.85M67.4 346.9h0.85M67.6 346.5h0.85M66.7 346.0h0.85M58.9 353.0h0.85M59.3 353.4h0.85M59.9 353.3h0.85M59.5 353.2h0.85M59.0 353.0h0.85M60.0 353.0h0.85M58.9 353.6h0.85M47.8 355.9h0.85M47.1 355.0h0.85M47.6 355.7h0.85M47.7 355.8h0.85M57.3 339.5h0.85M57.1 340.3h0.85M57.5 340.6h0.85M57.9 339.7h0.85M52.2 343.8h0.85M51.0 343.8h0.85M52.1 342.5h0.85M51.9 343.6h0.85M51.3 343.2h0.85M58.9 340.5h0.85M59.7 340.0h0.85M60.0 340.8h0.85M58.9 339.5h0.85M59.7 340.2h0.85" stroke="#2c48ff" stroke-width="0.85" fill="none"/><path d="M66.5 341.6h0.85M66.8 341.9h0.85M67.8 341.1h0.85M67.3 342.2h0.85M67.3 342.3h0.85M67.2 342.1h0.85M66.4 341.5h0.85M67.5 342.4h0.85M65.4 340.1h0.85M64.9 339.8h0.85M65.0 339.8h0.85M65.5 340.7h0.85M65.3 339.9h0.85M65.6 339.7h0.85M65.7 339.7h0.85M64.9 339.6h0.85M65.7 339.9h0.85M66.2 347.5h0.85M65.5 348.1h0.85M64.8 347.5h0.85M65.7 348.4h0.85M65.9 347.1h0.85M66.2 347.0h0.85M65.2 347.9h0.85M65.3 347.7h0.85M49.9 344.8h0.85M49.9 345.3h0.85M50.5 345.0h0.85M50.5 344.2h0.85M50.3 345.0h0.85M49.9 344.0h0.85M57.9 353.0h0.85M57.5 353.9h0.85M57.2 353.6h0.85M57.6 353.4h0.85M58.3 353.7h0.85M58.2 353.3h0.85M58.1 353.9h0.85M67.1 344.2h0.85M67.1 344.5h0.85M66.4 345.2h0.85M67.1 344.6h0.85M67.6 344.0h0.85M67.1 344.2h0.85M66.4 344.9h0.85M47.5 346.9h0.85M47.6 346.0h0.85M47.1 346.9h0.85M47.4 346.9h0.85M47.1 346.5h0.85M64.7 349.9h0.85M64.4 348.6h0.85M64.5 348.9h0.85M63.4 348.8h0.85M64.5 349.1h0.85M64.6 349.9h0.85M64.2 349.6h0.85M67.1 342.9h0.85M67.8 342.8h0.85M66.8 343.3h0.85M67.8 343.9h0.85M66.4 343.7h0.85M55.0 341.0h0.85M54.4 341.5h0.85M55.1 342.3h0.85M54.5 341.2h0.85M54.5 342.1h0.85M60.7 339.6h0.85M60.9 340.4h0.85M60.5 340.0h0.85M61.6 340.3h0.85M61.4 340.4h0.85M61.4 339.5h0.85M60.2 352.3h0.85M61.0 352.4h0.85M60.9 352.6h0.85M60.4 352.6h0.85M60.3 352.8h0.85M60.6 351.6h0.85M60.5 351.9h0.85M49.5 354.0h0.85M51.0 354.2h0.85M50.6 354.1h0.85M50.8 354.0h0.85M50.6 353.3h0.85M48.1 353.2h0.85M48.9 354.3h0.85M47.9 353.8h0.85M48.2 353.7h0.85M49.4 353.2h0.85M48.9 354.3h0.85M48.1 353.4h0.85M48.0 354.3h0.85M49.4 346.0h0.85M49.2 345.7h0.85M48.1 346.6h0.85M48.1 346.4h0.85M48.8 345.9h0.85M56.2 353.4h0.85M56.9 353.0h0.85M56.2 353.8h0.85M55.8 354.3h0.85M56.8 353.3h0.85M55.8 354.2h0.85M56.7 353.9h0.85M63.3 339.5h0.85M64.4 339.7h0.85M63.7 339.9h0.85M62.9 350.4h0.85M62.9 350.7h0.85M62.0 340.3h0.85M63.1 339.8h0.85M62.0 340.2h0.85M61.8 340.2h0.85M62.3 340.0h0.85M62.1 340.2h0.85M61.9 340.8h0.85M62.5 340.2h0.85M47.9 354.4h0.85M47.9 353.9h0.85M47.4 353.2h0.85M47.8 353.9h0.85M47.7 353.9h0.85M47.4 354.4h0.85M47.4 353.5h0.85M47.4 353.3h0.85M47.7 354.3h0.85M47.4 354.0h0.85M47.5 353.2h0.85M47.3 354.0h0.85M47.7 354.4h0.85M47.1 354.0h0.85M51.1 353.0h0.85M51.4 353.6h0.85M52.5 353.2h0.85M51.2 353.2h0.85M52.1 354.4h0.85M52.0 353.0h0.85M64.9 346.5h0.85M65.2 346.3h0.85M65.5 346.3h0.85M65.1 346.5h0.85M65.4 345.5h0.85M65.8 346.7h0.85M65.8 345.6h0.85M54.1 353.9h0.85M54.3 353.3h0.85M54.6 353.7h0.85M54.3 353.4h0.85M55.6 353.3h0.85M54.3 354.4h0.85M54.9 353.9h0.85M54.8 354.5h0.85M54.3 353.0h0.85M52.7 342.9h0.85M53.6 343.9h0.85M53.6 343.3h0.85M53.7 343.2h0.85M53.0 343.6h0.85M52.8 343.8h0.85M52.8 342.5h0.85M52.7 342.7h0.85M53.7 343.0h0.85M53.3 343.0h0.85M53.2 342.9h0.85M53.2 343.5h0.85M53.0 354.0h0.85M53.8 354.1h0.85M53.5 353.0h0.85M53.9 353.4h0.85M53.3 353.7h0.85M52.7 353.4h0.85M52.6 354.4h0.85M66.2 342.3h0.85M65.3 341.6h0.85M65.0 342.0h0.85M65.7 342.1h0.85M65.0 341.1h0.85M65.2 341.0h0.85M65.5 341.2h0.85M65.5 342.0h0.85M65.9 341.9h0.85M65.0 341.9h0.85M66.2 341.2h0.85M56.9 342.2h0.85M56.0 341.7h0.85M56.6 342.3h0.85M56.1 342.3h0.85M56.5 341.5h0.85M56.8 341.8h0.85M55.7 341.0h0.85M56.9 341.5h0.85M56.8 342.2h0.85M56.5 341.5h0.85M57.1 342.2h0.85M52.4 345.3h0.85M51.8 344.9h0.85M47.2 352.0h0.85M47.4 352.9h0.85M47.7 352.7h0.85M47.3 351.9h0.85M47.3 351.6h0.85M47.0 351.8h0.85M47.9 347.4h0.85M47.4 347.1h0.85M47.3 348.4h0.85M47.3 347.3h0.85M47.1 348.4h0.85M47.3 347.0h0.85M47.6 348.3h0.85M47.5 348.4h0.85M47.1 347.2h0.85M47.2 347.6h0.85M48.1 352.1h0.85M48.8 352.5h0.85M48.2 352.3h0.85M48.1 352.4h0.85M48.1 352.1h0.85M48.5 352.7h0.85M51.0 346.9h0.85M49.9 346.8h0.85M49.6 346.6h0.85M50.1 346.5h0.85M50.9 346.7h0.85M49.6 345.5h0.85M49.7 345.6h0.85M49.6 345.6h0.85M50.2 345.7h0.85M47.8 351.4h0.85M47.4 351.1h0.85M47.9 351.3h0.85M47.3 351.1h0.85M47.5 350.9h0.85M57.8 342.3h0.85M57.3 341.8h0.85M57.3 342.3h0.85M57.8 342.0h0.85M58.0 342.4h0.85M57.7 341.8h0.85M58.4 341.9h0.85M58.1 342.4h0.85M57.2 342.1h0.85M58.1 341.2h0.85M63.6 347.3h0.85M64.3 347.5h0.85M63.3 347.8h0.85M64.3 347.5h0.85M63.4 347.4h0.85M48.2 347.5h0.85M48.0 347.4h0.85M48.0 347.1h0.85M48.9 347.4h0.85M49.0 348.1h0.85M49.2 347.8h0.85M48.4 347.9h0.85M48.5 348.4h0.85M48.0 348.2h0.85M47.7 349.1h0.85M47.2 349.9h0.85M47.1 349.2h0.85M47.8 349.3h0.85M47.6 348.8h0.85M47.6 348.8h0.85M47.8 349.2h0.85M47.3 349.8h0.85M47.5 348.7h0.85M66.2 344.5h0.85M65.0 344.3h0.85M66.2 344.7h0.85M65.6 344.8h0.85M65.1 345.0h0.85M64.9 344.4h0.85M65.2 345.3h0.85M65.9 344.7h0.85M66.0 344.5h0.85M65.3 345.4h0.85M59.3 351.7h0.85M58.9 351.6h0.85M59.5 351.5h0.85M59.2 352.8h0.85M60.0 351.9h0.85M59.5 351.6h0.85M66.1 342.9h0.85M65.1 343.1h0.85M65.3 343.8h0.85M65.2 342.5h0.85M65.6 343.0h0.85M50.2 352.8h0.85M50.6 352.5h0.85M50.0 352.7h0.85M50.9 351.9h0.85M50.2 351.8h0.85M50.9 352.7h0.85M50.7 352.9h0.85M50.6 352.4h0.85M48.9 350.9h0.85M49.1 350.3h0.85M48.2 350.3h0.85M48.0 351.2h0.85M48.1 350.8h0.85M48.0 351.0h0.85M47.9 351.2h0.85M58.8 341.4h0.85M58.8 341.2h0.85M59.7 341.3h0.85M58.8 342.0h0.85M59.7 342.0h0.85M60.2 341.5h0.85M59.7 342.0h0.85M60.1 341.4h0.85M48.5 348.9h0.85M49.3 349.1h0.85M48.9 349.5h0.85M49.0 349.9h0.85M48.5 348.8h0.85M49.4 349.5h0.85M49.0 349.9h0.85M48.0 349.4h0.85M48.7 349.9h0.85M64.4 341.3h0.85M63.3 341.3h0.85M63.8 342.3h0.85M64.1 341.5h0.85M64.0 342.3h0.85M63.5 342.3h0.85M64.4 342.3h0.85M55.5 343.4h0.85M54.8 343.2h0.85M55.4 343.5h0.85M54.5 343.6h0.85M54.5 343.0h0.85M54.3 342.7h0.85M54.1 343.3h0.85M55.1 343.5h0.85M55.0 343.7h0.85M54.7 342.7h0.85M63.1 348.9h0.85M63.1 349.3h0.85M62.6 348.5h0.85M63.1 349.5h0.85M63.1 349.6h0.85M63.0 348.8h0.85M61.9 349.0h0.85M57.4 352.9h0.85M57.6 352.0h0.85M58.2 352.4h0.85M49.9 347.7h0.85M50.5 347.8h0.85M50.8 347.5h0.85M50.7 347.8h0.85M50.4 348.1h0.85M50.7 347.0h0.85M50.5 347.5h0.85" stroke="#1f6cff" stroke-width="0.85" fill="none"/><path d="M60.9 342.3h0.85M60.4 342.2h0.85M61.5 342.2h0.85M60.8 342.0h0.85M61.4 341.9h0.85M61.0 341.7h0.85M61.5 341.6h0.85M51.1 351.6h0.85M51.5 352.2h0.85M52.2 351.8h0.85M51.0 351.8h0.85M52.2 352.1h0.85M51.6 351.8h0.85M51.8 352.3h0.85M51.9 352.6h0.85M52.6 344.0h0.85M53.1 344.4h0.85M53.0 344.6h0.85M53.6 345.4h0.85M54.0 344.2h0.85M53.9 345.3h0.85M52.6 345.3h0.85M50.9 350.0h0.85M50.6 350.3h0.85M50.6 350.6h0.85M50.2 351.5h0.85M50.8 350.4h0.85M50.6 350.0h0.85M50.8 351.0h0.85M50.3 350.3h0.85M50.5 350.5h0.85M50.1 350.5h0.85M49.6 351.4h0.85M50.9 351.2h0.85M50.4 350.7h0.85M52.0 346.3h0.85M51.8 345.7h0.85M52.1 345.8h0.85M52.3 345.6h0.85M51.6 345.7h0.85M51.5 345.5h0.85M52.5 346.7h0.85M51.7 346.7h0.85M51.7 346.6h0.85M51.4 345.7h0.85M52.4 345.6h0.85M51.8 346.3h0.85M51.2 345.8h0.85M62.2 341.6h0.85M61.8 341.3h0.85M62.5 341.8h0.85M62.9 342.1h0.85M62.1 341.7h0.85M61.9 341.1h0.85M62.3 341.4h0.85M62.1 341.5h0.85M62.3 342.3h0.85M63.1 342.4h0.85M63.1 341.1h0.85M62.3 341.0h0.85M62.0 341.7h0.85M62.5 342.3h0.85M63.9 346.4h0.85M63.8 345.7h0.85M64.6 346.3h0.85M64.2 345.6h0.85M64.4 346.5h0.85M63.8 346.3h0.85M64.7 345.8h0.85M63.8 346.7h0.85M63.7 346.6h0.85M63.3 345.8h0.85M63.9 346.5h0.85M64.3 346.1h0.85M60.8 351.0h0.85M60.8 350.8h0.85M60.8 350.7h0.85M60.4 351.5h0.85M60.2 350.7h0.85M61.7 351.4h0.85M61.5 351.1h0.85M56.6 352.1h0.85M56.1 351.7h0.85M56.6 352.9h0.85M55.6 351.5h0.85M56.4 352.8h0.85M56.0 351.7h0.85M56.5 352.7h0.85M57.1 352.9h0.85M55.8 351.7h0.85M55.9 352.5h0.85M50.1 348.6h0.85M50.6 349.6h0.85M50.3 349.2h0.85M50.2 348.7h0.85M50.9 349.2h0.85M50.6 349.8h0.85M53.9 352.2h0.85M54.0 351.8h0.85M53.6 351.8h0.85M52.7 351.8h0.85M53.9 351.9h0.85M53.0 351.8h0.85M53.6 352.7h0.85M53.8 352.0h0.85M53.6 352.1h0.85M53.5 351.6h0.85M53.1 352.9h0.85M54.0 352.4h0.85M53.8 352.0h0.85M52.6 351.9h0.85M55.8 342.7h0.85M57.0 343.9h0.85M57.0 343.2h0.85M56.3 343.6h0.85M56.1 343.0h0.85M56.7 343.5h0.85M56.0 343.9h0.85M55.9 343.1h0.85M56.7 343.5h0.85M56.5 343.8h0.85M56.8 343.8h0.85M57.0 342.8h0.85M57.1 343.6h0.85M56.3 343.8h0.85M55.3 352.1h0.85M55.0 351.6h0.85M54.8 351.5h0.85M54.4 351.5h0.85M55.2 351.9h0.85M54.7 351.9h0.85M63.5 343.3h0.85M64.0 342.9h0.85M63.8 343.7h0.85M64.3 342.6h0.85M63.9 342.9h0.85M64.0 343.7h0.85M64.1 343.1h0.85M64.5 342.6h0.85M63.7 343.6h0.85M64.0 342.6h0.85M63.5 342.7h0.85M64.4 343.8h0.85M63.3 345.3h0.85M64.8 345.4h0.85M64.7 345.4h0.85M63.6 344.1h0.85M64.1 344.7h0.85M64.5 344.0h0.85M64.4 344.1h0.85M64.7 344.4h0.85M63.9 344.1h0.85M57.8 343.3h0.85M58.2 342.5h0.85M58.5 343.2h0.85M57.4 343.3h0.85M62.3 347.2h0.85M62.1 347.7h0.85M63.1 347.8h0.85M61.7 348.5h0.85M62.2 347.6h0.85M61.9 347.9h0.85M63.1 347.7h0.85M52.1 350.2h0.85M52.5 350.5h0.85M52.1 350.4h0.85M51.2 350.0h0.85M52.2 350.3h0.85M52.0 350.2h0.85M51.4 350.6h0.85M51.6 350.3h0.85M51.9 350.8h0.85M52.1 350.0h0.85M52.4 350.0h0.85M52.3 350.7h0.85M51.5 348.2h0.85M51.9 347.9h0.85M51.8 348.3h0.85M52.4 347.6h0.85M51.7 347.9h0.85M51.2 347.9h0.85M51.9 347.2h0.85M52.2 348.3h0.85M51.8 347.3h0.85M52.3 347.9h0.85M52.0 347.7h0.85M52.5 347.4h0.85M51.9 348.3h0.85M55.4 345.2h0.85M55.0 345.1h0.85M54.9 345.0h0.85M54.5 344.6h0.85M55.6 345.4h0.85M54.2 345.0h0.85M55.2 344.0h0.85M55.3 344.7h0.85M54.2 345.0h0.85M55.0 345.3h0.85M54.5 344.4h0.85M54.1 345.4h0.85M55.3 345.0h0.85M59.4 343.7h0.85M60.0 343.5h0.85M59.3 343.2h0.85M59.0 343.8h0.85M58.9 343.8h0.85M58.9 342.7h0.85M59.7 342.5h0.85M58.9 342.8h0.85M59.0 343.3h0.85M58.9 343.3h0.85M59.5 343.7h0.85M53.5 345.8h0.85M53.3 346.9h0.85M53.5 346.1h0.85M53.7 346.3h0.85M53.7 346.4h0.85M53.2 346.8h0.85M52.9 345.7h0.85M53.7 346.1h0.85M53.2 345.7h0.85M52.9 345.5h0.85M52.2 348.5h0.85M51.0 349.3h0.85M51.6 349.5h0.85M51.3 348.8h0.85M52.2 348.7h0.85M52.5 349.6h0.85M52.4 349.9h0.85M52.1 348.9h0.85M63.3 343.3h0.85M62.0 343.6h0.85M61.8 343.6h0.85M62.1 343.9h0.85M61.8 342.7h0.85M62.5 343.8h0.85M62.9 343.3h0.85M62.3 343.5h0.85M63.2 343.9h0.85M62.3 343.1h0.85M61.8 343.1h0.85M62.6 342.7h0.85M63.1 343.8h0.85M61.9 343.1h0.85M63.0 343.1h0.85M59.5 350.3h0.85M59.6 350.0h0.85M59.6 351.2h0.85M59.6 350.0h0.85M58.8 350.9h0.85M59.1 350.2h0.85M58.8 351.4h0.85M59.3 351.1h0.85M60.0 351.2h0.85M59.2 350.4h0.85M59.0 350.0h0.85M59.0 351.3h0.85M60.1 350.5h0.85M59.9 350.8h0.85M59.4 350.6h0.85M59.8 351.1h0.85M60.7 342.7h0.85M60.9 343.6h0.85M60.9 343.4h0.85M61.4 342.6h0.85M60.2 342.7h0.85M60.2 342.7h0.85M60.9 342.5h0.85M61.7 343.4h0.85M60.7 342.9h0.85M62.4 346.3h0.85M62.1 345.7h0.85M62.6 346.5h0.85M63.1 346.2h0.85M61.8 346.2h0.85M62.1 346.6h0.85M62.1 345.8h0.85" stroke="#0aa6f0" stroke-width="0.85" fill="none"/><path d="M61.7 349.1h0.85M61.7 349.4h0.85M61.6 348.5h0.85M60.3 349.9h0.85M61.2 348.8h0.85M61.6 349.7h0.85M61.5 348.8h0.85M60.9 349.4h0.85M60.2 349.3h0.85M61.4 348.9h0.85M60.9 348.5h0.85M61.5 348.9h0.85M61.1 348.6h0.85M61.3 348.5h0.85M61.5 349.4h0.85M61.4 349.5h0.85M61.5 349.0h0.85M60.6 349.8h0.85M60.6 348.6h0.85M61.0 348.8h0.85M61.6 349.9h0.85M60.4 349.0h0.85M53.5 350.3h0.85M53.7 351.4h0.85M52.6 350.2h0.85M53.2 350.7h0.85M52.8 351.0h0.85M52.7 350.0h0.85M52.7 350.3h0.85M52.8 350.5h0.85M53.5 351.2h0.85M52.9 350.6h0.85M53.3 350.1h0.85M53.8 350.1h0.85M63.1 345.4h0.85M62.4 345.2h0.85M62.1 344.9h0.85M62.6 344.6h0.85M62.0 344.2h0.85M62.6 345.2h0.85M62.8 345.2h0.85M63.0 345.4h0.85M62.8 344.5h0.85M62.4 344.1h0.85M63.0 345.3h0.85M62.1 344.2h0.85M62.4 345.2h0.85M62.9 344.1h0.85M55.6 344.9h0.85M56.1 344.6h0.85M55.8 344.8h0.85M55.9 345.1h0.85M57.1 344.9h0.85M56.4 344.5h0.85M55.9 344.5h0.85M56.4 345.2h0.85M56.9 344.2h0.85M58.6 350.6h0.85M57.7 351.0h0.85M57.8 350.2h0.85M58.1 350.0h0.85M57.2 350.3h0.85M57.8 350.8h0.85M58.1 350.5h0.85M57.4 350.1h0.85M57.5 351.3h0.85M58.4 351.1h0.85M58.6 351.0h0.85M57.8 350.2h0.85M57.2 350.1h0.85M57.3 350.2h0.85M57.3 351.2h0.85M55.4 350.8h0.85M54.6 350.7h0.85M54.8 350.1h0.85M54.6 351.3h0.85M55.2 350.6h0.85M55.4 350.8h0.85M55.0 351.3h0.85M54.7 350.0h0.85M54.9 350.9h0.85M55.5 350.4h0.85M54.8 350.5h0.85M54.5 350.8h0.85M54.9 350.9h0.85M54.4 351.1h0.85M54.4 351.3h0.85M53.7 347.5h0.85M53.1 347.3h0.85M52.8 348.2h0.85M52.7 347.6h0.85M53.1 347.8h0.85M52.6 348.1h0.85M53.4 348.3h0.85M53.4 348.4h0.85M52.6 347.7h0.85M53.5 347.2h0.85M53.7 347.5h0.85M56.5 350.4h0.85M55.7 350.7h0.85M55.8 350.3h0.85M56.2 350.1h0.85M56.5 350.2h0.85M56.8 350.3h0.85M57.0 350.5h0.85M56.6 350.1h0.85M56.3 350.7h0.85M55.9 351.0h0.85M57.1 350.2h0.85M54.6 345.5h0.85M55.1 346.4h0.85M55.5 346.1h0.85M55.1 345.9h0.85M54.8 346.3h0.85M54.2 345.5h0.85M54.4 345.7h0.85M55.4 345.5h0.85M54.1 345.9h0.85M58.2 344.5h0.85M57.5 344.2h0.85M58.2 345.1h0.85M57.5 345.1h0.85M57.2 344.1h0.85M58.0 345.1h0.85M57.1 344.4h0.85M57.6 344.9h0.85M58.6 344.1h0.85M58.6 345.1h0.85M57.2 344.8h0.85M52.9 349.4h0.85M53.2 348.8h0.85M53.9 349.2h0.85M53.4 348.8h0.85M53.2 349.3h0.85M52.9 349.2h0.85M52.9 348.5h0.85M53.5 349.5h0.85M53.8 349.3h0.85M53.2 348.7h0.85M53.9 349.2h0.85M53.9 349.1h0.85M53.6 348.5h0.85M53.2 349.5h0.85M52.7 349.8h0.85M53.5 349.5h0.85M52.7 349.3h0.85M53.1 348.8h0.85M52.6 349.9h0.85M52.8 348.8h0.85M61.6 345.1h0.85M61.3 344.8h0.85M60.8 344.1h0.85M61.3 344.9h0.85M61.3 344.4h0.85M60.7 345.0h0.85M60.5 344.8h0.85M61.4 344.0h0.85M61.4 344.3h0.85M61.0 344.0h0.85M60.6 344.6h0.85M60.9 345.2h0.85M60.5 344.0h0.85M60.2 345.3h0.85M60.8 344.9h0.85M60.5 344.5h0.85M61.5 344.5h0.85M60.3 344.2h0.85M61.3 344.7h0.85M61.3 344.6h0.85M61.4 345.3h0.85M60.8 344.4h0.85M61.4 344.5h0.85M59.9 345.3h0.85M58.9 344.3h0.85M59.2 344.3h0.85M59.3 344.9h0.85M59.9 344.0h0.85M58.8 344.5h0.85M58.9 344.0h0.85M59.8 344.9h0.85M58.8 345.2h0.85M60.4 347.4h0.85M61.2 347.7h0.85M60.8 347.0h0.85M60.3 347.5h0.85M60.5 347.1h0.85M61.5 347.8h0.85M60.3 348.3h0.85M60.6 347.3h0.85M61.5 348.1h0.85M61.1 348.2h0.85M61.4 348.2h0.85M60.5 347.0h0.85M61.5 347.1h0.85M61.6 346.3h0.85M61.6 346.0h0.85M61.0 345.9h0.85M61.4 346.9h0.85M61.4 346.1h0.85M61.0 347.0h0.85M60.3 346.2h0.85M60.5 346.7h0.85M61.4 346.9h0.85M60.9 346.4h0.85M61.4 346.0h0.85M61.2 346.2h0.85M60.4 346.6h0.85M61.1 345.5h0.85M61.5 345.5h0.85M54.2 348.5h0.85M54.1 349.1h0.85M54.3 349.3h0.85M54.9 348.9h0.85M54.7 348.5h0.85M54.5 349.0h0.85M55.6 349.5h0.85M55.1 349.3h0.85M54.7 349.8h0.85M55.4 348.9h0.85M55.0 349.7h0.85M55.0 349.0h0.85M54.8 348.6h0.85M54.5 347.7h0.85M54.8 348.0h0.85M54.2 348.4h0.85M54.6 348.3h0.85M55.1 348.3h0.85M54.2 348.3h0.85M54.7 347.4h0.85M55.0 347.0h0.85M54.5 347.9h0.85M54.1 347.5h0.85M55.1 347.0h0.85M54.8 348.3h0.85M54.8 347.9h0.85M54.5 348.2h0.85M54.3 347.0h0.85M59.6 349.4h0.85M59.9 348.5h0.85M59.6 348.6h0.85M60.1 348.8h0.85M58.7 348.7h0.85M59.8 349.2h0.85M59.0 349.0h0.85M59.8 349.2h0.85M58.9 348.7h0.85M59.4 349.9h0.85M58.8 349.3h0.85M58.9 348.7h0.85M59.0 349.4h0.85M59.3 349.2h0.85M59.1 349.3h0.85M59.5 349.5h0.85M59.4 348.5h0.85M60.1 349.2h0.85M56.5 346.3h0.85M55.9 346.2h0.85M57.0 345.8h0.85M56.5 345.9h0.85M56.1 346.1h0.85M56.2 345.5h0.85M56.8 345.5h0.85M56.8 345.6h0.85M56.4 346.6h0.85M55.9 346.3h0.85M56.2 346.3h0.85M56.6 346.0h0.85M56.9 346.4h0.85M55.9 345.6h0.85M56.0 346.0h0.85M57.1 349.3h0.85M56.2 348.7h0.85M56.2 348.6h0.85M56.3 349.1h0.85M56.4 348.6h0.85M55.7 349.0h0.85M56.9 348.6h0.85M56.2 349.0h0.85M56.0 349.2h0.85M56.8 348.5h0.85M55.9 349.3h0.85M56.1 348.8h0.85M56.7 348.6h0.85M56.1 348.9h0.85M56.1 349.2h0.85" stroke="#10c8b8" stroke-width="0.85" fill="none"/><path d="M59.1 345.7h0.85M59.4 346.7h0.85M59.8 346.2h0.85M59.9 345.6h0.85M59.6 346.6h0.85M60.2 346.5h0.85M59.7 346.8h0.85M59.8 345.6h0.85M59.3 346.1h0.85M59.4 345.6h0.85M59.4 346.6h0.85M59.4 346.7h0.85M59.6 346.1h0.85M58.9 346.7h0.85M59.0 346.8h0.85M59.1 346.1h0.85M59.7 345.5h0.85M59.4 345.6h0.85M59.3 345.5h0.85M58.1 349.5h0.85M58.3 349.2h0.85M57.3 348.7h0.85M58.0 348.7h0.85M58.1 349.9h0.85M57.8 349.7h0.85M57.3 349.9h0.85M57.3 348.8h0.85M58.2 349.9h0.85M57.2 348.9h0.85M58.0 349.6h0.85M57.3 348.7h0.85M58.0 349.0h0.85M57.4 348.5h0.85M57.8 349.8h0.85M57.7 349.0h0.85M58.1 346.2h0.85M57.7 346.7h0.85M57.5 346.0h0.85M57.8 345.5h0.85M58.6 346.6h0.85M57.2 346.8h0.85M57.5 346.7h0.85M57.9 345.7h0.85M58.2 346.6h0.85M57.7 346.0h0.85M57.5 346.9h0.85M58.6 345.7h0.85M58.6 346.8h0.85M58.3 346.7h0.85M58.4 346.2h0.85M58.6 346.2h0.85M58.7 346.3h0.85M58.3 346.3h0.85M57.3 346.5h0.85M57.7 346.5h0.85M60.1 348.2h0.85M59.2 347.8h0.85M59.4 347.6h0.85M60.0 347.5h0.85M59.3 347.5h0.85M58.9 347.9h0.85M60.1 347.3h0.85M60.1 347.9h0.85M59.5 347.7h0.85M60.0 347.7h0.85M59.0 348.2h0.85M59.3 347.3h0.85M59.0 347.5h0.85M55.9 347.4h0.85M57.1 347.0h0.85M56.3 347.7h0.85M57.0 347.6h0.85M55.7 347.3h0.85M56.5 348.4h0.85M56.9 348.1h0.85M56.2 347.2h0.85M56.1 347.9h0.85M55.8 347.9h0.85M56.6 347.9h0.85M57.0 348.2h0.85M56.7 347.0h0.85M56.7 348.5h0.85M56.7 348.3h0.85M57.1 347.4h0.85M55.8 347.3h0.85M56.8 347.0h0.85M56.9 348.4h0.85M55.9 347.5h0.85M56.5 347.5h0.85M58.2 348.3h0.85M58.2 348.2h0.85M57.9 347.1h0.85M57.4 347.1h0.85M57.8 347.3h0.85M57.8 347.7h0.85M58.5 347.5h0.85M58.2 348.3h0.85M58.4 347.3h0.85M58.4 347.4h0.85M57.4 348.0h0.85M57.3 347.6h0.85M57.4 348.2h0.85M58.2 347.6h0.85M58.5 347.7h0.85" stroke="#22cc5a" stroke-width="0.85" fill="none"/>
<path d="M177.9 350.6h0.85M166.0 321.9h0.85M163.9 325.9h0.85M175.1 325.4h0.85M169.7 324.6h0.85M139.7 328.4h0.85M157.8 359.4h0.85M179.5 342.0h0.85M154.9 358.0h0.85M180.1 332.6h0.85M135.2 332.2h0.85M171.3 350.8h0.85M154.0 329.5h0.85M145.1 327.8h0.85M144.5 327.8h0.85M180.3 336.6h0.85M176.5 331.7h0.85M171.8 331.7h0.85M174.6 332.8h0.85M139.1 334.3h0.85M177.8 332.4h0.85M133.0 336.0h0.85M176.9 338.2h0.85M164.9 352.0h0.85M135.5 335.6h0.85M173.1 347.0h0.85M159.0 331.1h0.85M156.2 330.9h0.85M156.6 331.7h0.85M174.3 346.8h0.85M152.5 356.0h0.85M177.8 336.2h0.85M177.6 336.2h0.85M178.0 335.0h0.85M148.9 358.0h0.85M158.5 331.7h0.85M139.4 359.3h0.85M163.6 352.1h0.85M132.6 357.9h0.85M159.0 354.2h0.85M152.7 332.7h0.85M169.9 331.8h0.85M141.7 359.6h0.85M142.0 359.3h0.85M141.2 359.9h0.85M175.3 336.9h0.85M139.4 335.1h0.85M169.0 333.3h0.85M174.0 342.6h0.85M142.1 335.7h0.85M162.5 332.9h0.85M134.7 336.5h0.85M164.8 350.8h0.85M144.8 335.7h0.85M142.9 335.1h0.85M172.4 346.3h0.85M159.2 332.3h0.85M175.1 340.1h0.85M139.7 358.3h0.85M175.1 338.1h0.85M175.3 338.6h0.85M169.5 334.8h0.85M137.3 357.2h0.85M167.1 348.8h0.85M166.9 349.2h0.85M148.1 335.3h0.85M171.3 336.2h0.85M160.4 351.8h0.85M172.1 345.6h0.85M149.3 356.4h0.85M149.2 356.6h0.85M168.4 334.1h0.85M168.2 347.6h0.85M168.1 347.0h0.85M173.1 344.3h0.85M151.8 334.1h0.85M152.0 333.7h0.85M149.6 335.5h0.85M167.0 334.6h0.85M167.0 333.7h0.85M133.3 338.2h0.85M143.7 356.4h0.85M146.1 356.2h0.85M146.0 356.6h0.85M140.1 337.7h0.85" stroke="#8c96ff" stroke-width="0.85" fill="none"/><path d="M154.0 333.8h0.85M173.1 338.8h0.85M172.4 339.3h0.85M173.7 339.0h0.85M173.5 339.0h0.85M169.9 346.3h0.85M165.1 349.6h0.85M173.3 342.9h0.85M172.8 342.7h0.85M156.6 334.4h0.85M159.9 352.0h0.85M166.2 334.3h0.85M164.8 333.8h0.85M165.6 333.6h0.85M164.8 333.5h0.85M170.4 335.5h0.85M170.4 334.9h0.85M135.3 339.3h0.85M158.2 334.5h0.85M163.3 334.0h0.85M140.0 357.1h0.85M141.4 356.6h0.85M140.7 357.0h0.85M162.0 334.0h0.85M162.5 333.4h0.85M159.9 334.3h0.85M160.6 333.5h0.85M167.3 347.5h0.85M161.8 349.9h0.85M136.5 338.3h0.85M171.3 336.7h0.85M171.4 344.2h0.85M169.1 335.1h0.85M169.1 345.8h0.85M168.8 346.8h0.85M167.8 346.0h0.85M143.3 337.4h0.85M153.3 353.0h0.85M152.8 353.5h0.85M138.9 338.6h0.85M138.7 338.4h0.85M137.9 339.0h0.85M170.8 343.6h0.85M171.6 343.5h0.85M170.9 342.5h0.85M171.0 342.7h0.85M171.9 342.4h0.85M148.8 354.5h0.85M146.4 337.0h0.85M169.6 337.6h0.85M170.0 337.4h0.85M172.1 342.3h0.85M171.3 341.4h0.85M152.7 335.0h0.85M152.2 336.0h0.85M152.6 335.1h0.85M152.4 336.1h0.85M161.3 350.2h0.85M165.4 348.0h0.85M156.6 351.7h0.85M146.8 355.5h0.85M146.7 355.5h0.85M147.0 355.7h0.85M146.9 354.6h0.85M169.2 344.5h0.85M169.0 344.3h0.85M138.6 354.6h0.85M140.5 338.0h0.85M151.7 353.6h0.85M153.8 335.4h0.85M169.3 343.2h0.85M133.2 340.2h0.85M134.2 340.4h0.85M134.2 340.5h0.85M136.0 340.0h0.85M134.8 339.4h0.85M135.3 340.4h0.85M144.2 355.1h0.85M144.9 355.1h0.85M145.1 354.9h0.85M167.5 337.7h0.85M166.3 337.4h0.85M169.8 339.0h0.85M169.5 339.0h0.85M170.0 338.1h0.85M169.9 338.3h0.85M169.9 339.2h0.85M169.4 339.0h0.85M170.5 338.0h0.85M163.2 335.1h0.85M162.8 335.5h0.85M154.6 335.9h0.85M154.3 335.6h0.85M137.0 339.7h0.85M140.1 355.6h0.85M140.4 355.1h0.85M139.9 355.9h0.85M141.5 354.7h0.85M140.8 355.3h0.85M149.2 336.8h0.85M149.1 337.8h0.85M155.9 335.7h0.85M170.7 342.0h0.85M169.7 342.3h0.85M169.6 341.3h0.85M158.7 335.9h0.85M157.6 335.7h0.85M158.9 350.6h0.85M159.7 335.9h0.85M169.6 340.6h0.85M170.6 340.5h0.85M155.1 351.6h0.85M154.7 351.4h0.85M134.5 354.7h0.85M133.2 355.5h0.85M133.3 355.0h0.85M133.1 355.6h0.85M133.9 354.7h0.85M134.5 354.8h0.85M161.9 348.6h0.85M162.1 349.1h0.85M167.2 345.0h0.85M166.7 345.0h0.85M165.7 337.3h0.85M165.4 337.2h0.85M165.2 337.1h0.85M165.3 337.3h0.85M141.2 338.0h0.85M140.9 338.6h0.85M141.8 338.6h0.85M168.3 342.7h0.85M168.4 342.9h0.85M168.1 342.6h0.85M168.4 342.7h0.85M150.2 353.4h0.85M168.8 339.2h0.85M167.9 337.8h0.85M165.8 346.3h0.85M132.5 354.7h0.85M164.2 346.9h0.85M158.2 349.9h0.85M157.8 350.1h0.85M158.0 351.4h0.85M142.7 337.9h0.85M149.0 353.0h0.85M148.6 352.9h0.85M149.5 353.9h0.85M148.7 353.2h0.85M149.6 353.2h0.85M164.4 336.7h0.85M164.0 336.8h0.85M164.1 337.7h0.85M163.4 337.8h0.85M167.3 337.9h0.85M166.6 338.2h0.85M167.3 338.9h0.85M167.9 339.5h0.85M168.2 340.1h0.85M168.7 340.0h0.85M169.0 340.1h0.85M153.7 352.9h0.85M151.2 337.7h0.85M151.7 337.3h0.85M145.1 338.9h0.85M144.4 339.0h0.85M144.9 338.3h0.85M144.7 338.0h0.85" stroke="#5a6cff" stroke-width="0.85" fill="none"/><path d="M166.6 342.5h0.85M166.6 342.4h0.85M166.7 342.9h0.85M160.6 349.7h0.85M160.3 349.1h0.85M165.1 343.9h0.85M136.4 353.3h0.85M137.5 353.2h0.85M162.2 336.8h0.85M162.1 337.4h0.85M162.9 337.3h0.85M162.2 336.9h0.85M166.2 339.1h0.85M165.0 339.1h0.85M165.0 339.2h0.85M156.5 351.1h0.85M156.2 350.4h0.85M155.8 351.2h0.85M157.1 350.0h0.85M146.6 338.3h0.85M145.7 353.8h0.85M145.4 353.3h0.85M146.6 354.3h0.85M139.9 339.8h0.85M140.6 339.6h0.85M135.7 352.9h0.85M136.0 353.1h0.85M135.9 353.0h0.85M135.3 354.1h0.85M154.2 337.8h0.85M153.6 337.6h0.85M166.3 339.8h0.85M167.5 340.7h0.85M166.8 339.9h0.85M135.9 341.9h0.85M135.0 341.2h0.85M139.0 354.3h0.85M137.9 353.4h0.85M138.0 353.3h0.85M166.3 342.3h0.85M166.4 341.7h0.85M166.5 341.4h0.85M166.3 340.9h0.85M167.5 341.5h0.85M167.0 342.0h0.85M166.3 341.5h0.85M167.3 341.0h0.85M132.4 341.9h0.85M133.0 341.1h0.85M132.3 342.1h0.85M132.5 342.3h0.85M132.8 341.4h0.85M152.7 351.5h0.85M151.7 352.0h0.85M161.0 336.7h0.85M161.4 337.3h0.85M160.5 336.4h0.85M160.4 336.4h0.85M160.2 337.7h0.85M137.6 341.5h0.85M140.4 354.1h0.85M140.4 353.5h0.85M140.1 354.3h0.85M140.1 353.2h0.85M140.2 353.3h0.85M145.1 353.2h0.85M144.0 353.6h0.85M143.9 353.1h0.85M144.4 353.2h0.85M133.3 353.1h0.85M133.9 354.3h0.85M134.2 353.8h0.85M147.8 339.0h0.85M146.9 339.3h0.85M146.8 338.4h0.85M147.3 339.0h0.85M155.5 337.0h0.85M155.7 337.0h0.85M154.4 337.0h0.85M154.2 337.4h0.85M155.5 337.6h0.85M155.3 336.6h0.85M140.8 353.9h0.85M142.0 353.3h0.85M163.3 338.3h0.85M164.2 339.2h0.85M158.9 337.4h0.85M159.0 337.3h0.85M159.6 336.5h0.85M159.7 336.6h0.85M159.8 337.2h0.85M160.0 348.7h0.85M159.2 348.8h0.85M159.2 349.2h0.85M160.2 348.7h0.85M158.9 349.0h0.85M159.6 348.6h0.85M166.2 342.5h0.85M166.0 343.4h0.85M142.7 353.1h0.85M142.8 353.1h0.85M142.5 353.9h0.85M157.5 337.7h0.85M157.7 336.9h0.85M157.8 337.7h0.85M158.4 337.0h0.85M155.3 350.4h0.85M154.7 349.9h0.85M154.5 351.2h0.85M154.5 350.5h0.85M154.6 351.0h0.85M164.1 346.8h0.85M164.6 345.8h0.85M164.1 345.8h0.85M164.4 346.4h0.85M163.3 346.3h0.85M164.2 346.4h0.85M163.9 345.6h0.85M163.7 345.5h0.85M156.3 336.5h0.85M162.8 348.1h0.85M161.9 347.6h0.85M162.6 347.0h0.85M162.3 348.3h0.85M165.9 340.2h0.85M165.2 340.8h0.85M165.2 339.5h0.85M166.2 340.1h0.85M165.4 340.5h0.85M132.4 352.9h0.85M133.0 353.2h0.85M132.4 353.0h0.85M132.6 353.1h0.85M133.1 353.4h0.85M132.2 353.3h0.85M149.5 338.2h0.85M149.5 339.0h0.85M148.4 339.3h0.85M148.7 339.2h0.85M149.7 338.9h0.85M165.2 341.5h0.85M164.8 342.1h0.85M165.2 341.7h0.85M165.9 341.8h0.85M164.8 341.0h0.85M141.1 340.6h0.85M141.1 340.0h0.85M141.1 339.4h0.85M141.9 340.0h0.85M141.5 339.3h0.85M141.9 340.6h0.85M149.8 352.2h0.85M151.0 352.1h0.85M150.9 352.4h0.85M149.8 352.7h0.85M149.9 352.5h0.85M150.6 352.7h0.85M150.2 352.6h0.85M150.2 351.8h0.85M149.7 352.5h0.85M158.3 349.7h0.85M158.0 349.3h0.85M138.6 341.3h0.85M138.7 341.3h0.85M138.5 342.3h0.85M150.2 339.3h0.85M150.0 339.0h0.85M162.6 339.0h0.85M162.9 338.9h0.85M162.7 338.5h0.85M162.9 338.9h0.85M163.0 338.0h0.85M164.0 340.3h0.85M163.6 340.1h0.85M163.8 340.7h0.85M163.5 339.5h0.85M152.7 351.1h0.85M153.1 349.9h0.85M153.6 350.3h0.85M153.2 350.3h0.85M153.1 350.6h0.85M148.5 351.4h0.85M148.2 351.4h0.85M163.3 344.5h0.85M164.7 344.0h0.85M163.7 344.4h0.85M142.8 339.4h0.85M142.3 340.1h0.85M142.2 340.8h0.85M142.8 340.7h0.85M147.3 352.0h0.85M147.2 351.7h0.85M147.5 351.6h0.85M151.4 339.2h0.85M152.6 338.3h0.85M151.9 337.9h0.85M152.1 337.8h0.85M156.6 348.5h0.85M156.4 349.5h0.85M155.9 348.6h0.85M156.8 349.3h0.85M156.0 349.7h0.85M155.8 348.4h0.85M163.5 340.9h0.85M164.1 341.6h0.85M163.3 341.1h0.85M163.5 342.0h0.85M164.7 341.4h0.85M163.8 342.2h0.85M164.7 341.6h0.85M163.6 343.5h0.85M164.0 343.8h0.85M164.0 343.0h0.85M163.7 342.5h0.85M164.0 343.3h0.85M160.4 348.2h0.85M161.3 347.2h0.85M160.6 347.7h0.85M160.4 348.2h0.85M135.2 352.2h0.85M135.6 352.7h0.85M135.1 352.3h0.85M135.4 352.0h0.85M134.7 351.7h0.85M161.6 338.0h0.85M160.5 338.7h0.85M160.6 339.3h0.85M161.3 338.3h0.85M160.3 339.1h0.85M161.7 338.9h0.85M137.5 351.6h0.85M137.3 351.9h0.85M136.6 351.4h0.85M136.8 352.8h0.85M133.2 343.7h0.85M133.8 343.7h0.85M133.6 343.0h0.85M134.6 343.7h0.85M133.9 342.9h0.85M133.5 343.4h0.85M133.2 342.6h0.85M133.2 343.6h0.85M133.9 351.9h0.85M133.5 352.9h0.85M133.3 352.8h0.85M133.2 351.4h0.85M144.3 340.3h0.85M144.9 339.4h0.85M144.9 340.1h0.85M143.9 340.5h0.85M132.9 343.2h0.85M133.1 342.8h0.85M132.8 342.9h0.85M133.1 343.5h0.85M132.8 343.8h0.85M132.4 343.5h0.85M132.8 343.0h0.85M132.9 343.4h0.85M134.8 343.5h0.85M135.0 343.7h0.85M135.1 343.2h0.85M134.9 342.8h0.85M162.5 340.8h0.85M162.0 339.6h0.85M162.2 340.6h0.85M163.1 340.8h0.85M162.6 340.0h0.85M162.3 340.7h0.85M132.8 351.5h0.85M132.9 352.9h0.85M132.3 352.1h0.85M132.3 351.7h0.85M132.4 352.1h0.85M132.8 352.0h0.85M153.0 338.5h0.85M153.5 338.0h0.85M153.5 339.0h0.85M152.4 350.8h0.85M151.3 350.4h0.85M151.4 350.0h0.85M151.9 350.8h0.85M152.3 350.6h0.85M151.9 350.9h0.85M151.6 351.2h0.85M152.7 350.6h0.85M162.7 346.8h0.85M161.9 345.9h0.85M162.1 345.8h0.85M162.5 345.9h0.85M162.4 346.2h0.85M145.9 352.0h0.85M145.5 352.2h0.85M146.5 352.4h0.85M159.7 339.1h0.85M159.3 338.2h0.85M159.7 337.9h0.85M159.8 339.0h0.85M159.8 339.0h0.85M159.8 338.7h0.85M140.5 342.0h0.85M140.2 341.8h0.85M140.1 342.0h0.85M140.2 341.6h0.85M140.2 342.1h0.85M155.1 348.6h0.85M155.1 349.6h0.85M155.3 348.5h0.85M155.6 349.0h0.85M138.4 351.7h0.85M138.1 352.0h0.85M137.8 351.5h0.85M138.8 352.8h0.85M138.5 351.8h0.85M158.9 348.0h0.85M159.0 347.5h0.85M159.6 347.3h0.85M158.8 348.0h0.85M160.1 347.4h0.85M158.8 347.4h0.85M159.7 348.0h0.85M146.4 340.5h0.85M145.3 340.2h0.85M146.5 340.5h0.85M146.2 340.7h0.85M146.1 339.4h0.85M137.0 343.7h0.85M136.1 343.3h0.85M136.9 343.3h0.85M137.0 343.2h0.85M136.7 343.2h0.85M137.1 342.7h0.85M137.0 343.3h0.85M136.2 342.6h0.85M158.2 338.8h0.85M158.4 338.3h0.85M158.5 338.7h0.85M158.4 339.2h0.85M161.9 341.3h0.85M162.4 342.1h0.85M161.8 341.4h0.85M155.6 338.4h0.85M155.4 338.0h0.85M154.7 339.2h0.85M155.5 338.4h0.85M154.4 339.3h0.85M154.9 338.3h0.85M139.3 352.4h0.85M139.5 351.5h0.85M139.2 351.6h0.85M139.8 351.9h0.85M139.2 352.7h0.85M157.3 347.6h0.85M157.5 347.4h0.85M158.3 346.9h0.85M157.7 348.2h0.85M157.2 348.1h0.85" stroke="#2c48ff" stroke-width="0.85" fill="none"/><path d="M156.0 338.7h0.85M156.2 338.0h0.85M155.8 338.3h0.85M157.1 338.7h0.85M156.1 338.9h0.85M157.1 338.8h0.85M156.0 338.8h0.85M156.0 338.0h0.85M156.3 338.1h0.85M152.9 349.3h0.85M153.7 349.0h0.85M153.3 349.0h0.85M153.5 348.9h0.85M153.0 349.5h0.85M161.6 339.4h0.85M160.6 340.5h0.85M160.9 340.5h0.85M161.3 340.0h0.85M161.1 340.1h0.85M161.5 340.7h0.85M162.5 342.5h0.85M161.9 343.8h0.85M162.6 343.8h0.85M162.4 342.4h0.85M162.9 343.0h0.85M162.1 343.1h0.85M162.1 345.3h0.85M162.6 344.7h0.85M162.9 344.5h0.85M161.8 345.1h0.85M163.2 344.0h0.85M162.4 345.0h0.85M162.7 345.0h0.85M161.8 345.1h0.85M161.8 344.9h0.85M162.7 344.3h0.85M162.5 345.0h0.85M147.3 340.5h0.85M148.1 339.5h0.85M147.4 340.8h0.85M147.5 340.7h0.85M147.2 340.7h0.85M146.9 340.6h0.85M143.8 352.8h0.85M143.8 351.8h0.85M144.4 352.4h0.85M144.0 352.4h0.85M144.2 352.5h0.85M144.9 352.9h0.85M144.8 352.2h0.85M141.4 352.7h0.85M140.8 351.9h0.85M141.5 351.9h0.85M149.7 350.6h0.85M150.2 351.1h0.85M150.1 350.1h0.85M156.2 346.9h0.85M156.1 348.0h0.85M157.2 348.2h0.85M157.2 347.3h0.85M156.4 347.0h0.85M156.5 347.7h0.85M156.2 347.7h0.85M156.5 347.7h0.85M133.2 350.0h0.85M133.3 349.9h0.85M134.3 350.5h0.85M133.4 350.3h0.85M133.1 350.1h0.85M133.2 349.9h0.85M133.6 350.2h0.85M136.1 350.6h0.85M135.9 350.2h0.85M135.9 350.3h0.85M135.8 350.7h0.85M136.1 350.9h0.85M136.0 350.0h0.85M135.4 351.1h0.85M136.0 350.1h0.85M141.8 342.0h0.85M141.2 341.4h0.85M141.2 341.3h0.85M142.1 341.1h0.85M141.6 341.7h0.85M141.1 341.8h0.85M140.9 341.6h0.85M142.7 352.8h0.85M142.7 351.8h0.85M143.5 352.6h0.85M142.6 352.2h0.85M161.4 345.8h0.85M160.4 346.1h0.85M160.9 345.7h0.85M161.1 345.8h0.85M161.4 346.3h0.85M160.4 346.2h0.85M160.6 346.5h0.85M160.7 346.6h0.85M161.1 346.8h0.85M160.5 346.5h0.85M160.3 345.5h0.85M148.8 339.9h0.85M149.4 339.6h0.85M149.1 339.8h0.85M149.2 340.0h0.85M148.9 339.7h0.85M149.6 340.1h0.85M148.9 340.6h0.85M149.1 339.4h0.85M133.0 350.3h0.85M132.5 351.3h0.85M132.5 350.3h0.85M132.8 351.0h0.85M132.3 350.6h0.85M132.5 350.3h0.85M134.1 344.2h0.85M133.7 345.1h0.85M133.3 345.3h0.85M134.5 344.8h0.85M133.6 344.7h0.85M132.6 344.9h0.85M132.3 345.0h0.85M132.2 345.2h0.85M150.3 340.7h0.85M150.2 340.6h0.85M150.5 340.7h0.85M150.2 339.7h0.85M150.5 340.1h0.85M150.9 340.5h0.85M150.6 340.5h0.85M138.2 343.3h0.85M138.8 343.4h0.85M138.8 343.7h0.85M138.2 342.9h0.85M137.6 342.7h0.85M134.7 345.0h0.85M135.9 344.8h0.85M135.9 344.6h0.85M135.0 343.9h0.85M135.2 344.2h0.85M135.0 344.6h0.85M134.7 344.3h0.85M136.5 351.3h0.85M136.5 350.8h0.85M136.9 350.6h0.85M136.4 350.2h0.85M137.6 350.5h0.85M154.4 347.3h0.85M154.5 347.7h0.85M154.8 347.3h0.85M155.6 347.2h0.85M155.1 347.6h0.85M155.0 347.2h0.85M155.4 347.8h0.85M154.5 347.3h0.85M160.5 341.0h0.85M160.5 341.5h0.85M161.6 341.7h0.85M161.0 342.3h0.85M161.0 342.3h0.85M161.7 341.0h0.85M161.0 341.4h0.85M160.6 341.6h0.85M161.7 341.0h0.85M159.4 340.4h0.85M159.6 339.7h0.85M159.8 339.3h0.85M158.8 339.6h0.85M159.2 340.8h0.85M149.1 350.2h0.85M148.3 350.4h0.85M149.5 350.8h0.85M149.2 350.1h0.85M148.7 351.1h0.85M149.5 350.8h0.85M151.6 349.6h0.85M152.4 349.7h0.85M152.2 348.5h0.85M152.6 348.7h0.85M151.3 348.9h0.85M152.1 348.6h0.85M152.3 349.2h0.85M151.8 348.6h0.85M159.1 346.5h0.85M159.5 346.0h0.85M158.8 346.5h0.85M159.6 346.2h0.85M159.5 345.6h0.85M159.2 345.8h0.85M159.9 345.4h0.85M159.6 346.7h0.85M151.7 340.4h0.85M151.3 340.0h0.85M152.0 340.5h0.85M152.2 340.5h0.85M151.3 339.5h0.85M151.8 340.3h0.85M151.7 340.3h0.85M151.7 340.6h0.85M152.0 340.6h0.85M151.8 340.8h0.85M143.1 341.7h0.85M142.8 342.2h0.85M143.5 342.3h0.85M143.4 341.9h0.85M143.1 341.8h0.85M142.9 342.3h0.85M157.9 345.6h0.85M157.5 345.4h0.85M158.3 346.0h0.85M158.2 346.3h0.85M158.5 346.4h0.85M158.0 346.7h0.85M161.4 342.7h0.85M161.0 342.4h0.85M161.0 342.4h0.85M161.1 343.5h0.85M160.4 343.2h0.85M160.6 342.5h0.85M161.3 343.5h0.85M152.7 347.6h0.85M152.8 347.1h0.85M154.2 348.2h0.85M153.2 347.4h0.85M154.1 346.9h0.85M153.8 347.8h0.85M161.5 344.8h0.85M161.5 345.0h0.85M160.8 344.8h0.85M160.8 345.2h0.85M160.3 345.1h0.85M160.3 344.7h0.85M160.4 344.6h0.85M160.8 345.3h0.85M160.7 344.1h0.85M147.3 351.2h0.85M146.8 350.0h0.85M146.8 351.1h0.85M146.8 351.3h0.85M147.7 351.3h0.85M148.0 351.0h0.85M133.2 348.7h0.85M133.3 349.3h0.85M133.2 349.5h0.85M133.2 348.8h0.85M133.7 348.9h0.85M133.9 348.4h0.85M135.2 349.1h0.85M135.5 349.7h0.85M135.2 348.6h0.85M135.7 348.8h0.85M135.0 349.2h0.85M135.6 348.4h0.85M133.0 348.9h0.85M132.9 349.1h0.85M132.6 349.0h0.85M132.8 349.0h0.85M133.0 349.8h0.85M132.8 349.6h0.85M132.4 348.9h0.85M133.0 349.2h0.85M133.1 349.3h0.85M153.9 340.7h0.85M152.8 340.7h0.85M154.2 339.9h0.85M153.3 340.4h0.85M154.0 340.3h0.85M153.6 340.8h0.85M153.0 340.3h0.85M156.4 346.5h0.85M156.6 345.9h0.85M155.8 345.5h0.85M155.9 345.6h0.85M157.1 346.7h0.85M156.1 346.3h0.85M156.6 346.8h0.85M157.0 346.5h0.85M134.3 346.5h0.85M134.5 346.4h0.85M133.2 346.5h0.85M133.4 346.8h0.85M134.6 346.7h0.85M133.8 345.4h0.85M133.5 346.8h0.85M134.6 346.6h0.85M138.1 350.4h0.85M139.0 351.4h0.85M139.0 351.0h0.85M139.0 350.9h0.85M138.9 350.0h0.85M138.4 350.9h0.85M138.9 351.2h0.85M139.0 350.7h0.85M137.7 350.2h0.85M137.8 350.4h0.85M138.1 350.3h0.85M139.1 351.4h0.85M138.5 351.0h0.85M137.8 350.5h0.85M143.8 341.3h0.85M144.4 342.0h0.85M143.7 341.4h0.85M143.8 342.3h0.85M143.7 341.7h0.85M144.8 341.7h0.85M145.0 341.7h0.85M144.2 342.2h0.85M143.7 342.0h0.85M144.5 342.1h0.85M144.9 341.6h0.85M136.7 344.0h0.85M137.0 345.1h0.85M137.4 344.3h0.85M136.7 344.2h0.85M136.8 345.0h0.85M136.7 345.1h0.85M136.5 345.1h0.85M136.7 344.8h0.85M136.6 344.1h0.85M136.7 344.7h0.85M137.1 344.7h0.85M157.8 339.7h0.85M158.6 340.7h0.85M157.5 339.9h0.85M158.4 339.5h0.85M158.5 340.3h0.85M158.4 339.7h0.85M158.0 339.7h0.85M158.5 340.3h0.85M132.3 345.9h0.85M132.6 346.7h0.85M133.0 346.2h0.85M132.7 346.8h0.85M132.7 346.7h0.85M132.9 346.1h0.85M133.0 346.2h0.85M132.5 345.9h0.85M132.6 346.4h0.85M132.9 346.7h0.85M132.9 346.1h0.85M134.9 345.7h0.85M136.1 346.9h0.85M135.9 346.2h0.85M134.9 345.6h0.85M135.8 346.3h0.85M135.2 346.5h0.85M158.8 345.3h0.85M159.9 344.3h0.85M159.1 345.0h0.85M159.4 344.3h0.85M159.4 344.1h0.85M160.0 344.0h0.85M158.8 344.0h0.85M158.8 344.1h0.85M159.5 344.4h0.85M159.6 344.0h0.85M159.3 344.3h0.85M158.8 341.5h0.85M159.4 341.9h0.85M159.2 340.9h0.85M159.6 342.3h0.85M159.0 341.8h0.85M160.2 341.6h0.85M159.0 342.3h0.85M159.7 341.0h0.85M159.7 341.8h0.85M158.7 341.3h0.85M155.3 346.7h0.85M154.5 346.6h0.85M154.4 346.8h0.85M154.2 345.6h0.85M154.6 345.8h0.85M155.0 346.2h0.85M154.9 345.4h0.85M154.4 345.9h0.85M154.7 346.1h0.85M154.5 346.2h0.85M155.4 345.8h0.85M133.4 347.6h0.85M134.5 346.9h0.85M133.2 348.1h0.85M134.0 347.5h0.85M133.4 347.5h0.85M134.4 347.2h0.85M133.1 347.3h0.85M133.1 348.1h0.85M133.3 347.0h0.85M134.1 348.3h0.85M134.4 348.0h0.85M133.8 347.8h0.85M134.0 347.7h0.85M155.1 340.2h0.85M154.8 339.5h0.85M154.3 339.3h0.85M154.3 340.0h0.85M154.8 340.2h0.85M154.5 340.7h0.85M154.3 339.7h0.85M154.5 340.5h0.85M154.4 339.4h0.85M155.0 339.6h0.85M140.2 343.8h0.85M139.6 343.7h0.85M139.8 342.7h0.85M139.5 342.9h0.85M139.3 343.6h0.85M140.6 342.8h0.85M156.2 340.0h0.85M156.9 340.1h0.85M157.2 340.3h0.85M156.6 340.5h0.85M155.8 340.0h0.85M156.5 339.7h0.85M157.0 339.9h0.85M146.3 351.2h0.85M145.6 350.7h0.85M146.1 350.4h0.85M145.4 349.9h0.85M146.3 350.9h0.85M145.6 350.3h0.85M145.7 351.0h0.85M132.5 347.6h0.85M132.3 348.0h0.85M132.7 347.0h0.85M132.6 347.1h0.85M133.1 348.3h0.85M132.5 347.0h0.85M132.3 347.5h0.85M133.1 347.8h0.85M135.0 348.1h0.85M135.0 347.7h0.85M135.9 348.2h0.85M135.8 347.2h0.85M134.9 347.1h0.85M135.1 347.1h0.85M135.9 348.1h0.85M136.0 348.3h0.85M135.8 347.0h0.85M136.2 349.7h0.85M137.5 349.7h0.85M137.1 349.7h0.85M136.4 348.5h0.85M137.0 349.8h0.85M137.4 349.3h0.85M136.8 349.0h0.85M136.3 349.4h0.85M159.7 343.1h0.85M159.0 343.6h0.85M160.0 342.4h0.85M152.2 347.3h0.85M151.5 347.5h0.85M152.3 347.1h0.85M153.1 345.5h0.85M153.0 346.2h0.85M153.4 345.9h0.85M154.2 345.6h0.85M153.9 346.3h0.85M153.8 346.6h0.85M153.2 345.4h0.85M153.1 346.7h0.85M154.0 346.3h0.85M153.8 345.5h0.85M146.5 342.1h0.85M146.0 341.9h0.85M146.6 341.0h0.85M145.5 342.2h0.85M146.4 340.9h0.85M146.4 341.7h0.85M158.6 344.2h0.85M157.7 344.2h0.85M157.8 344.7h0.85M157.9 344.4h0.85M158.4 344.5h0.85M157.7 344.6h0.85M150.4 348.8h0.85M150.1 349.4h0.85M150.0 348.8h0.85M150.2 348.4h0.85M150.0 348.6h0.85M150.9 349.4h0.85M150.7 349.8h0.85M150.0 348.4h0.85M150.0 348.8h0.85M139.7 351.1h0.85M139.7 350.3h0.85M140.1 350.7h0.85M140.0 351.1h0.85M139.5 351.1h0.85M140.5 351.3h0.85M150.5 341.1h0.85M150.1 341.8h0.85M150.9 342.2h0.85M150.5 341.7h0.85M150.7 341.2h0.85M149.9 342.0h0.85M150.6 341.5h0.85M155.8 344.3h0.85M156.9 345.0h0.85M156.4 344.2h0.85M156.3 343.9h0.85M156.4 345.1h0.85M156.1 343.9h0.85M156.3 344.5h0.85M152.2 341.0h0.85M152.5 342.1h0.85M152.3 341.8h0.85M151.8 341.2h0.85M151.3 341.7h0.85M152.6 340.9h0.85M152.5 341.8h0.85" stroke="#1f6cff" stroke-width="0.85" fill="none"/><path d="M136.6 345.6h0.85M137.3 346.3h0.85M137.4 345.5h0.85M136.7 345.5h0.85M137.1 346.7h0.85M137.2 346.2h0.85M146.8 341.1h0.85M147.7 341.9h0.85M146.7 341.8h0.85M146.8 341.1h0.85M148.1 342.3h0.85M146.8 341.2h0.85M147.8 342.1h0.85M147.9 341.1h0.85M147.5 342.1h0.85M154.4 344.3h0.85M154.5 344.1h0.85M155.0 345.1h0.85M155.2 344.5h0.85M154.9 344.0h0.85M154.9 344.4h0.85M154.9 344.2h0.85M137.6 348.0h0.85M136.9 347.3h0.85M137.6 347.5h0.85M136.2 348.1h0.85M136.2 347.0h0.85M136.1 347.7h0.85M136.6 348.0h0.85M137.5 347.2h0.85M136.8 347.5h0.85M137.4 348.1h0.85M149.0 342.0h0.85M149.1 340.9h0.85M149.6 341.0h0.85M149.5 342.3h0.85M149.6 341.5h0.85M149.0 340.9h0.85M149.5 340.9h0.85M148.4 342.0h0.85M157.3 342.0h0.85M157.8 341.2h0.85M157.5 342.2h0.85M158.7 341.7h0.85M157.8 341.3h0.85M158.1 340.9h0.85M158.3 342.2h0.85M158.5 341.0h0.85M157.5 341.9h0.85M158.4 341.3h0.85M157.6 342.3h0.85M157.3 341.6h0.85M158.4 341.9h0.85M157.7 342.0h0.85M152.8 345.3h0.85M152.7 344.5h0.85M153.7 343.9h0.85M153.7 344.0h0.85M154.0 344.5h0.85M152.9 344.5h0.85M153.5 345.3h0.85M138.4 344.1h0.85M137.8 345.0h0.85M138.5 344.6h0.85M139.0 344.8h0.85M139.1 345.0h0.85M137.7 344.4h0.85M138.8 345.2h0.85M158.3 343.2h0.85M158.4 343.0h0.85M158.5 342.5h0.85M158.3 342.5h0.85M158.3 342.5h0.85M158.4 343.6h0.85M157.4 343.4h0.85M158.6 343.6h0.85M157.5 343.5h0.85M158.3 343.4h0.85M157.5 342.5h0.85M157.2 342.4h0.85M158.6 342.8h0.85M158.4 342.6h0.85M158.3 343.3h0.85M151.6 345.6h0.85M152.7 346.7h0.85M151.8 345.7h0.85M152.3 346.8h0.85M151.8 345.8h0.85M152.3 345.4h0.85M152.6 346.4h0.85M152.4 345.7h0.85M152.4 346.7h0.85M151.7 345.4h0.85M151.5 346.1h0.85M152.6 345.5h0.85M152.7 341.1h0.85M153.6 342.1h0.85M153.3 341.1h0.85M153.6 341.7h0.85M153.6 340.9h0.85M153.1 341.7h0.85M153.7 341.1h0.85M153.3 340.9h0.85M152.8 342.0h0.85M153.9 341.6h0.85M152.7 341.4h0.85M153.7 341.8h0.85M153.4 342.3h0.85M153.2 341.5h0.85M154.0 341.2h0.85M153.9 342.0h0.85M153.9 342.1h0.85M141.5 343.8h0.85M141.3 342.6h0.85M142.1 343.2h0.85M140.8 343.6h0.85M141.0 343.6h0.85M141.1 343.8h0.85M140.7 343.2h0.85M142.1 343.2h0.85M140.7 342.5h0.85M142.0 342.6h0.85M144.7 351.0h0.85M145.1 351.0h0.85M144.5 350.2h0.85M145.0 350.0h0.85M144.5 351.3h0.85M145.0 351.1h0.85M143.9 350.2h0.85M144.4 350.2h0.85M144.2 350.1h0.85M145.1 350.7h0.85M144.2 350.1h0.85M144.3 350.6h0.85M144.0 350.1h0.85M141.1 350.2h0.85M141.4 350.9h0.85M141.4 350.7h0.85M140.8 350.8h0.85M142.1 351.3h0.85M140.7 350.2h0.85M141.6 350.4h0.85M141.4 350.7h0.85M141.6 350.3h0.85M142.0 350.9h0.85M137.9 348.9h0.85M138.3 348.5h0.85M138.7 348.5h0.85M139.1 348.5h0.85M138.0 348.7h0.85M151.3 343.7h0.85M152.2 342.9h0.85M151.5 343.5h0.85M151.6 343.3h0.85M151.7 343.5h0.85M151.6 343.7h0.85M152.1 343.3h0.85M151.9 342.6h0.85M151.4 343.3h0.85M151.5 342.7h0.85M152.3 342.6h0.85M151.2 342.5h0.85M152.7 343.8h0.85M154.1 343.6h0.85M153.9 342.4h0.85M153.2 343.8h0.85M152.9 343.2h0.85M153.3 343.2h0.85M152.7 343.2h0.85M152.9 343.1h0.85M154.9 341.9h0.85M154.6 341.7h0.85M154.5 341.0h0.85M155.4 341.4h0.85M154.2 341.3h0.85M154.4 341.7h0.85M155.0 342.2h0.85M155.6 341.5h0.85M156.5 342.0h0.85M156.4 342.1h0.85M156.2 341.7h0.85M156.2 341.4h0.85M155.8 341.3h0.85M156.7 341.7h0.85M157.1 341.5h0.85M156.8 341.9h0.85M156.1 341.8h0.85M156.7 341.7h0.85M156.1 341.1h0.85M156.6 342.0h0.85M155.7 341.9h0.85M156.5 341.9h0.85M151.8 343.9h0.85M151.4 345.1h0.85M152.5 344.9h0.85M151.7 344.3h0.85M151.6 345.1h0.85M149.6 349.0h0.85M149.3 349.2h0.85M148.7 349.3h0.85M149.6 349.8h0.85M148.5 349.9h0.85M149.6 349.4h0.85M148.4 349.1h0.85M149.6 349.3h0.85M149.0 349.0h0.85M149.3 349.0h0.85M148.9 349.2h0.85M148.2 349.4h0.85M148.4 348.5h0.85M148.9 348.7h0.85M149.0 348.8h0.85M149.5 349.1h0.85M149.1 348.6h0.85M156.8 343.3h0.85M156.7 342.8h0.85M155.7 342.5h0.85M156.0 343.1h0.85M155.8 343.7h0.85M156.8 343.8h0.85M157.0 342.6h0.85M155.9 343.4h0.85M156.9 342.7h0.85M156.2 343.7h0.85M155.3 343.0h0.85M154.8 343.5h0.85M154.6 343.8h0.85M155.5 343.0h0.85M155.4 342.7h0.85M155.5 343.2h0.85M155.2 343.4h0.85M155.1 343.5h0.85M155.4 343.5h0.85M154.6 342.9h0.85M154.4 342.5h0.85M154.3 342.6h0.85M154.9 343.6h0.85M154.3 342.5h0.85M154.6 342.7h0.85M142.9 342.5h0.85M142.4 343.2h0.85M142.3 342.7h0.85M142.2 342.6h0.85M142.6 343.2h0.85M142.2 343.3h0.85M142.8 343.2h0.85M143.4 343.0h0.85M143.6 343.6h0.85M142.4 350.1h0.85M142.7 350.7h0.85M143.0 350.7h0.85M142.5 351.3h0.85M143.3 350.0h0.85M143.1 350.1h0.85M143.0 350.2h0.85M143.2 350.4h0.85M142.2 350.4h0.85M142.3 350.5h0.85M142.7 351.2h0.85M142.6 350.3h0.85M142.4 349.9h0.85M142.5 351.3h0.85M143.4 350.3h0.85M151.0 347.7h0.85M151.1 347.9h0.85M150.0 348.1h0.85M150.4 347.0h0.85M150.9 347.4h0.85M151.1 347.8h0.85M150.0 348.1h0.85M149.7 348.1h0.85M149.9 347.5h0.85M150.7 348.0h0.85M150.5 347.6h0.85M151.1 343.4h0.85M150.1 343.5h0.85M151.1 343.5h0.85M150.6 343.5h0.85M150.2 343.3h0.85M149.9 342.7h0.85M149.8 342.4h0.85M150.1 343.6h0.85M150.9 342.3h0.85M151.2 343.3h0.85M144.7 342.6h0.85M144.2 342.5h0.85M144.5 342.4h0.85M143.8 342.9h0.85M145.1 343.1h0.85M144.3 343.5h0.85M144.7 343.4h0.85M147.1 348.5h0.85M146.7 349.9h0.85M147.3 349.0h0.85M147.7 348.5h0.85M147.7 349.2h0.85M147.7 349.6h0.85M147.5 348.5h0.85M147.2 349.5h0.85M148.1 349.1h0.85M138.0 345.8h0.85M138.0 346.8h0.85M138.5 346.6h0.85M138.4 345.7h0.85M137.8 346.7h0.85M137.6 346.6h0.85M138.3 345.5h0.85M138.3 346.3h0.85M138.5 345.6h0.85M138.5 345.4h0.85M138.4 346.3h0.85M138.9 346.9h0.85M138.4 347.3h0.85M138.6 347.9h0.85M137.9 348.1h0.85M138.2 346.9h0.85M138.0 347.9h0.85M138.3 347.5h0.85M137.7 347.8h0.85M138.9 347.0h0.85M139.1 347.9h0.85M138.0 347.2h0.85M138.9 348.3h0.85M137.8 347.0h0.85M138.1 348.1h0.85M151.1 343.9h0.85M149.9 345.2h0.85M150.6 345.1h0.85M150.4 344.6h0.85M149.8 344.6h0.85M150.4 343.9h0.85M150.5 344.7h0.85M150.3 344.0h0.85M151.0 345.3h0.85M149.9 344.0h0.85M150.3 344.0h0.85M151.1 346.7h0.85M150.1 346.0h0.85M149.7 346.0h0.85M149.8 346.6h0.85M150.7 345.4h0.85M150.4 346.2h0.85M151.1 346.4h0.85M149.8 345.6h0.85M150.1 346.5h0.85M150.4 345.6h0.85M150.4 345.6h0.85M149.7 346.8h0.85M140.0 345.0h0.85M140.0 344.3h0.85M139.7 344.5h0.85M139.2 345.2h0.85M139.3 344.6h0.85M139.5 345.3h0.85M140.0 344.1h0.85M140.3 344.9h0.85M140.2 344.3h0.85M140.1 344.1h0.85M140.2 344.8h0.85M139.2 343.9h0.85M140.0 345.1h0.85M140.2 344.3h0.85M139.8 344.7h0.85M139.7 344.6h0.85M145.9 342.7h0.85M145.8 342.9h0.85M145.7 343.6h0.85M145.3 342.5h0.85M146.6 343.7h0.85M145.6 343.7h0.85M145.8 343.6h0.85M145.2 342.9h0.85M145.7 342.5h0.85M146.3 342.4h0.85M145.7 343.5h0.85M146.1 343.8h0.85M146.4 349.6h0.85M145.7 348.4h0.85M145.4 348.4h0.85M145.5 349.4h0.85M145.3 348.9h0.85M146.2 349.7h0.85M145.4 348.4h0.85M148.5 343.0h0.85M149.2 343.6h0.85M148.7 343.4h0.85M149.6 342.8h0.85M148.3 343.3h0.85M149.0 342.4h0.85M149.6 343.8h0.85M148.2 342.7h0.85M148.2 343.7h0.85M148.2 342.9h0.85M148.6 343.0h0.85M148.7 343.3h0.85M149.6 343.6h0.85M148.5 342.4h0.85M148.3 343.7h0.85M148.9 343.0h0.85M149.6 343.4h0.85M139.6 348.6h0.85M140.2 348.8h0.85M139.7 349.3h0.85M139.3 348.9h0.85M139.2 348.4h0.85M139.9 348.5h0.85M139.5 348.7h0.85M140.2 349.2h0.85M140.6 348.7h0.85M140.4 349.0h0.85M140.0 348.4h0.85M140.2 349.7h0.85M139.1 348.6h0.85M139.5 349.0h0.85M139.9 349.1h0.85M139.5 349.5h0.85" stroke="#0aa6f0" stroke-width="0.85" fill="none"/><path d="M148.1 342.4h0.85M147.0 343.6h0.85M146.8 342.8h0.85M147.7 343.3h0.85M147.5 343.8h0.85M147.5 343.6h0.85M147.8 343.7h0.85M148.0 342.4h0.85M146.7 342.9h0.85M146.9 342.9h0.85M147.4 342.6h0.85M147.9 343.3h0.85M147.9 343.1h0.85M148.0 342.8h0.85M148.1 343.2h0.85M146.7 343.6h0.85M147.4 343.6h0.85M147.4 343.6h0.85M146.8 343.5h0.85M148.6 347.7h0.85M148.2 348.1h0.85M149.6 347.8h0.85M148.5 347.1h0.85M148.6 348.0h0.85M148.8 348.1h0.85M149.3 348.2h0.85M148.4 347.6h0.85M149.1 347.0h0.85M149.0 347.2h0.85M148.9 347.4h0.85M149.4 347.6h0.85M148.3 347.1h0.85M148.3 347.6h0.85M141.4 344.5h0.85M142.1 345.1h0.85M141.0 344.0h0.85M141.7 344.9h0.85M140.7 344.7h0.85M141.7 344.9h0.85M141.9 344.4h0.85M141.7 343.9h0.85M141.2 344.1h0.85M140.9 344.4h0.85M141.6 345.2h0.85M141.2 344.5h0.85M141.7 344.3h0.85M141.2 344.1h0.85M144.7 348.8h0.85M143.9 349.1h0.85M143.7 349.2h0.85M144.5 348.6h0.85M145.0 348.7h0.85M144.1 348.8h0.85M143.9 349.4h0.85M144.5 349.3h0.85M144.3 348.6h0.85M144.4 348.6h0.85M144.4 349.0h0.85M144.6 349.6h0.85M144.4 349.3h0.85M148.6 344.3h0.85M149.3 344.1h0.85M148.8 343.9h0.85M149.1 344.0h0.85M149.1 345.2h0.85M148.2 344.8h0.85M148.9 344.1h0.85M148.2 345.2h0.85M149.1 345.3h0.85M148.4 344.0h0.85M141.6 348.6h0.85M142.1 348.6h0.85M141.1 348.7h0.85M140.9 349.5h0.85M141.2 349.2h0.85M141.1 349.9h0.85M141.5 349.2h0.85M142.1 348.7h0.85M142.1 349.6h0.85M140.9 349.3h0.85M141.4 349.7h0.85M141.9 349.7h0.85M140.7 348.4h0.85M143.5 345.1h0.85M143.3 344.8h0.85M143.2 344.6h0.85M143.1 344.5h0.85M143.6 345.1h0.85M143.6 344.4h0.85M142.9 344.8h0.85M142.9 345.0h0.85M142.6 344.8h0.85M143.4 344.5h0.85M143.2 345.0h0.85M143.3 345.0h0.85M143.2 344.3h0.85M142.7 345.1h0.85M142.8 344.1h0.85M140.1 345.8h0.85M139.2 346.8h0.85M139.9 345.5h0.85M139.8 346.3h0.85M140.2 346.4h0.85M140.2 345.8h0.85M140.2 345.9h0.85M140.0 345.7h0.85M139.2 345.9h0.85M139.4 345.7h0.85M140.3 346.2h0.85M140.2 346.3h0.85M140.1 346.8h0.85M140.6 345.4h0.85M140.3 346.7h0.85M139.7 345.4h0.85M140.1 345.9h0.85M140.3 346.8h0.85M139.2 346.0h0.85M139.7 347.9h0.85M139.6 347.3h0.85M139.9 347.9h0.85M139.2 347.5h0.85M139.3 347.4h0.85M139.5 347.3h0.85M139.5 347.6h0.85M140.4 348.3h0.85M139.2 347.9h0.85M139.4 347.0h0.85M140.0 347.1h0.85M139.8 347.3h0.85M144.8 344.6h0.85M144.5 345.2h0.85M144.1 345.2h0.85M144.3 345.3h0.85M144.7 345.1h0.85M144.0 344.4h0.85M143.8 345.4h0.85M144.1 344.9h0.85M144.0 344.9h0.85M143.8 344.0h0.85M144.1 344.7h0.85M144.9 345.3h0.85M144.5 345.2h0.85M148.7 345.8h0.85M149.4 345.7h0.85M149.7 345.5h0.85M148.3 346.1h0.85M148.5 345.6h0.85M149.5 346.3h0.85M149.3 346.6h0.85M149.0 346.5h0.85M148.6 345.4h0.85M148.6 346.4h0.85M149.5 346.3h0.85M148.6 346.6h0.85M148.9 346.3h0.85M149.4 345.5h0.85M146.8 347.5h0.85M147.4 348.1h0.85M147.7 347.2h0.85M147.7 347.8h0.85M148.2 347.8h0.85M147.0 348.4h0.85M147.2 348.0h0.85M147.7 347.8h0.85M148.2 348.0h0.85M146.8 346.9h0.85M147.0 347.1h0.85M147.3 347.2h0.85M148.0 347.3h0.85M146.8 347.5h0.85M148.0 348.2h0.85M146.8 347.4h0.85M143.7 349.4h0.85M142.8 349.6h0.85M142.9 348.6h0.85M143.2 349.5h0.85M143.6 349.7h0.85M143.4 349.8h0.85M143.2 349.6h0.85M142.4 349.8h0.85M142.7 348.6h0.85M143.4 348.8h0.85M142.5 349.1h0.85M142.9 349.0h0.85M143.6 349.2h0.85M142.4 348.7h0.85M142.6 349.0h0.85M145.3 344.9h0.85M145.5 344.3h0.85M146.2 344.1h0.85M145.4 344.7h0.85M146.6 345.3h0.85M146.0 344.8h0.85M146.0 344.5h0.85M146.3 344.8h0.85M145.8 343.9h0.85M145.7 345.1h0.85M145.9 344.5h0.85M145.4 344.6h0.85M146.3 344.4h0.85M146.6 344.5h0.85M148.0 344.7h0.85M147.1 344.7h0.85M147.5 344.9h0.85M147.8 344.9h0.85M147.5 345.1h0.85M147.3 344.3h0.85M146.7 344.1h0.85M148.0 345.0h0.85M147.1 344.6h0.85M147.0 345.2h0.85M147.9 344.7h0.85M145.8 347.1h0.85M146.5 347.1h0.85M146.0 348.3h0.85M145.8 348.3h0.85M145.5 348.3h0.85M145.9 347.5h0.85M146.3 347.0h0.85M145.4 347.2h0.85M146.2 347.8h0.85M145.8 347.9h0.85M146.1 347.8h0.85M145.2 347.5h0.85M147.9 346.5h0.85M147.9 346.6h0.85M147.5 346.8h0.85M148.0 346.7h0.85M147.3 346.8h0.85M147.2 346.4h0.85M147.6 346.7h0.85M146.9 346.1h0.85M146.7 346.3h0.85M147.1 346.4h0.85M147.2 346.7h0.85M147.5 346.0h0.85M146.8 346.4h0.85M146.8 345.9h0.85M148.1 346.7h0.85M146.8 346.2h0.85M148.0 345.9h0.85M147.8 346.1h0.85M147.1 345.9h0.85M147.5 346.0h0.85M147.4 345.6h0.85M148.1 346.6h0.85M148.0 346.0h0.85M146.9 345.8h0.85M141.6 346.1h0.85M141.0 345.4h0.85M142.1 346.2h0.85M141.8 346.8h0.85M140.7 345.7h0.85M141.5 345.5h0.85M141.0 345.8h0.85M142.1 345.9h0.85M141.0 345.5h0.85M141.6 346.1h0.85M141.6 345.7h0.85M142.0 346.2h0.85M140.7 346.5h0.85M141.3 345.5h0.85M141.5 345.4h0.85M144.4 346.9h0.85M144.3 347.7h0.85M144.5 348.2h0.85M144.8 348.3h0.85M145.1 347.2h0.85M144.6 347.2h0.85M144.5 348.2h0.85M144.6 347.0h0.85M144.2 347.1h0.85M144.1 347.0h0.85M144.8 347.1h0.85M144.5 347.6h0.85M144.3 347.9h0.85M144.8 347.4h0.85M145.0 347.2h0.85M144.1 348.0h0.85M145.8 345.6h0.85M145.3 345.6h0.85M145.5 345.6h0.85M146.6 346.7h0.85M146.0 346.4h0.85M146.0 345.6h0.85M146.4 346.2h0.85M145.6 346.6h0.85M146.5 345.9h0.85M145.8 346.2h0.85M145.8 346.7h0.85M146.6 346.0h0.85M146.1 346.6h0.85M145.6 346.5h0.85M145.5 346.1h0.85M145.3 346.7h0.85M145.8 346.1h0.85M145.5 346.1h0.85" stroke="#10c8b8" stroke-width="0.85" fill="none"/><path d="M144.4 346.1h0.85M144.8 346.8h0.85M143.9 346.7h0.85M144.9 346.7h0.85M144.9 345.4h0.85M144.2 345.5h0.85M144.9 346.3h0.85M144.1 346.5h0.85M143.7 345.8h0.85M144.0 346.2h0.85M145.1 346.3h0.85M140.8 348.1h0.85M141.4 348.0h0.85M141.1 347.5h0.85M140.7 348.4h0.85M141.3 347.3h0.85M140.7 347.9h0.85M141.9 346.9h0.85M141.1 347.6h0.85M140.8 348.4h0.85M140.9 347.1h0.85M140.9 347.7h0.85M141.2 346.9h0.85M141.9 347.3h0.85M141.9 348.3h0.85M141.7 348.3h0.85M141.3 347.0h0.85M142.0 347.7h0.85M143.6 346.6h0.85M142.9 345.6h0.85M143.4 346.1h0.85M143.5 345.8h0.85M142.9 345.4h0.85M143.2 346.7h0.85M143.3 345.5h0.85M142.2 345.7h0.85M142.9 346.5h0.85M143.3 346.3h0.85M143.3 346.7h0.85M143.3 346.2h0.85M143.4 345.5h0.85M143.0 346.3h0.85M142.4 346.2h0.85M143.3 346.6h0.85M143.6 347.2h0.85M143.4 348.2h0.85M142.6 348.2h0.85M143.1 348.3h0.85M142.8 348.3h0.85M143.4 347.7h0.85M142.6 347.2h0.85M142.6 347.4h0.85M142.4 347.0h0.85M143.3 346.9h0.85M142.3 347.7h0.85M143.2 347.8h0.85M143.5 347.7h0.85M142.8 347.9h0.85M142.6 348.3h0.85M142.5 347.8h0.85M143.5 348.4h0.85M143.0 347.5h0.85M143.0 348.1h0.85M143.5 347.7h0.85M142.6 347.2h0.85M143.3 347.2h0.85M143.3 347.3h0.85M143.5 347.0h0.85M142.2 348.1h0.85" stroke="#22cc5a" stroke-width="0.85" fill="none"/>
<path d="M266.5 349.3h0.85M231.2 365.9h0.85M263.0 329.3h0.85M229.8 358.8h0.85M224.1 358.6h0.85M258.1 328.2h0.85M261.4 335.0h0.85M220.5 360.6h0.85M247.2 355.3h0.85M229.2 357.2h0.85M232.4 329.7h0.85M259.6 328.4h0.85M259.8 330.7h0.85M243.6 354.1h0.85M258.0 331.9h0.85M256.0 347.5h0.85M254.6 330.3h0.85M250.5 351.5h0.85M249.2 352.9h0.85M253.5 330.6h0.85M258.9 343.4h0.85M218.0 359.1h0.85M254.5 346.5h0.85M217.7 358.7h0.85M259.4 339.2h0.85M260.3 338.7h0.85M252.5 349.1h0.85M222.5 357.6h0.85M233.1 331.3h0.85M240.1 329.2h0.85M254.3 331.5h0.85M239.9 354.4h0.85M239.3 354.9h0.85M234.7 330.6h0.85M253.9 346.5h0.85M242.0 328.7h0.85M256.1 334.4h0.85M257.5 335.5h0.85M258.3 337.0h0.85M258.7 336.5h0.85M258.3 341.4h0.85M221.4 333.5h0.85M238.8 354.9h0.85M257.3 344.7h0.85M250.7 348.4h0.85M258.0 339.6h0.85M254.6 334.4h0.85M236.4 330.0h0.85M247.2 351.0h0.85M217.5 335.6h0.85M224.3 356.6h0.85M235.3 354.2h0.85M238.0 331.1h0.85M257.2 339.0h0.85M226.4 334.1h0.85M249.3 349.1h0.85M246.0 351.0h0.85M252.0 345.7h0.85M247.5 330.1h0.85M248.3 331.1h0.85M241.9 330.2h0.85M244.3 331.2h0.85M238.0 353.9h0.85M245.6 331.0h0.85M242.6 330.7h0.85M221.5 356.2h0.85M227.6 334.3h0.85M227.2 333.6h0.85M231.9 354.1h0.85M253.3 344.1h0.85M255.2 343.0h0.85M254.5 342.0h0.85M254.7 342.9h0.85M251.0 332.4h0.85M251.8 333.2h0.85M251.3 346.2h0.85M255.4 340.2h0.85M255.7 339.2h0.85M255.3 341.0h0.85M248.8 347.3h0.85M230.0 334.1h0.85M237.2 331.4h0.85M237.3 331.9h0.85M252.6 344.7h0.85M252.2 344.7h0.85M221.9 334.7h0.85M221.5 335.2h0.85M217.2 356.4h0.85M254.0 343.1h0.85M242.9 352.0h0.85M236.2 353.5h0.85" stroke="#8c96ff" stroke-width="0.85" fill="none"/><path d="M253.4 337.0h0.85M245.3 332.0h0.85M249.6 332.5h0.85M247.4 348.6h0.85M246.8 332.3h0.85M246.2 331.6h0.85M242.2 331.9h0.85M241.4 332.7h0.85M231.1 333.3h0.85M230.8 333.8h0.85M224.6 335.8h0.85M225.5 334.5h0.85M243.3 332.2h0.85M243.6 332.6h0.85M250.5 344.2h0.85M250.6 343.5h0.85M247.3 331.7h0.85M248.0 331.7h0.85M254.0 340.6h0.85M246.1 349.5h0.85M245.7 349.7h0.85M251.7 342.8h0.85M226.7 355.3h0.85M226.7 335.3h0.85M226.9 335.7h0.85M251.2 333.5h0.85M233.5 352.6h0.85M234.6 353.6h0.85M234.1 353.1h0.85M231.8 333.6h0.85M253.0 339.2h0.85M218.8 336.9h0.85M238.2 352.0h0.85M233.9 333.2h0.85M244.5 333.4h0.85M247.9 347.4h0.85M235.2 334.2h0.85M233.1 353.0h0.85M231.7 352.4h0.85M232.6 353.6h0.85M231.8 352.9h0.85M242.7 334.1h0.85M236.4 351.7h0.85M236.5 351.0h0.85M228.9 335.4h0.85M230.2 334.4h0.85M251.0 342.1h0.85M240.9 333.9h0.85M241.4 333.7h0.85M248.3 333.1h0.85M240.7 334.3h0.85M239.7 333.7h0.85M251.7 341.1h0.85M248.5 333.0h0.85M248.4 333.8h0.85M248.4 332.9h0.85M248.7 333.0h0.85M248.5 333.2h0.85M245.2 350.0h0.85M244.6 349.9h0.85M236.4 333.0h0.85M236.3 333.3h0.85M238.7 333.5h0.85M238.3 333.8h0.85M239.0 333.9h0.85M220.3 336.0h0.85M219.9 336.6h0.85M231.0 353.0h0.85M230.8 352.8h0.85M223.1 354.6h0.85M245.7 348.1h0.85M246.5 348.1h0.85M245.9 348.7h0.85M235.5 351.6h0.85M247.8 344.9h0.85M247.9 345.4h0.85M248.3 346.0h0.85M250.6 335.4h0.85M250.8 334.7h0.85M251.2 334.6h0.85M252.6 336.1h0.85M252.0 337.2h0.85M252.0 337.1h0.85M230.4 334.6h0.85M244.8 335.1h0.85M244.9 335.5h0.85M242.6 350.7h0.85M243.6 349.8h0.85M243.3 349.9h0.85M252.6 339.3h0.85M234.7 351.3h0.85M249.6 343.2h0.85M248.8 343.2h0.85M247.0 334.5h0.85M247.1 335.0h0.85M249.4 335.5h0.85M229.4 353.3h0.85M250.2 341.3h0.85M243.6 334.5h0.85M243.3 334.9h0.85M242.9 335.4h0.85M242.5 334.9h0.85M247.6 344.6h0.85M247.4 344.7h0.85M247.8 344.9h0.85M222.3 337.3h0.85M222.0 337.2h0.85M252.0 338.0h0.85M251.5 338.0h0.85M252.2 338.0h0.85M251.6 338.4h0.85M252.8 338.8h0.85M252.1 337.7h0.85M241.3 349.9h0.85M241.1 349.8h0.85M240.9 349.8h0.85M241.9 350.2h0.85M241.0 350.9h0.85M220.8 354.6h0.85M239.9 334.7h0.85M240.3 349.7h0.85M232.0 335.4h0.85M232.7 335.4h0.85M232.4 335.5h0.85M233.0 335.0h0.85M232.0 335.4h0.85M232.8 334.5h0.85M217.5 355.0h0.85M222.9 337.2h0.85M219.1 354.7h0.85M218.2 354.0h0.85M218.3 355.0h0.85M218.2 354.6h0.85M250.1 336.9h0.85M251.1 336.4h0.85M245.2 348.7h0.85M239.2 335.4h0.85M239.3 334.4h0.85M239.3 350.2h0.85M239.3 349.4h0.85M238.0 350.5h0.85M234.4 334.5h0.85M227.0 336.4h0.85M237.5 335.4h0.85M236.5 335.1h0.85M227.3 337.4h0.85M235.1 335.5h0.85M245.7 346.3h0.85M245.8 345.0h0.85M228.4 353.1h0.85M228.6 352.9h0.85M229.3 336.4h0.85M237.3 350.1h0.85M237.4 349.9h0.85M251.1 339.0h0.85M250.7 339.9h0.85M251.1 339.3h0.85M251.2 339.3h0.85M249.4 340.6h0.85M248.8 340.5h0.85M248.8 340.6h0.85M248.2 342.7h0.85M250.4 338.4h0.85M250.3 338.1h0.85M250.3 337.7h0.85M251.0 338.1h0.85M248.0 337.1h0.85M247.4 337.3h0.85M248.1 337.0h0.85M247.6 336.9h0.85M247.7 336.1h0.85M247.4 336.3h0.85M243.8 348.6h0.85M243.2 349.4h0.85M245.8 336.9h0.85M218.1 338.2h0.85M245.6 343.7h0.85M230.8 337.0h0.85M217.9 338.1h0.85M217.7 338.0h0.85M217.3 337.5h0.85M226.2 353.7h0.85M226.4 353.0h0.85M226.6 353.0h0.85M226.4 353.3h0.85M230.9 351.5h0.85M230.9 351.5h0.85M244.4 346.5h0.85M243.9 347.3h0.85M244.4 347.8h0.85M244.6 346.9h0.85M244.3 347.0h0.85M244.8 346.5h0.85M244.5 337.0h0.85M248.5 338.7h0.85M248.7 338.1h0.85M249.9 337.6h0.85M241.9 348.7h0.85M241.0 349.3h0.85M249.9 339.2h0.85M249.9 339.8h0.85M249.1 339.9h0.85M249.2 339.6h0.85M234.4 349.5h0.85M233.2 349.7h0.85M233.3 350.1h0.85M233.4 350.0h0.85M243.1 337.1h0.85M241.3 336.6h0.85M241.1 336.9h0.85M241.9 336.6h0.85M240.2 335.9h0.85M240.1 336.0h0.85M240.0 336.1h0.85M240.0 337.0h0.85M225.3 353.0h0.85" stroke="#5a6cff" stroke-width="0.85" fill="none"/><path d="M247.8 340.8h0.85M247.5 341.1h0.85M247.4 341.7h0.85M238.2 337.0h0.85M238.5 336.3h0.85M240.1 349.1h0.85M239.4 348.8h0.85M240.6 348.4h0.85M240.3 349.2h0.85M239.8 348.4h0.85M244.2 346.3h0.85M244.8 345.2h0.85M245.1 345.3h0.85M244.7 346.4h0.85M244.1 345.2h0.85M247.1 338.4h0.85M247.1 338.0h0.85M247.2 337.5h0.85M246.9 337.9h0.85M243.3 347.8h0.85M243.4 347.9h0.85M242.6 346.7h0.85M242.9 347.0h0.85M245.7 342.2h0.85M246.2 342.4h0.85M245.4 342.8h0.85M231.7 349.6h0.85M232.8 350.3h0.85M238.0 348.9h0.85M238.3 348.6h0.85M237.3 336.2h0.85M236.8 337.2h0.85M236.9 336.8h0.85M236.8 336.9h0.85M236.6 336.6h0.85M247.2 340.3h0.85M248.2 339.9h0.85M245.1 343.5h0.85M245.0 343.6h0.85M244.2 344.8h0.85M243.9 344.4h0.85M244.0 343.5h0.85M222.8 352.7h0.85M224.0 353.7h0.85M233.5 337.1h0.85M234.6 337.3h0.85M233.4 336.4h0.85M234.1 336.7h0.85M233.9 336.4h0.85M233.8 336.3h0.85M236.7 349.4h0.85M237.5 349.1h0.85M236.8 348.6h0.85M236.3 349.3h0.85M237.5 348.4h0.85M228.7 352.0h0.85M234.9 337.3h0.85M235.8 336.1h0.85M235.3 336.4h0.85M236.1 336.9h0.85M245.9 337.4h0.85M246.3 338.1h0.85M246.2 337.8h0.85M245.4 337.5h0.85M221.1 337.8h0.85M221.9 338.7h0.85M221.4 338.7h0.85M221.3 338.8h0.85M221.3 338.4h0.85M221.6 337.9h0.85M241.5 347.2h0.85M241.4 346.7h0.85M243.4 346.2h0.85M242.8 346.2h0.85M243.0 345.2h0.85M235.6 349.1h0.85M235.3 348.2h0.85M235.0 348.9h0.85M236.1 349.3h0.85M236.2 348.6h0.85M228.9 338.4h0.85M228.9 338.7h0.85M246.1 341.0h0.85M246.8 341.6h0.85M246.4 340.4h0.85M245.6 340.8h0.85M245.4 341.8h0.85M246.7 341.1h0.85M245.4 340.5h0.85M246.2 340.8h0.85M223.2 337.5h0.85M223.7 338.9h0.85M224.0 338.1h0.85M222.4 352.5h0.85M222.3 352.7h0.85M221.6 352.6h0.85M222.3 353.2h0.85M228.5 337.6h0.85M227.7 338.8h0.85M227.8 338.3h0.85M228.4 337.8h0.85M227.8 338.7h0.85M227.6 338.7h0.85M227.6 338.9h0.85M231.1 338.5h0.85M230.8 337.8h0.85M245.4 338.5h0.85M245.0 337.7h0.85M243.9 338.5h0.85M244.2 338.3h0.85M244.6 338.9h0.85M244.3 338.8h0.85M239.8 337.7h0.85M239.7 338.0h0.85M239.5 338.8h0.85M240.2 338.2h0.85M240.7 338.6h0.85M225.2 337.4h0.85M224.6 337.5h0.85M224.8 338.2h0.85M224.4 338.0h0.85M239.7 347.7h0.85M239.4 346.5h0.85M240.3 347.9h0.85M240.0 347.6h0.85M226.5 338.7h0.85M226.6 338.6h0.85M226.0 338.4h0.85M230.4 349.6h0.85M230.3 349.9h0.85M231.6 350.0h0.85M243.5 343.6h0.85M242.6 343.7h0.85M243.7 344.3h0.85M243.7 343.8h0.85M246.3 339.5h0.85M246.4 340.3h0.85M246.3 339.1h0.85M238.2 338.5h0.85M238.7 338.2h0.85M238.7 337.9h0.85M234.1 349.2h0.85M234.6 348.5h0.85M233.4 349.2h0.85M234.3 348.3h0.85M234.4 348.7h0.85M233.9 349.2h0.85M219.9 352.5h0.85M220.1 352.7h0.85M219.5 353.2h0.85M241.2 337.4h0.85M241.3 338.2h0.85M240.8 338.1h0.85M242.3 337.5h0.85M219.5 353.3h0.85M217.9 352.5h0.85M217.6 353.4h0.85M242.7 338.7h0.85M243.8 338.7h0.85M242.9 338.0h0.85M241.8 345.3h0.85M241.0 344.9h0.85M241.7 346.0h0.85M241.3 346.4h0.85M227.6 352.1h0.85M227.3 352.2h0.85M228.2 350.9h0.85M227.3 351.7h0.85M227.7 351.8h0.85M227.6 351.1h0.85M238.1 347.5h0.85M238.7 346.9h0.85M238.4 346.7h0.85M238.8 347.8h0.85M238.9 347.7h0.85M232.8 337.9h0.85M231.9 338.0h0.85M231.7 338.7h0.85M232.4 338.4h0.85M232.1 338.6h0.85M232.9 337.9h0.85M232.4 337.9h0.85M232.8 337.6h0.85M237.0 337.4h0.85M237.6 338.5h0.85M237.7 338.0h0.85M237.0 337.5h0.85M243.2 343.3h0.85M243.2 342.8h0.85M242.9 342.9h0.85M242.8 342.8h0.85M242.5 342.4h0.85M245.1 341.6h0.85M244.8 341.8h0.85M244.4 340.7h0.85M245.3 341.2h0.85M244.2 341.2h0.85M245.3 341.8h0.85M232.0 348.7h0.85M232.0 348.4h0.85M233.0 348.7h0.85M237.8 346.5h0.85M237.1 347.5h0.85M237.7 347.1h0.85M237.7 346.8h0.85M245.2 339.6h0.85M245.2 339.1h0.85M243.8 339.2h0.85M244.9 339.3h0.85M244.6 340.0h0.85M245.3 339.5h0.85M245.2 339.0h0.85M245.1 340.3h0.85M244.6 339.0h0.85M244.1 340.2h0.85M226.5 352.2h0.85M226.4 351.0h0.85M225.6 351.1h0.85M218.5 340.1h0.85M219.0 339.7h0.85M234.6 338.3h0.85M234.4 338.5h0.85M233.8 338.3h0.85M241.5 344.1h0.85M241.5 344.4h0.85M241.7 343.6h0.85M241.3 343.6h0.85M241.0 343.4h0.85M235.7 337.6h0.85M235.1 338.2h0.85M235.9 338.3h0.85M235.9 338.0h0.85M235.2 337.7h0.85M240.1 345.0h0.85M240.5 345.8h0.85M240.4 345.3h0.85M239.8 345.7h0.85M240.1 346.0h0.85M240.1 345.3h0.85M240.6 345.8h0.85M217.6 339.4h0.85M217.7 339.8h0.85M217.4 339.6h0.85M217.3 339.6h0.85M217.7 340.3h0.85M234.8 347.5h0.85M236.2 347.7h0.85M235.8 346.7h0.85M235.0 346.4h0.85M235.1 347.5h0.85M239.7 339.1h0.85M239.4 339.1h0.85M243.0 341.7h0.85M243.1 341.9h0.85M220.2 339.3h0.85M242.4 340.0h0.85M242.8 339.7h0.85M242.4 339.8h0.85M242.4 339.6h0.85M242.9 339.9h0.85M243.3 339.2h0.85M243.7 340.2h0.85M242.7 340.2h0.85M243.5 339.4h0.85M243.1 339.5h0.85M242.4 339.9h0.85M241.9 339.4h0.85M242.1 339.3h0.85M242.1 340.1h0.85M241.9 339.8h0.85M241.7 340.2h0.85M242.3 339.2h0.85M241.0 340.3h0.85M242.2 338.9h0.85M241.7 339.4h0.85M239.2 340.3h0.85M238.5 339.6h0.85M241.6 341.9h0.85M242.0 342.2h0.85M241.7 342.4h0.85M242.3 342.1h0.85M241.3 343.2h0.85M225.2 351.5h0.85M225.5 351.4h0.85M224.2 350.9h0.85M224.8 351.8h0.85M224.8 351.8h0.85M230.0 350.8h0.85M229.0 350.9h0.85M229.8 350.6h0.85M229.2 349.4h0.85M228.8 350.4h0.85M230.1 349.9h0.85M228.8 350.1h0.85M241.6 340.6h0.85M241.0 340.7h0.85M240.8 341.2h0.85M241.0 341.7h0.85M240.8 341.2h0.85M242.1 341.6h0.85M241.1 340.6h0.85M238.2 345.5h0.85M239.1 345.5h0.85M238.5 346.3h0.85M239.3 345.0h0.85M238.9 345.5h0.85M229.4 339.0h0.85M229.0 339.7h0.85M228.9 339.1h0.85M229.8 339.0h0.85M231.4 340.0h0.85M231.0 339.4h0.85M230.6 340.0h0.85M230.6 340.4h0.85M230.3 339.0h0.85M231.3 339.5h0.85M233.6 347.0h0.85M234.7 346.7h0.85M233.9 347.5h0.85M234.1 347.5h0.85M233.4 347.2h0.85M230.8 348.2h0.85M230.8 348.8h0.85M231.4 348.9h0.85M240.6 344.3h0.85M240.2 344.3h0.85M240.4 344.2h0.85M239.5 344.2h0.85M240.8 343.7h0.85M239.9 343.5h0.85M240.7 344.1h0.85M240.8 341.3h0.85M240.2 341.6h0.85M240.8 340.5h0.85M239.8 340.8h0.85M240.4 341.7h0.85M240.7 341.5h0.85M240.8 341.3h0.85M239.3 341.4h0.85M239.4 341.6h0.85M222.1 339.3h0.85M222.4 339.5h0.85M221.1 339.9h0.85M222.0 339.9h0.85M221.1 340.1h0.85M221.4 340.3h0.85M222.5 339.9h0.85M222.1 340.2h0.85M222.5 339.2h0.85M228.3 339.9h0.85M228.2 340.3h0.85M227.7 339.7h0.85M227.9 340.3h0.85M228.6 339.0h0.85M228.0 340.3h0.85M227.8 339.3h0.85M227.7 339.3h0.85M236.3 339.1h0.85M236.6 339.6h0.85M237.3 340.1h0.85M236.5 339.0h0.85M236.3 339.4h0.85M237.1 339.8h0.85M232.0 340.1h0.85M233.0 339.2h0.85M232.4 339.9h0.85M232.2 340.2h0.85M232.9 340.4h0.85M232.7 339.7h0.85M233.0 339.5h0.85M232.7 339.3h0.85M233.2 340.4h0.85M233.0 340.2h0.85M236.4 345.0h0.85M237.0 346.1h0.85M236.4 346.4h0.85M236.9 346.2h0.85" stroke="#2c48ff" stroke-width="0.85" fill="none"/><path d="M223.3 351.2h0.85M223.0 351.5h0.85M222.8 351.9h0.85M223.2 351.4h0.85M224.0 351.7h0.85M223.5 352.0h0.85M239.4 342.5h0.85M239.6 342.6h0.85M239.5 343.3h0.85M240.0 342.9h0.85M240.3 343.4h0.85M239.7 342.8h0.85M240.0 342.5h0.85M226.4 339.8h0.85M225.8 340.1h0.85M225.9 340.1h0.85M226.2 339.3h0.85M226.2 339.2h0.85M226.5 339.0h0.85M227.0 339.3h0.85M234.2 339.6h0.85M234.1 340.0h0.85M234.2 339.3h0.85M233.8 339.7h0.85M234.3 339.6h0.85M238.7 341.6h0.85M238.3 340.7h0.85M238.6 340.9h0.85M237.9 341.1h0.85M239.1 341.4h0.85M239.0 340.9h0.85M238.5 340.9h0.85M239.2 340.5h0.85M238.2 341.3h0.85M238.7 341.0h0.85M235.5 339.0h0.85M235.7 339.8h0.85M235.7 339.1h0.85M235.0 339.8h0.85M236.2 339.9h0.85M235.1 340.4h0.85M235.4 340.0h0.85M234.7 340.2h0.85M235.9 339.6h0.85M235.7 339.7h0.85M235.7 339.2h0.85M223.3 340.2h0.85M223.4 339.9h0.85M224.0 339.0h0.85M236.0 345.4h0.85M236.0 345.1h0.85M234.9 346.0h0.85M234.8 345.7h0.85M235.3 345.8h0.85M235.8 345.7h0.85M232.8 347.0h0.85M231.7 346.9h0.85M231.7 347.8h0.85M233.0 347.5h0.85M224.7 339.8h0.85M225.3 339.8h0.85M224.3 339.0h0.85M225.2 339.2h0.85M224.9 339.5h0.85M225.4 340.4h0.85M225.0 339.0h0.85M238.0 343.7h0.85M238.8 343.8h0.85M238.0 344.7h0.85M238.2 343.7h0.85M238.6 344.1h0.85M238.1 344.8h0.85M238.6 343.6h0.85M238.2 343.9h0.85M238.6 344.4h0.85M238.2 344.1h0.85M238.9 343.4h0.85M238.2 343.7h0.85M238.7 344.4h0.85M221.8 351.8h0.85M222.5 351.4h0.85M222.2 352.3h0.85M222.1 351.1h0.85M221.6 351.6h0.85M222.2 352.1h0.85M222.4 352.2h0.85M221.9 351.7h0.85M221.8 351.3h0.85M221.9 351.2h0.85M222.3 351.6h0.85M221.1 351.5h0.85M220.2 352.0h0.85M220.8 351.2h0.85M220.0 351.9h0.85M220.1 352.3h0.85M220.8 351.7h0.85M220.7 352.4h0.85M237.9 343.1h0.85M239.0 343.2h0.85M228.6 349.7h0.85M227.9 350.1h0.85M228.5 349.6h0.85M228.2 350.2h0.85M228.0 350.4h0.85M227.9 349.9h0.85M227.8 350.1h0.85M227.8 350.5h0.85M228.2 350.6h0.85M227.3 350.7h0.85M219.3 351.3h0.85M218.2 351.4h0.85M218.0 351.4h0.85M219.5 351.5h0.85M218.2 352.2h0.85M218.2 351.5h0.85M218.1 351.3h0.85M219.5 351.6h0.85M218.1 352.0h0.85M218.3 351.5h0.85M219.3 351.5h0.85M236.6 343.9h0.85M237.5 344.9h0.85M236.5 343.6h0.85M236.9 344.6h0.85M237.0 344.2h0.85M237.8 344.2h0.85M237.7 343.7h0.85M237.0 344.4h0.85M237.1 341.2h0.85M237.4 341.4h0.85M236.9 341.6h0.85M237.7 340.7h0.85M236.3 340.8h0.85M237.5 340.5h0.85M237.5 341.5h0.85M236.7 341.4h0.85M217.6 351.4h0.85M217.6 351.2h0.85M217.5 351.5h0.85M217.2 351.1h0.85M217.4 351.6h0.85M217.6 352.1h0.85M218.0 351.9h0.85M217.9 351.5h0.85M233.5 345.8h0.85M234.4 345.4h0.85M233.3 346.1h0.85M234.0 345.1h0.85M234.0 345.1h0.85M233.2 346.0h0.85M234.7 345.0h0.85M234.7 345.3h0.85M232.3 341.6h0.85M233.1 341.6h0.85M233.0 340.6h0.85M233.2 341.8h0.85M230.5 340.7h0.85M231.3 340.6h0.85M231.6 341.3h0.85M231.5 340.6h0.85M230.4 340.7h0.85M230.2 340.9h0.85M230.7 340.4h0.85M230.6 341.6h0.85M233.6 341.6h0.85M234.5 341.3h0.85M234.6 341.8h0.85M233.9 341.9h0.85M234.7 341.8h0.85M234.1 341.0h0.85M234.0 341.4h0.85M234.2 341.0h0.85M236.4 342.7h0.85M237.5 341.9h0.85M236.3 342.1h0.85M236.8 342.9h0.85M236.9 343.4h0.85M236.9 343.2h0.85M236.3 343.4h0.85M236.7 342.7h0.85M236.9 342.0h0.85M237.4 342.0h0.85M235.8 341.3h0.85M235.5 341.0h0.85M236.2 340.5h0.85M235.7 341.4h0.85M235.9 341.1h0.85M236.1 341.1h0.85M234.9 341.3h0.85M234.9 341.3h0.85M235.7 340.9h0.85M236.2 340.7h0.85M235.6 340.8h0.85M234.9 341.1h0.85M229.3 340.9h0.85M229.9 341.7h0.85M228.7 340.4h0.85M229.9 340.6h0.85M229.5 341.4h0.85M229.2 341.5h0.85M229.1 341.6h0.85M229.1 341.4h0.85M235.8 344.8h0.85M235.1 343.8h0.85M235.6 343.7h0.85M234.8 344.0h0.85M235.2 343.7h0.85M234.8 344.2h0.85M236.1 344.0h0.85M235.5 344.7h0.85M228.7 349.4h0.85M229.0 348.3h0.85M229.2 348.4h0.85M229.1 349.3h0.85M229.1 348.3h0.85M228.9 348.9h0.85M228.7 348.0h0.85M229.2 348.4h0.85M230.1 349.2h0.85M228.9 349.1h0.85M231.4 346.7h0.85M231.5 346.5h0.85M230.9 347.6h0.85M231.1 347.8h0.85M230.6 347.7h0.85M230.7 346.5h0.85M231.0 347.7h0.85M231.7 347.3h0.85M231.6 346.8h0.85M226.3 349.6h0.85M226.2 350.1h0.85M226.7 350.2h0.85M227.0 350.1h0.85M226.1 349.7h0.85M234.8 343.2h0.85M235.6 343.3h0.85M235.8 342.6h0.85M236.0 342.0h0.85M234.9 342.9h0.85M234.9 342.6h0.85M235.8 343.3h0.85M236.2 342.0h0.85M236.2 342.1h0.85M236.1 342.0h0.85M235.1 342.4h0.85M227.4 340.9h0.85M227.8 340.6h0.85M227.9 341.7h0.85M227.5 341.3h0.85M228.4 340.5h0.85M234.7 344.2h0.85M234.7 344.3h0.85M234.0 344.7h0.85M233.9 343.6h0.85M234.5 343.6h0.85M233.9 343.5h0.85M233.9 344.4h0.85M234.4 344.1h0.85M234.6 344.6h0.85M233.6 344.1h0.85M233.5 344.5h0.85M234.5 344.6h0.85M233.4 342.1h0.85M234.0 342.5h0.85M234.3 342.3h0.85M233.3 342.7h0.85M233.7 342.4h0.85M233.3 342.0h0.85M233.9 342.6h0.85M232.9 346.3h0.85M232.2 345.1h0.85M232.0 345.7h0.85M231.8 345.5h0.85M232.5 345.8h0.85M233.0 345.1h0.85M232.2 345.4h0.85M232.4 346.3h0.85M232.5 345.4h0.85M232.3 346.2h0.85M219.2 341.5h0.85M218.2 341.6h0.85M218.1 341.3h0.85M218.3 340.9h0.85M218.8 341.3h0.85M218.2 340.8h0.85M218.1 341.3h0.85M218.8 341.2h0.85M219.8 341.2h0.85M220.6 340.6h0.85M220.8 341.7h0.85M220.5 341.0h0.85M220.0 341.0h0.85M219.7 341.4h0.85M220.6 341.6h0.85M233.2 343.2h0.85M232.7 342.0h0.85M232.0 343.3h0.85M232.8 343.3h0.85M232.0 342.7h0.85M232.6 343.0h0.85M233.2 343.3h0.85M225.1 350.4h0.85M225.0 349.7h0.85M225.4 349.8h0.85M224.7 350.5h0.85M224.4 349.9h0.85M217.2 340.9h0.85M217.1 340.9h0.85M217.2 341.5h0.85M217.2 341.4h0.85M217.7 341.7h0.85M217.1 341.6h0.85M217.4 341.4h0.85M217.7 340.9h0.85M226.4 341.5h0.85M225.7 340.8h0.85M226.3 341.5h0.85M225.7 341.6h0.85M226.2 341.0h0.85M225.8 340.8h0.85M225.8 340.6h0.85M226.3 340.9h0.85M226.5 341.1h0.85M230.6 342.3h0.85M230.5 342.9h0.85M230.3 342.0h0.85M231.1 342.3h0.85M230.9 343.0h0.85M230.6 342.7h0.85M230.9 342.6h0.85M230.2 343.1h0.85M230.6 342.6h0.85M232.3 343.9h0.85M231.7 343.7h0.85M232.1 343.8h0.85M232.4 344.3h0.85M232.1 343.7h0.85M231.7 343.5h0.85M232.5 343.7h0.85M232.1 344.1h0.85M233.0 344.7h0.85M232.1 343.7h0.85" stroke="#1f6cff" stroke-width="0.85" fill="none"/><path d="M221.8 341.3h0.85M222.4 341.4h0.85M221.5 341.2h0.85M221.9 341.1h0.85M221.9 341.6h0.85M221.9 341.9h0.85M221.3 341.1h0.85M222.5 341.4h0.85M222.6 341.8h0.85M221.7 340.7h0.85M223.4 349.9h0.85M223.0 349.5h0.85M223.6 350.2h0.85M223.2 350.5h0.85M223.2 350.4h0.85M222.8 349.5h0.85M224.0 349.7h0.85M223.2 350.1h0.85M223.7 350.3h0.85M225.2 341.8h0.85M225.1 340.5h0.85M224.7 340.9h0.85M224.1 341.0h0.85M224.9 341.6h0.85M225.3 341.1h0.85M224.7 341.0h0.85M225.5 341.6h0.85M224.7 341.0h0.85M224.2 340.6h0.85M225.4 341.4h0.85M225.4 341.3h0.85M223.5 341.8h0.85M222.6 340.9h0.85M224.0 340.9h0.85M223.0 341.3h0.85M223.7 341.3h0.85M223.8 340.8h0.85M223.2 341.1h0.85M222.7 341.5h0.85M223.6 340.5h0.85M224.0 341.2h0.85M223.3 340.9h0.85M223.9 341.8h0.85M223.2 341.1h0.85M230.9 345.7h0.85M230.5 345.4h0.85M230.4 346.1h0.85M231.0 346.2h0.85M231.6 346.3h0.85M230.5 345.5h0.85M231.5 345.0h0.85M230.4 346.0h0.85M231.7 346.3h0.85M230.9 345.4h0.85M231.1 345.1h0.85M231.1 346.1h0.85M231.3 345.7h0.85M222.3 350.2h0.85M221.7 350.0h0.85M222.5 350.3h0.85M221.7 350.1h0.85M222.4 350.2h0.85M221.9 350.4h0.85M221.4 350.3h0.85M222.4 350.6h0.85M229.3 343.2h0.85M229.8 342.3h0.85M230.1 342.8h0.85M229.4 342.7h0.85M229.4 342.3h0.85M229.5 342.7h0.85M228.9 342.8h0.85M228.8 341.9h0.85M229.2 341.9h0.85M229.2 342.5h0.85M229.8 343.3h0.85M230.0 347.6h0.85M229.0 347.4h0.85M230.0 347.5h0.85M229.7 346.9h0.85M228.9 346.6h0.85M228.0 349.3h0.85M228.0 347.9h0.85M227.5 349.4h0.85M228.1 348.1h0.85M228.5 349.0h0.85M228.2 347.9h0.85M227.4 348.7h0.85M228.4 348.6h0.85M228.3 349.4h0.85M227.2 349.2h0.85M227.9 348.7h0.85M220.8 350.2h0.85M219.7 349.8h0.85M220.2 350.4h0.85M220.2 350.6h0.85M219.8 349.4h0.85M219.9 349.7h0.85M220.0 350.5h0.85M219.9 350.6h0.85M221.0 350.1h0.85M220.5 350.3h0.85M220.4 350.5h0.85M230.5 343.8h0.85M230.6 344.8h0.85M231.4 343.7h0.85M231.1 344.5h0.85M230.4 344.0h0.85M231.7 344.7h0.85M231.6 343.8h0.85M231.4 343.4h0.85M230.3 344.0h0.85M230.8 344.5h0.85M230.3 344.3h0.85M230.6 343.9h0.85M231.5 343.9h0.85M231.1 343.7h0.85M231.1 343.4h0.85M219.2 349.4h0.85M219.4 350.1h0.85M218.4 350.6h0.85M218.8 350.6h0.85M218.2 350.9h0.85M218.3 350.8h0.85M219.1 349.8h0.85M219.3 350.5h0.85M228.1 342.3h0.85M227.7 343.1h0.85M227.5 343.2h0.85M227.4 342.5h0.85M227.5 342.7h0.85M227.5 342.6h0.85M228.2 342.9h0.85M228.5 343.3h0.85M228.4 343.1h0.85M228.3 342.8h0.85M227.4 343.1h0.85M228.3 342.6h0.85M227.9 342.1h0.85M228.6 342.3h0.85M217.9 350.3h0.85M218.0 350.4h0.85M217.5 349.6h0.85M217.2 350.7h0.85M217.1 350.4h0.85M217.6 349.9h0.85M217.6 350.4h0.85M217.5 350.3h0.85M217.8 350.3h0.85M217.7 349.7h0.85M218.0 350.5h0.85M229.1 344.4h0.85M228.9 343.4h0.85M228.7 343.6h0.85M229.5 344.1h0.85M230.0 344.1h0.85M229.7 343.6h0.85M229.8 344.8h0.85M229.4 344.6h0.85M228.9 343.9h0.85M229.6 344.9h0.85M229.7 345.6h0.85M230.0 346.1h0.85M228.7 345.8h0.85M229.5 345.1h0.85M228.7 346.3h0.85M228.8 344.9h0.85M229.1 345.1h0.85M229.8 345.5h0.85M229.7 345.6h0.85M229.2 345.3h0.85M229.7 345.2h0.85M229.2 345.8h0.85M228.9 345.1h0.85M226.9 342.5h0.85M227.0 342.5h0.85M226.1 343.2h0.85M226.0 342.1h0.85M226.6 343.2h0.85M225.8 342.1h0.85M226.1 343.0h0.85M226.3 341.9h0.85M227.0 343.4h0.85M226.9 348.1h0.85M226.0 348.6h0.85M226.7 349.0h0.85M226.0 348.9h0.85M227.0 348.1h0.85M226.1 349.4h0.85M226.1 348.6h0.85M226.0 349.3h0.85M226.4 348.6h0.85M227.0 348.4h0.85M226.2 349.3h0.85M225.8 349.0h0.85M226.3 348.8h0.85M226.3 348.8h0.85M226.9 348.5h0.85" stroke="#0aa6f0" stroke-width="0.85" fill="none"/><path d="M220.2 342.2h0.85M221.0 342.2h0.85M220.9 342.1h0.85M221.0 343.3h0.85M220.5 342.7h0.85M220.7 342.6h0.85M220.4 343.1h0.85M221.0 343.2h0.85M219.7 342.0h0.85M220.7 343.2h0.85M227.9 346.9h0.85M228.5 347.4h0.85M228.1 347.5h0.85M228.6 347.5h0.85M228.6 347.0h0.85M227.9 346.4h0.85M227.5 346.9h0.85M227.4 346.7h0.85M227.2 347.1h0.85M228.1 347.5h0.85M227.9 346.7h0.85M228.0 347.2h0.85M227.7 347.7h0.85M222.1 342.1h0.85M221.9 342.0h0.85M221.1 341.9h0.85M221.6 342.6h0.85M221.3 342.9h0.85M221.1 342.6h0.85M221.3 342.2h0.85M222.3 342.2h0.85M222.3 342.6h0.85M221.7 343.1h0.85M221.9 343.1h0.85M221.6 343.0h0.85M222.3 343.0h0.85M221.5 342.2h0.85M222.5 342.0h0.85M222.4 342.3h0.85M219.1 342.0h0.85M218.1 342.6h0.85M219.1 342.9h0.85M218.5 342.7h0.85M218.2 342.1h0.85M219.0 342.4h0.85M218.4 342.6h0.85M218.9 343.0h0.85M218.3 343.1h0.85M224.5 343.3h0.85M225.4 342.7h0.85M225.4 341.9h0.85M224.1 342.1h0.85M224.8 341.9h0.85M224.4 342.6h0.85M224.3 342.2h0.85M224.1 342.0h0.85M225.3 342.9h0.85M224.6 342.0h0.85M225.3 342.3h0.85M225.5 342.2h0.85M224.3 341.9h0.85M225.2 342.4h0.85M228.5 344.2h0.85M227.5 344.4h0.85M228.0 343.6h0.85M228.0 344.4h0.85M228.4 344.7h0.85M227.8 344.3h0.85M228.4 344.4h0.85M227.8 343.5h0.85M227.7 344.1h0.85M228.0 343.6h0.85M228.4 343.8h0.85M228.5 344.5h0.85M227.3 344.5h0.85M228.0 344.1h0.85M227.8 344.7h0.85M224.5 348.5h0.85M225.0 349.0h0.85M224.2 348.8h0.85M224.9 348.9h0.85M224.5 348.3h0.85M224.4 349.1h0.85M224.4 348.9h0.85M224.3 348.5h0.85M224.7 349.3h0.85M225.0 349.0h0.85M224.7 348.4h0.85M224.8 348.9h0.85M225.0 348.9h0.85M224.4 348.3h0.85M223.3 342.4h0.85M223.8 342.4h0.85M222.8 343.0h0.85M223.7 342.1h0.85M223.6 342.7h0.85M223.6 342.1h0.85M223.1 342.9h0.85M222.9 342.5h0.85M223.2 343.4h0.85M223.2 343.1h0.85M223.2 342.2h0.85M222.4 349.1h0.85M221.8 348.7h0.85M222.3 348.7h0.85M221.4 348.5h0.85M221.9 348.5h0.85M221.1 348.6h0.85M221.1 349.4h0.85M221.1 348.2h0.85M221.1 348.0h0.85M221.5 348.0h0.85M222.4 349.4h0.85M222.2 348.1h0.85M221.6 348.7h0.85M221.9 349.0h0.85M222.1 348.1h0.85M222.2 348.2h0.85M224.0 349.1h0.85M223.2 348.3h0.85M223.4 349.2h0.85M222.7 348.7h0.85M223.2 348.1h0.85M224.0 348.1h0.85M223.4 348.9h0.85M223.2 349.2h0.85M223.1 348.5h0.85M223.6 347.9h0.85M223.1 349.0h0.85M222.6 348.9h0.85M223.2 348.0h0.85M223.3 348.4h0.85M223.8 348.1h0.85M223.7 348.0h0.85M222.7 349.4h0.85M221.0 348.1h0.85M219.6 348.0h0.85M220.0 349.1h0.85M219.7 348.2h0.85M220.8 348.9h0.85M220.9 349.0h0.85M219.8 348.7h0.85M220.4 348.5h0.85M217.9 342.4h0.85M217.4 342.5h0.85M217.8 342.3h0.85M217.3 342.9h0.85M217.1 343.0h0.85M217.4 342.2h0.85M217.5 343.1h0.85M217.7 342.4h0.85M218.0 342.8h0.85M217.5 342.1h0.85M217.2 343.2h0.85M217.6 343.0h0.85M217.5 343.4h0.85M217.1 343.2h0.85M217.7 342.4h0.85M217.9 343.1h0.85M217.2 343.3h0.85M218.0 342.6h0.85M217.8 343.2h0.85M217.2 342.1h0.85M228.2 345.9h0.85M227.6 345.8h0.85M228.4 346.2h0.85M227.3 345.0h0.85M227.5 345.2h0.85M227.4 345.6h0.85M227.4 346.1h0.85M227.1 345.7h0.85M227.3 346.1h0.85M228.5 345.8h0.85M227.6 346.2h0.85M228.2 345.7h0.85M227.4 345.1h0.85M228.2 345.7h0.85M227.3 345.5h0.85M218.4 348.2h0.85M219.5 348.1h0.85M218.3 348.9h0.85M218.1 349.4h0.85M218.2 349.2h0.85M219.2 348.9h0.85M218.3 348.7h0.85M218.4 348.3h0.85M218.3 348.2h0.85M218.1 348.8h0.85M226.8 344.2h0.85M226.7 343.5h0.85M227.0 343.7h0.85M226.6 344.1h0.85M226.5 343.8h0.85M226.3 344.4h0.85M226.8 344.9h0.85M226.0 344.6h0.85M226.6 343.8h0.85M226.5 346.8h0.85M226.7 347.3h0.85M225.7 347.9h0.85M226.2 347.3h0.85M225.7 347.5h0.85M225.6 346.6h0.85M226.2 347.6h0.85M226.2 347.0h0.85M226.7 346.9h0.85M226.6 347.9h0.85M226.3 346.9h0.85M226.8 347.8h0.85M226.6 347.0h0.85M226.6 347.4h0.85M225.7 347.3h0.85M226.9 346.9h0.85M226.5 347.4h0.85M226.7 347.2h0.85M226.6 346.5h0.85M217.6 348.5h0.85M217.3 349.3h0.85M217.5 348.2h0.85M217.7 349.2h0.85M218.0 349.4h0.85M217.5 348.7h0.85M217.8 348.8h0.85M218.0 348.7h0.85M217.3 348.7h0.85M217.3 349.0h0.85M217.4 348.1h0.85M218.0 348.2h0.85M217.8 348.0h0.85M217.8 348.9h0.85M217.2 348.1h0.85M217.8 348.7h0.85M217.2 348.5h0.85M217.4 348.5h0.85M217.4 348.8h0.85M222.3 344.4h0.85M222.3 344.4h0.85M221.4 344.5h0.85M222.4 344.0h0.85M221.3 344.5h0.85M221.3 343.7h0.85M222.4 344.8h0.85M221.6 344.5h0.85M221.9 344.8h0.85M221.9 343.9h0.85M221.5 344.3h0.85M221.6 344.1h0.85M221.9 344.1h0.85M221.3 343.9h0.85M221.3 343.8h0.85M221.9 344.4h0.85M221.9 344.3h0.85M224.6 344.7h0.85M225.2 344.8h0.85M225.3 344.2h0.85M224.6 344.2h0.85M224.5 344.7h0.85M225.0 344.8h0.85M225.1 344.0h0.85M224.7 344.2h0.85M225.2 344.1h0.85M224.3 343.9h0.85M225.4 344.2h0.85M224.2 343.9h0.85M225.5 344.6h0.85M224.4 343.7h0.85M225.1 344.0h0.85M225.4 343.7h0.85M225.6 344.9h0.85M224.7 344.3h0.85M224.5 343.8h0.85M224.1 344.7h0.85M224.0 344.6h0.85M223.4 343.4h0.85M223.7 343.4h0.85M222.6 344.1h0.85M222.7 344.8h0.85M223.4 344.1h0.85M223.2 343.9h0.85M223.7 344.5h0.85M223.4 344.7h0.85M223.3 344.7h0.85M223.5 344.7h0.85M222.8 344.1h0.85M223.0 343.8h0.85M222.6 344.8h0.85M223.6 344.8h0.85M223.4 343.7h0.85M220.5 343.8h0.85M220.5 344.7h0.85M219.7 343.7h0.85M219.8 344.8h0.85M220.6 344.8h0.85M219.7 343.5h0.85M219.6 343.7h0.85M220.2 344.7h0.85M220.1 344.6h0.85M220.6 343.5h0.85M219.9 343.8h0.85M220.5 344.6h0.85M220.5 343.4h0.85" stroke="#10c8b8" stroke-width="0.85" fill="none"/><path d="M227.1 346.1h0.85M226.5 346.3h0.85M226.1 346.0h0.85M226.7 346.3h0.85M226.3 346.0h0.85M225.8 345.2h0.85M226.1 346.3h0.85M225.9 345.8h0.85M225.8 346.0h0.85M226.2 345.5h0.85M225.9 345.8h0.85M226.1 345.9h0.85M227.0 345.3h0.85M225.8 346.0h0.85M226.9 345.0h0.85M226.9 345.2h0.85M226.9 345.3h0.85M226.6 345.6h0.85M225.7 346.1h0.85M226.3 346.0h0.85M221.9 346.5h0.85M222.4 346.5h0.85M221.1 347.7h0.85M221.8 346.5h0.85M221.9 347.1h0.85M221.8 347.4h0.85M221.6 347.4h0.85M222.0 347.3h0.85M221.2 347.3h0.85M221.1 347.7h0.85M222.2 347.7h0.85M221.4 347.5h0.85M221.2 346.9h0.85M221.9 347.7h0.85M221.3 347.6h0.85M221.7 346.7h0.85M223.7 347.6h0.85M223.0 347.5h0.85M223.1 346.4h0.85M222.8 346.4h0.85M223.3 346.9h0.85M222.6 347.6h0.85M223.2 347.2h0.85M224.0 346.6h0.85M223.4 347.4h0.85M224.0 347.0h0.85M222.7 347.6h0.85M222.9 347.5h0.85M223.0 346.7h0.85M222.9 347.0h0.85M223.0 347.5h0.85M224.1 346.6h0.85M223.9 346.6h0.85M224.2 347.1h0.85M225.5 346.9h0.85M225.3 346.7h0.85M225.1 346.9h0.85M224.4 347.0h0.85M225.0 347.2h0.85M224.1 347.4h0.85M225.5 347.3h0.85M224.5 347.9h0.85M224.2 347.9h0.85M224.6 347.2h0.85M225.6 346.8h0.85M224.3 347.2h0.85M224.1 347.5h0.85M225.5 346.4h0.85M225.0 347.1h0.85M225.4 347.9h0.85M224.2 346.7h0.85M224.9 347.2h0.85M221.0 346.9h0.85M220.2 347.4h0.85M219.9 346.5h0.85M220.9 346.7h0.85M220.3 347.8h0.85M220.8 347.6h0.85M220.0 346.4h0.85M220.1 346.5h0.85M220.4 347.5h0.85M220.4 346.9h0.85M221.0 347.4h0.85M219.7 346.8h0.85M220.9 347.6h0.85M219.6 347.7h0.85M219.9 347.4h0.85M219.8 346.5h0.85M220.0 347.8h0.85M220.4 347.2h0.85M218.1 344.8h0.85M218.6 344.1h0.85M218.7 344.1h0.85M218.3 344.7h0.85M218.4 343.8h0.85M218.1 343.6h0.85M218.5 344.5h0.85M218.0 344.6h0.85M218.9 343.7h0.85M218.1 343.4h0.85M218.2 343.4h0.85M218.8 344.7h0.85M219.3 344.3h0.85M219.2 344.5h0.85M219.4 344.5h0.85M218.1 343.9h0.85M218.8 343.7h0.85M218.2 344.5h0.85M218.3 344.3h0.85M218.4 344.9h0.85M222.4 345.2h0.85M222.2 345.9h0.85M222.4 345.4h0.85M221.7 345.5h0.85M221.4 346.2h0.85M221.3 345.7h0.85M222.5 346.2h0.85M221.4 345.2h0.85M221.8 346.2h0.85M221.7 345.2h0.85M221.7 345.4h0.85M223.7 345.8h0.85M223.0 345.4h0.85M223.9 345.9h0.85M223.0 345.7h0.85M222.9 345.7h0.85M224.0 345.7h0.85M223.7 345.8h0.85M223.9 345.8h0.85M223.6 344.9h0.85M223.9 346.1h0.85M224.1 345.9h0.85M223.3 345.1h0.85M223.0 345.9h0.85M225.4 346.4h0.85M224.8 345.5h0.85M224.7 345.7h0.85M224.3 346.1h0.85M225.1 346.2h0.85M225.4 346.2h0.85M225.5 345.0h0.85M224.2 345.6h0.85M225.4 346.3h0.85M224.8 346.2h0.85M224.5 345.4h0.85M225.5 345.1h0.85M224.8 346.1h0.85M224.4 345.5h0.85M224.1 346.0h0.85M224.1 345.3h0.85M224.3 345.5h0.85M225.2 346.3h0.85M224.6 345.5h0.85M224.9 345.4h0.85M224.5 345.6h0.85M225.4 346.3h0.85M224.3 345.4h0.85M220.5 345.8h0.85M220.9 345.7h0.85M220.0 346.0h0.85M219.7 346.0h0.85M219.9 345.9h0.85M219.8 345.3h0.85M220.9 346.3h0.85M220.6 345.4h0.85M220.2 345.0h0.85M221.0 345.7h0.85M220.2 345.9h0.85M220.6 346.0h0.85M220.6 345.3h0.85M220.1 345.2h0.85M220.8 346.4h0.85M220.9 345.6h0.85M221.0 345.1h0.85M220.4 345.3h0.85M220.9 345.6h0.85M220.2 346.1h0.85M220.4 345.7h0.85M220.4 346.1h0.85M220.5 345.8h0.85M220.5 346.2h0.85M219.6 346.2h0.85M218.7 347.1h0.85M219.1 346.8h0.85M218.6 347.6h0.85M218.9 346.6h0.85M219.5 346.6h0.85M218.3 347.3h0.85M218.8 347.0h0.85M218.2 347.0h0.85M219.1 347.2h0.85M218.2 346.7h0.85M218.1 346.9h0.85M219.2 347.0h0.85M218.1 347.0h0.85M219.4 347.3h0.85M218.3 346.5h0.85M218.1 347.6h0.85M217.5 344.6h0.85M217.6 343.9h0.85M217.7 343.4h0.85M217.9 344.9h0.85M217.2 344.4h0.85M217.2 344.2h0.85M218.0 344.4h0.85M217.7 344.8h0.85M217.8 344.5h0.85M217.7 344.6h0.85M217.6 344.1h0.85M217.8 343.8h0.85M217.8 343.5h0.85M217.6 344.1h0.85M217.7 344.0h0.85M217.9 344.8h0.85M218.7 345.4h0.85M218.5 345.4h0.85M218.3 345.6h0.85M218.3 345.1h0.85M218.3 346.2h0.85M218.1 345.7h0.85M218.2 345.0h0.85M218.7 345.6h0.85M218.2 346.1h0.85M218.1 345.0h0.85M219.3 345.5h0.85M218.0 345.4h0.85M218.9 345.8h0.85M218.6 346.0h0.85M218.9 346.1h0.85M217.9 346.7h0.85M217.9 347.0h0.85M217.7 346.9h0.85M217.2 346.8h0.85M217.4 346.6h0.85M217.9 346.9h0.85M217.1 347.0h0.85M217.1 347.0h0.85M217.8 346.8h0.85M217.3 347.1h0.85M217.8 347.5h0.85M217.2 347.8h0.85M217.8 347.7h0.85M217.4 347.2h0.85M217.3 346.8h0.85M217.3 346.5h0.85M217.1 347.9h0.85M217.2 346.7h0.85M218.0 347.8h0.85M217.4 347.8h0.85M217.5 346.6h0.85M217.4 346.6h0.85M217.6 347.2h0.85M217.1 347.6h0.85" stroke="#22cc5a" stroke-width="0.85" fill="none"/><path d="M217.6 345.6h0.85M217.7 345.4h0.85M217.4 345.8h0.85M217.3 345.2h0.85M217.7 346.3h0.85M217.1 345.0h0.85M217.6 345.2h0.85M217.9 345.9h0.85M218.0 345.7h0.85M217.2 346.2h0.85M217.9 345.4h0.85M217.5 345.3h0.85M217.2 345.1h0.85M217.3 345.2h0.85M217.9 346.3h0.85M217.9 345.7h0.85M217.3 346.4h0.85M217.5 345.4h0.85M217.9 346.4h0.85M217.7 345.6h0.85M217.2 345.3h0.85M217.8 345.3h0.85" stroke="#7ad83a" stroke-width="0.85" fill="none"/>
<path d="M47.2 283.0L106.1 283.0L106.1 240.3L60.5 240.3L59.3 244.0L56.8 252.3L47.2 268.0Z" fill="none" stroke="#555" stroke-width="0.9" stroke-linejoin="round"/>
<path d="M133.9 283.0L191.8 283.0L191.8 240.7L145.7 240.7L144.4 244.0L144.0 250.3L133.9 267.5Z" fill="none" stroke="#555" stroke-width="0.9" stroke-linejoin="round"/>
<path d="M219.0 283.0L277.4 283.0L277.4 240.7L231.5 240.7L230.2 244.0L229.0 250.3L219.0 267.5Z" fill="none" stroke="#555" stroke-width="0.9" stroke-linejoin="round"/>
<path d="M58.6 370.3L108.0 370.3L108.0 324.4L74.3 324.4L73.2 330.0L70.1 342.8L66.0 350.5L58.6 358.7Z" fill="none" stroke="#555" stroke-width="0.9" stroke-linejoin="round"/>
<path d="M144.4 370.4L193.7 370.4L193.7 324.4L159.8 324.4L158.6 336.3L154.6 347.7L150.0 353.5L144.4 358.6Z" fill="none" stroke="#555" stroke-width="0.9" stroke-linejoin="round"/>
<path d="M221.4 368.6L271.3 368.6L271.3 323.7L236.6 323.7L235.4 329.5L231.5 343.0L226.5 351.5L221.4 357.5Z" fill="none" stroke="#555" stroke-width="0.9" stroke-linejoin="round"/>
<text x="100.80" y="236.40" font-size="5.8" font-weight="bold" text-anchor="end" fill="#000">3.35 %</text>
<text x="182.80" y="236.40" font-size="5.8" font-weight="bold" text-anchor="end" fill="#000">73 %</text>
<text x="272.90" y="236.40" font-size="5.8" font-weight="bold" text-anchor="end" fill="#000">73.6 %</text>
<text x="106.00" y="365.80" font-size="5.8" font-weight="bold" text-anchor="end" fill="#000">2.18 %</text>
<text x="193.00" y="366.60" font-size="5.8" font-weight="bold" text-anchor="end" fill="#000">26.7 %</text>
<text x="265.50" y="366.60" font-size="5.8" font-weight="bold" text-anchor="end" fill="#000">31 %</text>
<text x="166.20" y="224.70" font-size="7.6" font-weight="bold" text-anchor="middle" fill="#000">non-filtered</text>
<text x="250.40" y="224.70" font-size="7.6" font-weight="bold" text-anchor="middle" fill="#000">filtered</text>
<text x="77.90" y="304.60" font-size="7.9" font-weight="bold" text-anchor="middle" fill="#000">Non-Bacteria</text>
<text x="166.90" y="304.60" font-size="7.9" font-weight="bold" text-anchor="middle" fill="#000">Total Bacteria</text>
<text x="252.00" y="304.60" font-size="7.9" font-weight="bold" text-anchor="middle" fill="#000">Total Bacteria</text>
<text x="83.00" y="390.50" font-size="7.9" font-weight="bold" text-anchor="middle" fill="#000">Isotope control</text>
<text x="163.90" y="391.00" font-size="7.9" font-weight="bold" text-anchor="middle" fill="#000">p-Tyr</text>
<text x="248.80" y="391.00" font-size="7.9" font-weight="bold" text-anchor="middle" fill="#000">p-Tyr</text>
<text x="30.00" y="260.60" font-size="5.0" font-weight="bold" text-anchor="middle" transform="rotate(-90 30.00 260.60)" fill="#000">SSC-A</text>
<text x="31.60" y="259.60" font-size="1.8" font-weight="normal" text-anchor="middle" transform="rotate(-90 31.60 259.60)" fill="#777">SSC-A</text>
<text x="29.60" y="348.00" font-size="5.0" font-weight="bold" text-anchor="middle" transform="rotate(-90 29.60 348.00)" fill="#000">SSC-A</text>
<text x="31.20" y="347.00" font-size="1.8" font-weight="normal" text-anchor="middle" transform="rotate(-90 31.20 347.00)" fill="#777">SSC-A</text>
<text x="119.50" y="258.50" font-size="2.2" font-weight="normal" text-anchor="middle" transform="rotate(-90 119.50 258.50)" fill="#555">SSC-A</text>
<text x="205.50" y="258.50" font-size="2.2" font-weight="normal" text-anchor="middle" transform="rotate(-90 205.50 258.50)" fill="#555">SSC-A</text>
<text x="120.00" y="345.50" font-size="2.2" font-weight="normal" text-anchor="middle" transform="rotate(-90 120.00 345.50)" fill="#555">SSC-A</text>
<text x="204.50" y="345.00" font-size="2.2" font-weight="normal" text-anchor="middle" transform="rotate(-90 204.50 345.00)" fill="#555">SSC-A</text>
<text x="8.00" y="300.80" font-size="6.0" font-weight="normal" text-anchor="start" fill="#000" stroke="#000" stroke-width="0.2">Abundance</text>
<text x="5.80" y="387.90" font-size="5.9" font-weight="normal" text-anchor="start" fill="#000" stroke="#000" stroke-width="0.2">Phosphorylation</text>
<path d="M22.2 304.8H39M37.6 303.0L42 304.8L37.6 306.6Z M23.2 391.0H39M37.6 389.2L42 391.0L37.6 392.8Z" stroke="#000" stroke-width="1.25" fill="#000" stroke-linejoin="miter"/>
<path d="M305.00 290.00L305.00 278.00L305.50 277.23L306.00 276.45L306.50 275.68L307.00 274.91L307.50 274.11L308.00 273.28L308.50 272.46L309.00 271.64L309.50 270.81L310.00 269.99L310.50 269.16L311.00 268.01L311.50 266.77L312.00 265.53L312.50 264.29L313.00 263.04L313.50 261.75L314.00 260.45L314.50 259.15L315.00 257.86L315.50 256.80L316.00 255.80L316.50 254.80L317.00 253.80L317.50 252.83L318.00 251.96L318.50 251.09L319.00 250.22L319.50 249.35L320.00 248.83L320.50 248.55L321.00 248.27L321.50 248.20L322.00 248.45L322.50 248.70L323.00 248.95L323.50 247.75L324.00 246.19L324.50 244.62L325.00 243.58L325.50 242.89L326.00 242.20L326.50 243.28L327.00 244.37L327.50 246.00L328.00 248.00L328.50 250.54L329.00 253.88L329.50 257.23L330.00 260.66L330.50 264.43L331.00 268.21L331.50 271.99L332.00 275.21L332.50 278.05L333.00 280.89L333.50 282.99L334.00 283.97L334.50 284.95L335.00 285.93L335.50 286.90L336.00 287.35L336.50 287.66L337.00 287.96L337.50 288.27L338.00 288.58L338.50 288.89L339.00 289.20L339.50 289.33L340.00 289.47L340.50 289.60L341.00 289.73L341.50 289.87L342.00 290.00L342.00 290.00Z" fill="#3fc6f2"/>
<path d="M305.00 290.00L305.00 277.93L305.50 277.41L306.00 276.61L306.50 276.61L307.00 274.21L307.50 273.65L308.00 273.42L308.50 272.13L309.00 271.51L309.50 271.05L310.00 269.55L310.50 269.31L311.00 268.16L311.50 267.15L312.00 265.31L312.50 264.34L313.00 262.76L313.50 262.07L314.00 260.38L314.50 259.65L315.00 257.38L315.50 256.69L316.00 255.61L316.50 254.56L317.00 254.41L317.50 252.35L318.00 250.69L318.50 252.11L319.00 251.31L319.50 250.31L320.00 248.29L320.50 248.47L321.00 247.57L321.50 247.81L322.00 248.59L322.50 248.99L323.00 249.72L323.50 248.12L324.00 248.13L324.50 246.39L325.00 245.21L325.50 243.78L326.00 245.12L326.50 246.24L327.00 246.81L327.50 247.01L328.00 249.20L328.50 250.32L329.00 255.39L329.50 256.76L330.00 260.09L330.50 265.15L331.00 268.14L331.50 271.47L332.00 275.17L332.50 277.70L333.00 280.18L333.50 282.92L334.00 284.04L334.50 285.12L335.00 285.80L335.50 286.94L336.00 287.38L336.50 287.67L337.00 287.87L337.50 288.41L338.00 288.76L338.50 289.15L339.00 289.09L339.50 289.33L340.00 289.36L340.50 289.60L341.00 289.77L341.50 289.85L342.00 290.00L342.00 290.00Z" fill="#b392a6" stroke="#e34a4a" stroke-width="0.55"/>
<path d="M298.00 290.00L298.00 235.70L298.50 229.82L299.00 228.24L299.50 229.01L300.00 227.80L300.50 232.45L301.00 240.37L301.50 249.06L302.00 253.88L302.50 258.30L303.00 263.08L303.50 268.04L304.00 272.79L304.50 274.78L305.00 277.21L305.50 277.25L306.00 277.98L306.50 278.62L307.00 279.31L307.50 279.52L308.00 279.83L308.50 280.35L309.00 280.19L309.50 280.72L310.00 282.45L310.50 282.52L311.00 282.31L311.50 282.76L312.00 282.93L312.50 283.31L313.00 283.11L313.50 284.45L314.00 284.61L314.50 284.25L315.00 284.95L315.50 285.27L316.00 285.88L316.50 286.45L317.00 286.34L317.50 286.66L318.00 287.26L318.50 287.34L319.00 287.41L319.50 287.78L320.00 287.82L320.50 287.98L321.00 288.19L321.50 288.48L322.00 288.52L322.50 288.58L323.00 288.76L323.50 289.00L324.00 288.91L324.50 289.16L325.00 289.11L325.50 289.41L326.00 289.31L326.50 289.48L327.00 289.65L327.50 289.65L328.00 289.70L328.50 289.76L329.00 289.90L329.50 289.96L330.00 290.00L330.00 290.00Z" fill="#f5a452" fill-opacity="0.58" stroke="#f39a45" stroke-width="0.4" stroke-opacity="0.8"/>
<rect x="297.7" y="226.6" width="65.19999999999999" height="63.79999999999998" fill="none" stroke="#555" stroke-width="0.7"/>
<text x="305.40" y="235.40" font-size="5.6" font-weight="bold" text-anchor="start" fill="#000">Non-Bacteria</text>
<text x="333.60" y="243.60" font-size="5.3" font-weight="bold" text-anchor="start" fill="#000">Filtered</text>
<text x="334.40" y="260.20" font-size="5.5" font-weight="bold" text-anchor="start" fill="#000">non-filtered</text>
<path d="M308.3 236.4L301.5 250.8M333.3 242.6L326.8 245.6M340 261.8L327.6 270.8" stroke="#000" stroke-width="0.6" fill="none"/>
<path d="M295.7 289.8h2M295.7 269.8h2M295.7 249.8h2M295.7 229.8h2" stroke="#555" stroke-width="0.5"/>
<text x="295.10" y="290.60" font-size="2.4" font-weight="normal" text-anchor="end" fill="#333">0</text>
<text x="295.10" y="270.60" font-size="2.4" font-weight="normal" text-anchor="end" fill="#333">500</text>
<text x="295.10" y="250.60" font-size="2.4" font-weight="normal" text-anchor="end" fill="#333">1000</text>
<text x="295.10" y="230.60" font-size="2.4" font-weight="normal" text-anchor="end" fill="#333">1500</text>
<text x="288.20" y="258.80" font-size="2.6" font-weight="normal" text-anchor="middle" transform="rotate(-90 288.20 258.80)" fill="#444">Count</text>
<path d="M301.2 290.4v2M316.0 290.4v2M330.8 290.4v2M345.6 290.4v2M360.4 290.4v2" stroke="#555" stroke-width="0.5"/>
<text x="301.20" y="295.40" font-size="2.6" font-weight="normal" text-anchor="middle" transform="rotate(-30 301.20 295.40)" fill="#333">10<tspan font-size="1.8" dy="-1">1</tspan></text>
<text x="316.00" y="295.40" font-size="2.6" font-weight="normal" text-anchor="middle" transform="rotate(-30 316.00 295.40)" fill="#333">10<tspan font-size="1.8" dy="-1">2</tspan></text>
<text x="330.81" y="295.40" font-size="2.6" font-weight="normal" text-anchor="middle" transform="rotate(-30 330.81 295.40)" fill="#333">10<tspan font-size="1.8" dy="-1">3</tspan></text>
<text x="345.61" y="295.40" font-size="2.6" font-weight="normal" text-anchor="middle" transform="rotate(-30 345.61 295.40)" fill="#333">10<tspan font-size="1.8" dy="-1">4</tspan></text>
<text x="360.42" y="295.40" font-size="2.6" font-weight="normal" text-anchor="middle" transform="rotate(-30 360.42 295.40)" fill="#333">10<tspan font-size="1.8" dy="-1">5</tspan></text>
<path d="M297.60 334.30L297.60 333.46L298.10 332.92L298.60 332.17L299.10 331.80L299.60 331.68L300.10 330.86L300.60 330.42L301.10 329.71L301.60 329.53L302.10 328.44L302.60 327.77L303.10 326.75L303.60 326.35L304.10 325.53L304.60 325.37L305.10 323.44L305.60 324.08L306.10 322.38L306.60 322.17L307.10 321.68L307.60 320.93L308.10 320.27L308.60 319.19L309.10 318.77L309.60 317.78L310.10 318.76L310.60 317.67L311.10 317.57L311.60 316.37L312.10 317.23L312.60 316.61L313.10 316.51L313.60 317.38L314.10 316.50L314.60 317.14L315.10 317.35L315.60 317.92L316.10 319.60L316.60 320.43L317.10 321.25L317.60 322.04L318.10 323.14L318.60 324.72L319.10 325.76L319.60 326.73L320.10 327.55L320.60 328.33L321.10 329.18L321.60 329.60L322.10 330.83L322.60 331.45L323.10 331.86L323.60 332.38L324.10 332.61L324.60 332.87L325.10 333.03L325.60 333.44L326.10 333.38L326.60 333.73L327.10 333.78L327.60 333.82L328.10 333.93L328.60 334.00L329.10 334.13L329.60 334.23L329.60 334.30Z" fill="#f9c48f" stroke="#f3aa62" stroke-width="0.4"/>
<path d="M297.50 355.60L297.50 336.43L298.00 347.79L298.50 348.50L299.00 347.30L299.50 346.06L300.00 345.45L300.50 344.45L301.00 343.22L301.50 341.21L302.00 339.43L302.50 339.57L303.00 339.80L303.50 339.44L304.00 338.35L304.50 339.40L305.00 340.82L305.50 340.84L306.00 342.32L306.50 343.07L307.00 344.00L307.50 345.08L308.00 345.59L308.50 346.82L309.00 348.00L309.50 348.35L310.00 348.92L310.50 350.33L311.00 350.46L311.50 350.61L312.00 350.34L312.50 350.61L313.00 350.20L313.50 350.17L314.00 350.19L314.50 350.35L315.00 350.12L315.50 350.26L316.00 350.29L316.50 349.78L317.00 350.12L317.50 349.40L318.00 349.51L318.50 350.37L319.00 349.79L319.50 350.26L320.00 350.01L320.50 350.09L321.00 350.85L321.50 350.56L322.00 350.76L322.50 350.64L323.00 351.39L323.50 351.10L324.00 351.75L324.50 351.75L325.00 352.04L325.50 351.68L326.00 352.06L326.50 351.83L327.00 352.39L327.50 352.52L328.00 352.70L328.50 353.12L329.00 353.14L329.50 353.01L330.00 353.46L330.50 353.48L331.00 353.64L331.50 353.67L332.00 353.95L332.50 354.04L333.00 354.11L333.50 354.23L334.00 354.43L334.50 354.27L335.00 354.62L335.50 354.68L336.00 354.75L336.50 354.56L337.00 354.78L337.50 354.92L338.00 355.00L338.50 354.92L339.00 355.12L339.50 355.21L340.00 355.11L340.50 355.30L341.00 355.29L341.50 355.32L342.00 355.40L342.50 355.44L343.00 355.44L343.50 355.56L344.00 355.60L344.00 355.60Z" fill="#f59597" stroke="#ec7074" stroke-width="0.4"/>
<path d="M297.50 376.40L297.50 373.08L298.00 372.78L298.50 373.59L299.00 372.93L299.50 372.53L300.00 372.31L300.50 372.04L301.00 371.31L301.50 371.12L302.00 370.54L302.50 370.15L303.00 370.03L303.50 369.47L304.00 368.57L304.50 368.40L305.00 367.25L305.50 366.85L306.00 366.36L306.50 366.73L307.00 365.90L307.50 366.47L308.00 366.43L308.50 366.28L309.00 366.39L309.50 367.29L310.00 367.53L310.50 367.00L311.00 367.76L311.50 367.34L312.00 367.95L312.50 368.30L313.00 368.56L313.50 368.41L314.00 368.84L314.50 368.50L315.00 369.11L315.50 369.08L316.00 369.28L316.50 368.91L317.00 369.14L317.50 369.48L318.00 368.61L318.50 369.42L319.00 369.09L319.50 368.67L320.00 367.96L320.50 368.35L321.00 367.81L321.50 368.17L322.00 368.96L322.50 368.46L323.00 368.65L323.50 369.33L324.00 369.55L324.50 370.32L325.00 370.63L325.50 370.60L326.00 370.62L326.50 371.24L327.00 371.32L327.50 371.40L328.00 371.88L328.50 372.01L329.00 372.05L329.50 372.94L330.00 372.73L330.50 373.56L331.00 373.27L331.50 373.51L332.00 373.86L332.50 374.15L333.00 374.15L333.50 374.41L334.00 374.52L334.50 374.87L335.00 374.85L335.50 375.26L336.00 375.29L336.50 375.40L337.00 375.29L337.50 375.70L338.00 375.67L338.50 375.60L339.00 375.87L339.50 376.01L340.00 375.98L340.50 376.12L341.00 376.16L341.50 376.33L342.00 376.40L342.00 376.40Z" fill="#6cd3f2" stroke="#3cc0ea" stroke-width="0.4"/>
<path d="M297.3 334.1H363.7" stroke="#f5b57a" stroke-width="0.6"/><path d="M297.3 355.40000000000003H363.7" stroke="#f08a8c" stroke-width="0.6"/><path d="M297.3 376.2H363.7" stroke="#5cc8ee" stroke-width="0.6"/>
<path d="M297.8 313.7V334.3" stroke="#f3a860" stroke-width="0.8"/><path d="M297.8 334.3V355.6" stroke="#ec6e72" stroke-width="0.8"/><path d="M297.8 355.6V376.4" stroke="#3cc0ea" stroke-width="0.8"/>
<rect x="297.3" y="312.7" width="66.39999999999998" height="64.30000000000001" fill="none" stroke="#555" stroke-width="0.7"/>
<text x="363.20" y="319.70" font-size="5.8" font-weight="bold" text-anchor="end" fill="#000">Isotope control</text>
<text x="362.80" y="341.20" font-size="5.8" font-weight="bold" text-anchor="end" fill="#000">non-filtered</text>
<text x="362.80" y="361.70" font-size="5.8" font-weight="bold" text-anchor="end" fill="#000">filtered</text>
<path d="M300.8 377.0v2M315.9 377.0v2M331.0 377.0v2M346.1 377.0v2M361.2 377.0v2" stroke="#555" stroke-width="0.5"/>
<text x="300.80" y="382.00" font-size="2.6" font-weight="normal" text-anchor="middle" transform="rotate(-30 300.80 382.00)" fill="#333">10<tspan font-size="1.8" dy="-1">1</tspan></text>
<text x="315.90" y="382.00" font-size="2.6" font-weight="normal" text-anchor="middle" transform="rotate(-30 315.90 382.00)" fill="#333">10<tspan font-size="1.8" dy="-1">2</tspan></text>
<text x="331.00" y="382.00" font-size="2.6" font-weight="normal" text-anchor="middle" transform="rotate(-30 331.00 382.00)" fill="#333">10<tspan font-size="1.8" dy="-1">3</tspan></text>
<text x="346.09" y="382.00" font-size="2.6" font-weight="normal" text-anchor="middle" transform="rotate(-30 346.09 382.00)" fill="#333">10<tspan font-size="1.8" dy="-1">4</tspan></text>
<text x="361.19" y="382.00" font-size="2.6" font-weight="normal" text-anchor="middle" transform="rotate(-30 361.19 382.00)" fill="#333">10<tspan font-size="1.8" dy="-1">5</tspan></text>
<text x="376.20" y="219.80" font-size="14.6" font-weight="bold" text-anchor="start" fill="#000">D</text>
<defs><filter id="bl3" x="-50%" y="-50%" width="200%" height="200%"><feGaussianBlur stdDeviation="0.5"/></filter><filter id="bl5" x="-50%" y="-50%" width="200%" height="200%"><feGaussianBlur stdDeviation="0.7"/></filter><filter id="bl6" x="-20%" y="-5%" width="140%" height="110%"><feGaussianBlur stdDeviation="0.45 0.35"/></filter></defs>
<rect x="386.9" y="275.5" width="158.10000000000002" height="29.600000000000023" fill="#fafafa"/>
<g filter="url(#bl5)"><ellipse cx="394.2" cy="281.1" rx="4.6" ry="2.0" fill="#6aaae8"/><ellipse cx="394.2" cy="301.8" rx="4.6" ry="2.0" fill="#6aaae8"/><path d="M402.6 287.7Q409 287.6 415.6 288.5L415.6 290.5Q409 290.0 402.6 290.1Z" fill="#000"/><rect x="474.5" y="288.0" width="14" height="2" rx="1" fill="#000" fill-opacity="0.07"/></g>
<rect x="386.9" y="275.5" width="158.10000000000002" height="29.600000000000023" fill="none" stroke="#333" stroke-width="1.3"/>
<path d="M390.3 288.5H396" stroke="#e02020" stroke-width="0.8"/><path d="M395.3 287.2L398.4 288.5L395.3 289.8Z" fill="#e02020"/>
<text x="388.30" y="294.70" font-size="3.8" font-weight="normal" text-anchor="start" fill="#000" stroke="#000" stroke-width="0.08">&#946;-actin</text>
<text x="386.00" y="282.70" font-size="4.2" font-weight="normal" text-anchor="end" fill="#000" stroke="#000" stroke-width="0.12">55</text>
<text x="386.00" y="303.40" font-size="4.2" font-weight="normal" text-anchor="end" fill="#000" stroke="#000" stroke-width="0.12">36</text>
<text x="374.80" y="274.40" font-size="5.3" font-weight="bold" text-anchor="start" fill="#000">kDa</text>
<text x="390.30" y="274.40" font-size="5.3" font-weight="bold" text-anchor="start" fill="#000">M</text>
<text x="409.20" y="273.00" font-size="6.5" font-weight="bold" text-anchor="start" transform="rotate(-47 409.20 273.00)" fill="#000">HEK293</text>
<text x="426.60" y="273.00" font-size="6.5" font-weight="bold" text-anchor="start" transform="rotate(-47 426.60 273.00)" fill="#000"><tspan font-style="italic">E.coli</tspan> K12</text>
<text x="445.40" y="273.00" font-size="6.5" font-weight="bold" text-anchor="start" transform="rotate(-47 445.40 273.00)" fill="#000">non-IBD 1</text>
<text x="463.00" y="273.00" font-size="6.5" font-weight="bold" text-anchor="start" transform="rotate(-47 463.00 273.00)" fill="#000">non-IBD 2</text>
<text x="481.20" y="273.00" font-size="6.5" font-weight="bold" text-anchor="start" transform="rotate(-47 481.20 273.00)" fill="#000">IBD 1</text>
<text x="497.20" y="273.00" font-size="6.5" font-weight="bold" text-anchor="start" transform="rotate(-47 497.20 273.00)" fill="#000">IBD 2</text>
<text x="513.90" y="273.00" font-size="6.5" font-weight="bold" text-anchor="start" transform="rotate(-47 513.90 273.00)" fill="#000">IBD 3</text>
<text x="531.40" y="273.00" font-size="6.5" font-weight="bold" text-anchor="start" transform="rotate(-47 531.40 273.00)" fill="#000">IBD 4</text>
<text x="463.30" y="315.20" font-size="6.7" font-weight="bold" text-anchor="middle" fill="#000">Comassie Blue Stain</text>
<rect x="387.2" y="318.4" width="157.2" height="32.200000000000045" fill="#e7ddcb"/>
<g filter="url(#bl6)"><rect x="402.8" y="318.40" width="13.1" height="0.86" fill="#368fd7"/><rect x="402.8" y="319.20" width="13.1" height="0.86" fill="#2f8bd6"/><rect x="402.8" y="320.01" width="13.1" height="0.86" fill="#2d8ad6"/><rect x="402.8" y="320.81" width="13.1" height="0.86" fill="#3890d8"/><rect x="402.8" y="321.62" width="13.1" height="0.86" fill="#368fd7"/><rect x="402.8" y="322.42" width="13.1" height="0.86" fill="#2786d5"/><rect x="402.8" y="323.23" width="13.1" height="0.86" fill="#3790d8"/><rect x="402.8" y="324.03" width="13.1" height="0.86" fill="#368fd7"/><rect x="402.8" y="324.84" width="13.1" height="0.86" fill="#2786d5"/><rect x="402.8" y="325.64" width="13.1" height="0.86" fill="#2d89d6"/><rect x="402.8" y="326.45" width="13.1" height="0.86" fill="#328cd7"/><rect x="402.8" y="327.25" width="13.1" height="0.86" fill="#1f81d3"/><rect x="402.8" y="328.06" width="13.1" height="0.86" fill="#1c7fd3"/><rect x="402.8" y="328.87" width="13.1" height="0.86" fill="#348dd7"/><rect x="402.8" y="329.67" width="13.1" height="0.86" fill="#368fd7"/><rect x="402.8" y="330.48" width="13.1" height="0.86" fill="#0c76d0"/><rect x="402.8" y="331.28" width="13.1" height="0.86" fill="#0c76d0"/><rect x="402.8" y="332.08" width="13.1" height="0.86" fill="#0c76d0"/><rect x="402.8" y="332.89" width="13.1" height="0.86" fill="#0c76d0"/><rect x="402.8" y="333.69" width="13.1" height="0.86" fill="#2e8ad6"/><rect x="402.8" y="334.50" width="13.1" height="0.86" fill="#2685d5"/><rect x="402.8" y="335.31" width="13.1" height="0.86" fill="#358ed7"/><rect x="402.8" y="336.11" width="13.1" height="0.86" fill="#2e8ad6"/><rect x="402.8" y="336.92" width="13.1" height="0.86" fill="#308bd6"/><rect x="402.8" y="337.72" width="13.1" height="0.86" fill="#328cd7"/><rect x="402.8" y="338.52" width="13.1" height="0.86" fill="#2d8ad6"/><rect x="402.8" y="339.33" width="13.1" height="0.86" fill="#348ed7"/><rect x="402.8" y="340.13" width="13.1" height="0.86" fill="#2987d5"/><rect x="402.8" y="340.94" width="13.1" height="0.86" fill="#2887d5"/><rect x="402.8" y="341.75" width="13.1" height="0.86" fill="#368fd7"/><rect x="402.8" y="342.55" width="13.1" height="0.86" fill="#308bd6"/><rect x="402.8" y="343.36" width="13.1" height="0.86" fill="#338dd7"/><rect x="402.8" y="344.16" width="13.1" height="0.86" fill="#378fd8"/><rect x="402.8" y="344.97" width="13.1" height="0.86" fill="#2886d5"/><rect x="402.8" y="345.77" width="13.1" height="0.86" fill="#318bd6"/><rect x="402.8" y="346.58" width="13.1" height="0.86" fill="#368fd7"/><rect x="402.8" y="347.38" width="13.1" height="0.86" fill="#2c89d6"/><rect x="402.8" y="348.19" width="13.1" height="0.86" fill="#358ed7"/><rect x="402.8" y="348.99" width="13.1" height="0.86" fill="#2786d5"/><rect x="402.8" y="349.80" width="13.1" height="0.86" fill="#358ed7"/><rect x="420.5" y="318.40" width="13.6" height="0.86" fill="#4296d9"/><rect x="420.5" y="319.20" width="13.6" height="0.86" fill="#3f94d9"/><rect x="420.5" y="320.01" width="13.6" height="0.86" fill="#3c92d8"/><rect x="420.5" y="320.81" width="13.6" height="0.86" fill="#3991d8"/><rect x="420.5" y="321.62" width="13.6" height="0.86" fill="#318cd6"/><rect x="420.5" y="322.42" width="13.6" height="0.86" fill="#358ed7"/><rect x="420.5" y="323.23" width="13.6" height="0.86" fill="#3c92d8"/><rect x="420.5" y="324.03" width="13.6" height="0.86" fill="#4296d9"/><rect x="420.5" y="324.84" width="13.6" height="0.86" fill="#3f94d9"/><rect x="420.5" y="325.64" width="13.6" height="0.86" fill="#2f8bd6"/><rect x="420.5" y="326.45" width="13.6" height="0.86" fill="#3a91d8"/><rect x="420.5" y="327.25" width="13.6" height="0.86" fill="#358ed7"/><rect x="420.5" y="328.06" width="13.6" height="0.86" fill="#4195d9"/><rect x="420.5" y="328.87" width="13.6" height="0.86" fill="#4296d9"/><rect x="420.5" y="329.67" width="13.6" height="0.86" fill="#328cd7"/><rect x="420.5" y="330.48" width="13.6" height="0.86" fill="#378fd8"/><rect x="420.5" y="331.28" width="13.6" height="0.86" fill="#3c92d8"/><rect x="420.5" y="332.08" width="13.6" height="0.86" fill="#0c76d0"/><rect x="420.5" y="332.89" width="13.6" height="0.86" fill="#1179d1"/><rect x="420.5" y="333.69" width="13.6" height="0.86" fill="#0f78d1"/><rect x="420.5" y="334.50" width="13.6" height="0.86" fill="#1279d1"/><rect x="420.5" y="335.31" width="13.6" height="0.86" fill="#0c76d0"/><rect x="420.5" y="336.11" width="13.6" height="0.86" fill="#0c76d0"/><rect x="420.5" y="336.92" width="13.6" height="0.86" fill="#4095d9"/><rect x="420.5" y="337.72" width="13.6" height="0.86" fill="#348ed7"/><rect x="420.5" y="338.52" width="13.6" height="0.86" fill="#3f94d9"/><rect x="420.5" y="339.33" width="13.6" height="0.86" fill="#59a3de"/><rect x="420.5" y="340.13" width="13.6" height="0.86" fill="#4f9ddc"/><rect x="420.5" y="340.94" width="13.6" height="0.86" fill="#499adb"/><rect x="420.5" y="341.75" width="13.6" height="0.86" fill="#5aa4de"/><rect x="420.5" y="342.55" width="13.6" height="0.86" fill="#4396da"/><rect x="420.5" y="343.36" width="13.6" height="0.86" fill="#4f9ddc"/><rect x="420.5" y="344.16" width="13.6" height="0.86" fill="#519edc"/><rect x="420.5" y="344.97" width="13.6" height="0.86" fill="#529fdc"/><rect x="420.5" y="345.77" width="13.6" height="0.86" fill="#3d93d9"/><rect x="420.5" y="346.58" width="13.6" height="0.86" fill="#348ed7"/><rect x="420.5" y="347.38" width="13.6" height="0.86" fill="#3990d8"/><rect x="420.5" y="348.19" width="13.6" height="0.86" fill="#328cd7"/><rect x="420.5" y="348.99" width="13.6" height="0.86" fill="#3e94d9"/><rect x="420.5" y="349.80" width="13.6" height="0.86" fill="#3c92d8"/><rect x="439.4" y="318.40" width="12.4" height="0.86" fill="#519edc"/><rect x="439.4" y="319.20" width="12.4" height="0.86" fill="#4396da"/><rect x="439.4" y="320.01" width="12.4" height="0.86" fill="#4497da"/><rect x="439.4" y="320.81" width="12.4" height="0.86" fill="#4f9ddc"/><rect x="439.4" y="321.62" width="12.4" height="0.86" fill="#4d9cdb"/><rect x="439.4" y="322.42" width="12.4" height="0.86" fill="#509edc"/><rect x="439.4" y="323.23" width="12.4" height="0.86" fill="#4799da"/><rect x="439.4" y="324.03" width="12.4" height="0.86" fill="#55a1dd"/><rect x="439.4" y="324.84" width="12.4" height="0.86" fill="#54a0dd"/><rect x="439.4" y="325.64" width="12.4" height="0.86" fill="#4e9ddc"/><rect x="439.4" y="326.45" width="12.4" height="0.86" fill="#519edc"/><rect x="439.4" y="327.25" width="12.4" height="0.86" fill="#4598da"/><rect x="439.4" y="328.06" width="12.4" height="0.86" fill="#4799da"/><rect x="439.4" y="328.87" width="12.4" height="0.86" fill="#4b9bdb"/><rect x="439.4" y="329.67" width="12.4" height="0.86" fill="#499adb"/><rect x="439.4" y="330.48" width="12.4" height="0.86" fill="#4899db"/><rect x="439.4" y="331.28" width="12.4" height="0.86" fill="#4798da"/><rect x="439.4" y="332.08" width="12.4" height="0.86" fill="#4497da"/><rect x="439.4" y="332.89" width="12.4" height="0.86" fill="#53a0dc"/><rect x="439.4" y="333.69" width="12.4" height="0.86" fill="#4a9adb"/><rect x="439.4" y="334.50" width="12.4" height="0.86" fill="#53a0dc"/><rect x="439.4" y="335.31" width="12.4" height="0.86" fill="#4d9cdb"/><rect x="439.4" y="336.11" width="12.4" height="0.86" fill="#4798da"/><rect x="439.4" y="336.92" width="12.4" height="0.86" fill="#4497da"/><rect x="439.4" y="337.72" width="12.4" height="0.86" fill="#4799da"/><rect x="439.4" y="338.52" width="12.4" height="0.86" fill="#55a1dd"/><rect x="439.4" y="339.33" width="12.4" height="0.86" fill="#4f9ddc"/><rect x="439.4" y="340.13" width="12.4" height="0.86" fill="#529fdc"/><rect x="439.4" y="340.94" width="12.4" height="0.86" fill="#4296da"/><rect x="439.4" y="341.75" width="12.4" height="0.86" fill="#53a0dc"/><rect x="439.4" y="342.55" width="12.4" height="0.86" fill="#5ea6de"/><rect x="439.4" y="343.36" width="12.4" height="0.86" fill="#5ca5de"/><rect x="439.4" y="344.16" width="12.4" height="0.86" fill="#61a8df"/><rect x="439.4" y="344.97" width="12.4" height="0.86" fill="#529fdc"/><rect x="439.4" y="345.77" width="12.4" height="0.86" fill="#56a2dd"/><rect x="439.4" y="346.58" width="12.4" height="0.86" fill="#5fa7df"/><rect x="439.4" y="347.38" width="12.4" height="0.86" fill="#59a3dd"/><rect x="439.4" y="348.19" width="12.4" height="0.86" fill="#61a8df"/><rect x="439.4" y="348.99" width="12.4" height="0.86" fill="#57a2dd"/><rect x="439.4" y="349.80" width="12.4" height="0.86" fill="#5ea6de"/><rect x="457.6" y="318.40" width="12.0" height="0.86" fill="#5ba5de"/><rect x="457.6" y="319.20" width="12.0" height="0.86" fill="#5aa4de"/><rect x="457.6" y="320.01" width="12.0" height="0.86" fill="#519fdc"/><rect x="457.6" y="320.81" width="12.0" height="0.86" fill="#509edc"/><rect x="457.6" y="321.62" width="12.0" height="0.86" fill="#56a1dd"/><rect x="457.6" y="322.42" width="12.0" height="0.86" fill="#509edc"/><rect x="457.6" y="323.23" width="12.0" height="0.86" fill="#55a1dd"/><rect x="457.6" y="324.03" width="12.0" height="0.86" fill="#59a4de"/><rect x="457.6" y="324.84" width="12.0" height="0.86" fill="#56a1dd"/><rect x="457.6" y="325.64" width="12.0" height="0.86" fill="#54a1dd"/><rect x="457.6" y="326.45" width="12.0" height="0.86" fill="#4a9bdb"/><rect x="457.6" y="327.25" width="12.0" height="0.86" fill="#5aa4de"/><rect x="457.6" y="328.06" width="12.0" height="0.86" fill="#5aa4de"/><rect x="457.6" y="328.87" width="12.0" height="0.86" fill="#519fdc"/><rect x="457.6" y="329.67" width="12.0" height="0.86" fill="#4a9adb"/><rect x="457.6" y="330.48" width="12.0" height="0.86" fill="#4b9bdb"/><rect x="457.6" y="331.28" width="12.0" height="0.86" fill="#4f9ddc"/><rect x="457.6" y="332.08" width="12.0" height="0.86" fill="#5ba4de"/><rect x="457.6" y="332.89" width="12.0" height="0.86" fill="#4d9cdb"/><rect x="457.6" y="333.69" width="12.0" height="0.86" fill="#4f9ddc"/><rect x="457.6" y="334.50" width="12.0" height="0.86" fill="#59a3de"/><rect x="457.6" y="335.31" width="12.0" height="0.86" fill="#53a0dc"/><rect x="457.6" y="336.11" width="12.0" height="0.86" fill="#5ba4de"/><rect x="457.6" y="336.92" width="12.0" height="0.86" fill="#4d9cdb"/><rect x="457.6" y="337.72" width="12.0" height="0.86" fill="#4e9ddc"/><rect x="457.6" y="338.52" width="12.0" height="0.86" fill="#4d9cdb"/><rect x="457.6" y="339.33" width="12.0" height="0.86" fill="#4d9cdb"/><rect x="457.6" y="340.13" width="12.0" height="0.86" fill="#57a2dd"/><rect x="457.6" y="340.94" width="12.0" height="0.86" fill="#4d9cdb"/><rect x="457.6" y="341.75" width="12.0" height="0.86" fill="#57a2dd"/><rect x="457.6" y="342.55" width="12.0" height="0.86" fill="#66abe0"/><rect x="457.6" y="343.36" width="12.0" height="0.86" fill="#61a8df"/><rect x="457.6" y="344.16" width="12.0" height="0.86" fill="#5fa7df"/><rect x="457.6" y="344.97" width="12.0" height="0.86" fill="#63a9df"/><rect x="457.6" y="345.77" width="12.0" height="0.86" fill="#5da6de"/><rect x="457.6" y="346.58" width="12.0" height="0.86" fill="#5da6de"/><rect x="457.6" y="347.38" width="12.0" height="0.86" fill="#64aadf"/><rect x="457.6" y="348.19" width="12.0" height="0.86" fill="#5da5de"/><rect x="457.6" y="348.99" width="12.0" height="0.86" fill="#62a8df"/><rect x="457.6" y="349.80" width="12.0" height="0.86" fill="#5ba4de"/><rect x="474.6" y="318.40" width="12.8" height="0.86" fill="#4095d9"/><rect x="474.6" y="319.20" width="12.8" height="0.86" fill="#368fd7"/><rect x="474.6" y="320.01" width="12.8" height="0.86" fill="#3e93d9"/><rect x="474.6" y="320.81" width="12.8" height="0.86" fill="#3b92d8"/><rect x="474.6" y="321.62" width="12.8" height="0.86" fill="#3990d8"/><rect x="474.6" y="322.42" width="12.8" height="0.86" fill="#3c92d8"/><rect x="474.6" y="323.23" width="12.8" height="0.86" fill="#4195d9"/><rect x="474.6" y="324.03" width="12.8" height="0.86" fill="#338dd7"/><rect x="474.6" y="324.84" width="12.8" height="0.86" fill="#4497da"/><rect x="474.6" y="325.64" width="12.8" height="0.86" fill="#3f94d9"/><rect x="474.6" y="326.45" width="12.8" height="0.86" fill="#3b92d8"/><rect x="474.6" y="327.25" width="12.8" height="0.86" fill="#4598da"/><rect x="474.6" y="328.06" width="12.8" height="0.86" fill="#4396da"/><rect x="474.6" y="328.87" width="12.8" height="0.86" fill="#368fd7"/><rect x="474.6" y="329.67" width="12.8" height="0.86" fill="#378fd7"/><rect x="474.6" y="330.48" width="12.8" height="0.86" fill="#3991d8"/><rect x="474.6" y="331.28" width="12.8" height="0.86" fill="#348ed7"/><rect x="474.6" y="332.08" width="12.8" height="0.86" fill="#378fd8"/><rect x="474.6" y="332.89" width="12.8" height="0.86" fill="#4094d9"/><rect x="474.6" y="333.69" width="12.8" height="0.86" fill="#3991d8"/><rect x="474.6" y="334.50" width="12.8" height="0.86" fill="#3f94d9"/><rect x="474.6" y="335.31" width="12.8" height="0.86" fill="#378fd8"/><rect x="474.6" y="336.11" width="12.8" height="0.86" fill="#3e93d9"/><rect x="474.6" y="336.92" width="12.8" height="0.86" fill="#4396da"/><rect x="474.6" y="337.72" width="12.8" height="0.86" fill="#358ed7"/><rect x="474.6" y="338.52" width="12.8" height="0.86" fill="#3890d8"/><rect x="474.6" y="339.33" width="12.8" height="0.86" fill="#378fd8"/><rect x="474.6" y="340.13" width="12.8" height="0.86" fill="#3b92d8"/><rect x="474.6" y="340.94" width="12.8" height="0.86" fill="#378fd7"/><rect x="474.6" y="341.75" width="12.8" height="0.86" fill="#3d93d9"/><rect x="474.6" y="342.55" width="12.8" height="0.86" fill="#3b91d8"/><rect x="474.6" y="343.36" width="12.8" height="0.86" fill="#4497da"/><rect x="474.6" y="344.16" width="12.8" height="0.86" fill="#3b92d8"/><rect x="474.6" y="344.97" width="12.8" height="0.86" fill="#368fd7"/><rect x="474.6" y="345.77" width="12.8" height="0.86" fill="#3890d8"/><rect x="474.6" y="346.58" width="12.8" height="0.86" fill="#368fd7"/><rect x="474.6" y="347.38" width="12.8" height="0.86" fill="#3c92d8"/><rect x="474.6" y="348.19" width="12.8" height="0.86" fill="#358ed7"/><rect x="474.6" y="348.99" width="12.8" height="0.86" fill="#4497da"/><rect x="474.6" y="349.80" width="12.8" height="0.86" fill="#358ed7"/><rect x="491.6" y="318.40" width="11.6" height="0.86" fill="#2e8ad6"/><rect x="491.6" y="319.20" width="11.6" height="0.86" fill="#348dd7"/><rect x="491.6" y="320.01" width="11.6" height="0.86" fill="#2a87d5"/><rect x="491.6" y="320.81" width="11.6" height="0.86" fill="#2d89d6"/><rect x="491.6" y="321.62" width="11.6" height="0.86" fill="#2d8ad6"/><rect x="491.6" y="322.42" width="11.6" height="0.86" fill="#2585d4"/><rect x="491.6" y="323.23" width="11.6" height="0.86" fill="#338dd7"/><rect x="491.6" y="324.03" width="11.6" height="0.86" fill="#2a87d5"/><rect x="491.6" y="324.84" width="11.6" height="0.86" fill="#2e8ad6"/><rect x="491.6" y="325.64" width="11.6" height="0.86" fill="#2b88d6"/><rect x="491.6" y="326.45" width="11.6" height="0.86" fill="#2c89d6"/><rect x="491.6" y="327.25" width="11.6" height="0.86" fill="#338dd7"/><rect x="491.6" y="328.06" width="11.6" height="0.86" fill="#2c89d6"/><rect x="491.6" y="328.87" width="11.6" height="0.86" fill="#2585d4"/><rect x="491.6" y="329.67" width="11.6" height="0.86" fill="#328dd7"/><rect x="491.6" y="330.48" width="11.6" height="0.86" fill="#358ed7"/><rect x="491.6" y="331.28" width="11.6" height="0.86" fill="#348ed7"/><rect x="491.6" y="332.08" width="11.6" height="0.86" fill="#2d89d6"/><rect x="491.6" y="332.89" width="11.6" height="0.86" fill="#2383d4"/><rect x="491.6" y="333.69" width="11.6" height="0.86" fill="#358ed7"/><rect x="491.6" y="334.50" width="11.6" height="0.86" fill="#2383d4"/><rect x="491.6" y="335.31" width="11.6" height="0.86" fill="#2b88d5"/><rect x="491.6" y="336.11" width="11.6" height="0.86" fill="#338dd7"/><rect x="491.6" y="336.92" width="11.6" height="0.86" fill="#2e8ad6"/><rect x="491.6" y="337.72" width="11.6" height="0.86" fill="#328cd7"/><rect x="491.6" y="338.52" width="11.6" height="0.86" fill="#2886d5"/><rect x="491.6" y="339.33" width="11.6" height="0.86" fill="#2b88d5"/><rect x="491.6" y="340.13" width="11.6" height="0.86" fill="#308bd6"/><rect x="491.6" y="340.94" width="11.6" height="0.86" fill="#318cd6"/><rect x="491.6" y="341.75" width="11.6" height="0.86" fill="#2585d4"/><rect x="491.6" y="342.55" width="11.6" height="0.86" fill="#2786d5"/><rect x="491.6" y="343.36" width="11.6" height="0.86" fill="#2d8ad6"/><rect x="491.6" y="344.16" width="11.6" height="0.86" fill="#2e8ad6"/><rect x="491.6" y="344.97" width="11.6" height="0.86" fill="#2786d5"/><rect x="491.6" y="345.77" width="11.6" height="0.86" fill="#2383d4"/><rect x="491.6" y="346.58" width="11.6" height="0.86" fill="#348ed7"/><rect x="491.6" y="347.38" width="11.6" height="0.86" fill="#338dd7"/><rect x="491.6" y="348.19" width="11.6" height="0.86" fill="#2f8ad6"/><rect x="491.6" y="348.99" width="11.6" height="0.86" fill="#2c89d6"/><rect x="491.6" y="349.80" width="11.6" height="0.86" fill="#348ed7"/><rect x="508.6" y="318.40" width="12.2" height="0.86" fill="#519fdc"/><rect x="508.6" y="319.20" width="12.2" height="0.86" fill="#4e9ddc"/><rect x="508.6" y="320.01" width="12.2" height="0.86" fill="#4b9bdb"/><rect x="508.6" y="320.81" width="12.2" height="0.86" fill="#4497da"/><rect x="508.6" y="321.62" width="12.2" height="0.86" fill="#4798da"/><rect x="508.6" y="322.42" width="12.2" height="0.86" fill="#529fdc"/><rect x="508.6" y="323.23" width="12.2" height="0.86" fill="#529fdc"/><rect x="508.6" y="324.03" width="12.2" height="0.86" fill="#4a9adb"/><rect x="508.6" y="324.84" width="12.2" height="0.86" fill="#4295d9"/><rect x="508.6" y="325.64" width="12.2" height="0.86" fill="#4195d9"/><rect x="508.6" y="326.45" width="12.2" height="0.86" fill="#4b9bdb"/><rect x="508.6" y="327.25" width="12.2" height="0.86" fill="#4195d9"/><rect x="508.6" y="328.06" width="12.2" height="0.86" fill="#4195d9"/><rect x="508.6" y="328.87" width="12.2" height="0.86" fill="#4b9bdb"/><rect x="508.6" y="329.67" width="12.2" height="0.86" fill="#4497da"/><rect x="508.6" y="330.48" width="12.2" height="0.86" fill="#4b9bdb"/><rect x="508.6" y="331.28" width="12.2" height="0.86" fill="#4f9edc"/><rect x="508.6" y="332.08" width="12.2" height="0.86" fill="#4799da"/><rect x="508.6" y="332.89" width="12.2" height="0.86" fill="#519edc"/><rect x="508.6" y="333.69" width="12.2" height="0.86" fill="#4698da"/><rect x="508.6" y="334.50" width="12.2" height="0.86" fill="#4396da"/><rect x="508.6" y="335.31" width="12.2" height="0.86" fill="#4195d9"/><rect x="508.6" y="336.11" width="12.2" height="0.86" fill="#4a9adb"/><rect x="508.6" y="336.92" width="12.2" height="0.86" fill="#509edc"/><rect x="508.6" y="337.72" width="12.2" height="0.86" fill="#4195d9"/><rect x="508.6" y="338.52" width="12.2" height="0.86" fill="#4296d9"/><rect x="508.6" y="339.33" width="12.2" height="0.86" fill="#4094d9"/><rect x="508.6" y="340.13" width="12.2" height="0.86" fill="#4799da"/><rect x="508.6" y="340.94" width="12.2" height="0.86" fill="#4598da"/><rect x="508.6" y="341.75" width="12.2" height="0.86" fill="#4b9bdb"/><rect x="508.6" y="342.55" width="12.2" height="0.86" fill="#4f9ddc"/><rect x="508.6" y="343.36" width="12.2" height="0.86" fill="#4d9cdb"/><rect x="508.6" y="344.16" width="12.2" height="0.86" fill="#4597da"/><rect x="508.6" y="344.97" width="12.2" height="0.86" fill="#4c9cdb"/><rect x="508.6" y="345.77" width="12.2" height="0.86" fill="#4598da"/><rect x="508.6" y="346.58" width="12.2" height="0.86" fill="#499adb"/><rect x="508.6" y="347.38" width="12.2" height="0.86" fill="#4a9adb"/><rect x="508.6" y="348.19" width="12.2" height="0.86" fill="#4094d9"/><rect x="508.6" y="348.99" width="12.2" height="0.86" fill="#4f9ddc"/><rect x="508.6" y="349.80" width="12.2" height="0.86" fill="#499adb"/><rect x="526.0" y="318.40" width="13.0" height="0.86" fill="#8dc2e7"/><rect x="526.0" y="319.20" width="13.0" height="0.86" fill="#95c6e8"/><rect x="526.0" y="320.01" width="13.0" height="0.86" fill="#91c4e7"/><rect x="526.0" y="320.81" width="13.0" height="0.86" fill="#97c8e8"/><rect x="526.0" y="321.62" width="13.0" height="0.86" fill="#94c6e8"/><rect x="526.0" y="322.42" width="13.0" height="0.86" fill="#92c5e7"/><rect x="526.0" y="323.23" width="13.0" height="0.86" fill="#8dc2e7"/><rect x="526.0" y="324.03" width="13.0" height="0.86" fill="#8fc3e7"/><rect x="526.0" y="324.84" width="13.0" height="0.86" fill="#92c5e7"/><rect x="526.0" y="325.64" width="13.0" height="0.86" fill="#94c6e8"/><rect x="526.0" y="326.45" width="13.0" height="0.86" fill="#8fc3e7"/><rect x="526.0" y="327.25" width="13.0" height="0.86" fill="#98c8e9"/><rect x="526.0" y="328.06" width="13.0" height="0.86" fill="#90c3e7"/><rect x="526.0" y="328.87" width="13.0" height="0.86" fill="#94c6e8"/><rect x="526.0" y="329.67" width="13.0" height="0.86" fill="#97c7e8"/><rect x="526.0" y="330.48" width="13.0" height="0.86" fill="#91c4e7"/><rect x="526.0" y="331.28" width="13.0" height="0.86" fill="#8ec2e7"/><rect x="526.0" y="332.08" width="13.0" height="0.86" fill="#8fc3e7"/><rect x="526.0" y="332.89" width="13.0" height="0.86" fill="#98c9e9"/><rect x="526.0" y="333.69" width="13.0" height="0.86" fill="#96c7e8"/><rect x="526.0" y="334.50" width="13.0" height="0.86" fill="#95c7e8"/><rect x="526.0" y="335.31" width="13.0" height="0.86" fill="#8fc3e7"/><rect x="526.0" y="336.11" width="13.0" height="0.86" fill="#85bde5"/><rect x="526.0" y="336.92" width="13.0" height="0.86" fill="#8bc0e6"/><rect x="526.0" y="337.72" width="13.0" height="0.86" fill="#8ac0e6"/><rect x="526.0" y="338.52" width="13.0" height="0.86" fill="#82bbe5"/><rect x="526.0" y="339.33" width="13.0" height="0.86" fill="#82bce5"/><rect x="526.0" y="340.13" width="13.0" height="0.86" fill="#78b5e3"/><rect x="526.0" y="340.94" width="13.0" height="0.86" fill="#70b1e1"/><rect x="526.0" y="341.75" width="13.0" height="0.86" fill="#70b1e2"/><rect x="526.0" y="342.55" width="13.0" height="0.86" fill="#73b2e2"/><rect x="526.0" y="343.36" width="13.0" height="0.86" fill="#69ace0"/><rect x="526.0" y="344.16" width="13.0" height="0.86" fill="#64aadf"/><rect x="526.0" y="344.97" width="13.0" height="0.86" fill="#6aade0"/><rect x="526.0" y="345.77" width="13.0" height="0.86" fill="#66abe0"/><rect x="526.0" y="346.58" width="13.0" height="0.86" fill="#5ca5de"/><rect x="526.0" y="347.38" width="13.0" height="0.86" fill="#5ba4de"/><rect x="526.0" y="348.19" width="13.0" height="0.86" fill="#5da6de"/><rect x="526.0" y="348.99" width="13.0" height="0.86" fill="#5aa4de"/><rect x="526.0" y="349.80" width="13.0" height="0.86" fill="#4e9ddc"/></g>
<g filter="url(#bl3)"><ellipse cx="394.6" cy="323.0" rx="4.8" ry="2.2" fill="#2c78d6"/><ellipse cx="394.6" cy="346.4" rx="4.8" ry="2.3" fill="#2c78d6"/></g>
<rect x="387.2" y="318.4" width="157.2" height="32.200000000000045" fill="none" stroke="#222" stroke-width="1.1"/>
</svg>
</body></html>
